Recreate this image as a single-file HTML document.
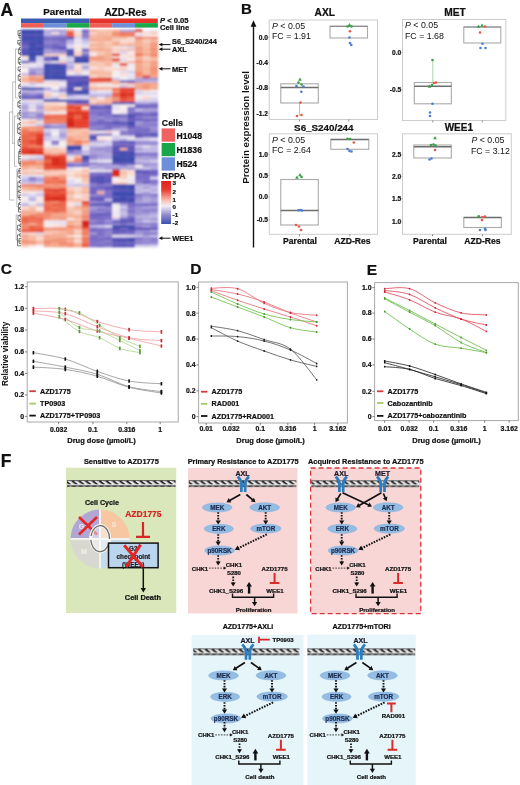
<!DOCTYPE html>
<html><head><meta charset="utf-8"><style>
html,body{margin:0;padding:0;background:#fff;}
svg{display:block;filter:blur(0.35px);}
text{font-family:'Liberation Sans',sans-serif;}
</style></head><body>
<svg width="520" height="785" viewBox="0 0 520 785">
<defs><filter id="hb" x="-2%" y="-2%" width="104%" height="104%"><feGaussianBlur stdDeviation="0.8"/></filter></defs>
<rect width="520" height="785" fill="#fff"/>
<text x="0.5" y="15.6" text-anchor="start" fill="#111" stroke="#111" stroke-width="0.22" style="font-size:17.5px;font-weight:bold;" >A</text>
<text x="62.5" y="15" text-anchor="middle" fill="#111" stroke="#111" stroke-width="0.22" style="font-size:9.8px;font-weight:bold;" >Parental</text>
<text x="125.5" y="15.6" text-anchor="middle" fill="#111" stroke="#111" stroke-width="0.22" style="font-size:10px;font-weight:bold;" >AZD-Res</text>
<rect x="21" y="18.5" width="68.4" height="4.6" fill="#3c5bb2"/>
<rect x="89.4" y="18.5" width="68.4" height="4.6" fill="#e6342a"/>
<rect x="21.00" y="23.1" width="22.9" height="4.5" fill="#ee5f58"/>
<rect x="43.80" y="23.1" width="22.9" height="4.5" fill="#6f8fd6"/>
<rect x="66.60" y="23.1" width="22.9" height="4.5" fill="#1aa84a"/>
<rect x="89.40" y="23.1" width="22.9" height="4.5" fill="#ee5f58"/>
<rect x="112.20" y="23.1" width="22.9" height="4.5" fill="#6f8fd6"/>
<rect x="135.00" y="23.1" width="22.9" height="4.5" fill="#1aa84a"/>
<g filter="url(#hb)"><rect x="21.0" y="29.50" width="7.9" height="2.72" fill="#3e4aae"/>
<rect x="28.6" y="29.50" width="7.9" height="2.72" fill="#3d4aae"/>
<rect x="36.2" y="29.50" width="7.9" height="2.72" fill="#3d4aae"/>
<rect x="21.0" y="31.92" width="7.9" height="2.72" fill="#3d4aae"/>
<rect x="28.6" y="31.92" width="7.9" height="2.72" fill="#3d4aae"/>
<rect x="36.2" y="31.92" width="7.9" height="2.72" fill="#3d4aae"/>
<rect x="21.0" y="34.33" width="7.9" height="2.72" fill="#514fb5"/>
<rect x="28.6" y="34.33" width="7.9" height="2.72" fill="#5350b5"/>
<rect x="36.2" y="34.33" width="7.9" height="2.72" fill="#514fb4"/>
<rect x="21.0" y="36.75" width="7.9" height="2.72" fill="#3d4aae"/>
<rect x="28.6" y="36.75" width="7.9" height="2.72" fill="#3d4aae"/>
<rect x="36.2" y="36.75" width="7.9" height="2.72" fill="#3d4aae"/>
<rect x="21.0" y="39.17" width="7.9" height="2.72" fill="#3d4aae"/>
<rect x="28.6" y="39.17" width="7.9" height="2.72" fill="#3d4aae"/>
<rect x="36.2" y="39.17" width="7.9" height="2.72" fill="#3d4aae"/>
<rect x="21.0" y="41.58" width="7.9" height="2.72" fill="#6156ba"/>
<rect x="28.6" y="41.58" width="7.9" height="2.72" fill="#484db1"/>
<rect x="36.2" y="41.58" width="7.9" height="2.72" fill="#3d4aae"/>
<rect x="21.0" y="44.00" width="7.9" height="2.72" fill="#665abd"/>
<rect x="28.6" y="44.00" width="7.9" height="2.72" fill="#3d4aae"/>
<rect x="36.2" y="44.00" width="7.9" height="2.72" fill="#5450b5"/>
<rect x="21.0" y="46.42" width="7.9" height="2.72" fill="#7266c3"/>
<rect x="28.6" y="46.42" width="7.9" height="2.72" fill="#404baf"/>
<rect x="36.2" y="46.42" width="7.9" height="2.72" fill="#3f4aaf"/>
<rect x="21.0" y="48.83" width="7.9" height="2.72" fill="#5550b6"/>
<rect x="28.6" y="48.83" width="7.9" height="2.72" fill="#3e4aae"/>
<rect x="36.2" y="48.83" width="7.9" height="2.72" fill="#3d4aae"/>
<rect x="21.0" y="51.25" width="7.9" height="2.72" fill="#4b4eb2"/>
<rect x="28.6" y="51.25" width="7.9" height="2.72" fill="#3d4aae"/>
<rect x="36.2" y="51.25" width="7.9" height="2.72" fill="#424bb0"/>
<rect x="21.0" y="53.67" width="7.9" height="2.72" fill="#514fb4"/>
<rect x="28.6" y="53.67" width="7.9" height="2.72" fill="#3d4aae"/>
<rect x="36.2" y="53.67" width="7.9" height="2.72" fill="#3d4aae"/>
<rect x="21.0" y="56.08" width="7.9" height="2.72" fill="#f7e0db"/>
<rect x="28.6" y="56.08" width="7.9" height="2.72" fill="#3d4aae"/>
<rect x="36.2" y="56.08" width="7.9" height="2.72" fill="#d2ccec"/>
<rect x="21.0" y="58.50" width="7.9" height="2.72" fill="#e7e2f0"/>
<rect x="28.6" y="58.50" width="7.9" height="2.72" fill="#404baf"/>
<rect x="36.2" y="58.50" width="7.9" height="2.72" fill="#d2ccec"/>
<rect x="21.0" y="60.92" width="7.9" height="2.72" fill="#3d4aae"/>
<rect x="28.6" y="60.92" width="7.9" height="2.72" fill="#9488d1"/>
<rect x="36.2" y="60.92" width="7.9" height="2.72" fill="#e1dbef"/>
<rect x="21.0" y="63.33" width="7.9" height="2.72" fill="#f6eaea"/>
<rect x="28.6" y="63.33" width="7.9" height="2.72" fill="#f5edee"/>
<rect x="36.2" y="63.33" width="7.9" height="2.72" fill="#e5e0f0"/>
<rect x="21.0" y="65.75" width="7.9" height="2.72" fill="#dcd6ef"/>
<rect x="28.6" y="65.75" width="7.9" height="2.72" fill="#ded8ef"/>
<rect x="36.2" y="65.75" width="7.9" height="2.72" fill="#d2ccec"/>
<rect x="21.0" y="68.17" width="7.9" height="2.72" fill="#f5eff0"/>
<rect x="28.6" y="68.17" width="7.9" height="2.72" fill="#a59ad8"/>
<rect x="36.2" y="68.17" width="7.9" height="2.72" fill="#a296d6"/>
<rect x="21.0" y="70.58" width="7.9" height="2.72" fill="#f5eff1"/>
<rect x="28.6" y="70.58" width="7.9" height="2.72" fill="#9d92d5"/>
<rect x="36.2" y="70.58" width="7.9" height="2.72" fill="#bbb1e1"/>
<rect x="21.0" y="73.00" width="7.9" height="2.72" fill="#c5bde6"/>
<rect x="28.6" y="73.00" width="7.9" height="2.72" fill="#887acc"/>
<rect x="36.2" y="73.00" width="7.9" height="2.72" fill="#9f93d5"/>
<rect x="21.0" y="75.42" width="7.9" height="2.72" fill="#f8c8b6"/>
<rect x="28.6" y="75.42" width="7.9" height="2.72" fill="#f4a88d"/>
<rect x="36.2" y="75.42" width="7.9" height="2.72" fill="#f5b198"/>
<rect x="21.0" y="77.83" width="7.9" height="2.72" fill="#f6b69e"/>
<rect x="28.6" y="77.83" width="7.9" height="2.72" fill="#f18b6e"/>
<rect x="36.2" y="77.83" width="7.9" height="2.72" fill="#f29579"/>
<rect x="21.0" y="80.25" width="7.9" height="2.72" fill="#f5b197"/>
<rect x="28.6" y="80.25" width="7.9" height="2.72" fill="#f4a78c"/>
<rect x="36.2" y="80.25" width="7.9" height="2.72" fill="#f1896c"/>
<rect x="21.0" y="82.67" width="7.9" height="2.72" fill="#f3eef2"/>
<rect x="28.6" y="82.67" width="7.9" height="2.72" fill="#d0caeb"/>
<rect x="36.2" y="82.67" width="7.9" height="2.72" fill="#e3ddf0"/>
<rect x="21.0" y="85.08" width="7.9" height="2.72" fill="#d0c9eb"/>
<rect x="28.6" y="85.08" width="7.9" height="2.72" fill="#e7e1f0"/>
<rect x="36.2" y="85.08" width="7.9" height="2.72" fill="#f5eeef"/>
<rect x="21.0" y="87.50" width="7.9" height="2.72" fill="#3d4aae"/>
<rect x="28.6" y="87.50" width="7.9" height="2.72" fill="#3d4aae"/>
<rect x="36.2" y="87.50" width="7.9" height="2.72" fill="#3d4aae"/>
<rect x="21.0" y="89.92" width="7.9" height="2.72" fill="#bbb2e1"/>
<rect x="28.6" y="89.92" width="7.9" height="2.72" fill="#b3a9de"/>
<rect x="36.2" y="89.92" width="7.9" height="2.72" fill="#c2bae5"/>
<rect x="21.0" y="92.33" width="7.9" height="2.72" fill="#978bd2"/>
<rect x="28.6" y="92.33" width="7.9" height="2.72" fill="#a89dd9"/>
<rect x="36.2" y="92.33" width="7.9" height="2.72" fill="#9c90d4"/>
<rect x="21.0" y="94.75" width="7.9" height="2.72" fill="#7669c5"/>
<rect x="28.6" y="94.75" width="7.9" height="2.72" fill="#7c6ec8"/>
<rect x="36.2" y="94.75" width="7.9" height="2.72" fill="#685cbe"/>
<rect x="21.0" y="97.17" width="7.9" height="2.72" fill="#6258bb"/>
<rect x="28.6" y="97.17" width="7.9" height="2.72" fill="#6257bb"/>
<rect x="36.2" y="97.17" width="7.9" height="2.72" fill="#6156ba"/>
<rect x="21.0" y="99.58" width="7.9" height="2.72" fill="#e8e3f0"/>
<rect x="28.6" y="99.58" width="7.9" height="2.72" fill="#f7e1dc"/>
<rect x="36.2" y="99.58" width="7.9" height="2.72" fill="#e5dff0"/>
<rect x="21.0" y="102.00" width="7.9" height="2.72" fill="#ccc5e9"/>
<rect x="28.6" y="102.00" width="7.9" height="2.72" fill="#d3cded"/>
<rect x="36.2" y="102.00" width="7.9" height="2.72" fill="#cfc9eb"/>
<rect x="21.0" y="104.42" width="7.9" height="2.72" fill="#b4aade"/>
<rect x="28.6" y="104.42" width="7.9" height="2.72" fill="#e0daef"/>
<rect x="36.2" y="104.42" width="7.9" height="2.72" fill="#bab1e1"/>
<rect x="21.0" y="106.83" width="7.9" height="2.72" fill="#a99ed9"/>
<rect x="28.6" y="106.83" width="7.9" height="2.72" fill="#dad4ee"/>
<rect x="36.2" y="106.83" width="7.9" height="2.72" fill="#a69ad8"/>
<rect x="21.0" y="109.25" width="7.9" height="2.72" fill="#c4bce6"/>
<rect x="28.6" y="109.25" width="7.9" height="2.72" fill="#f7e4e1"/>
<rect x="36.2" y="109.25" width="7.9" height="2.72" fill="#c1b8e4"/>
<rect x="21.0" y="111.67" width="7.9" height="2.72" fill="#9c90d4"/>
<rect x="28.6" y="111.67" width="7.9" height="2.72" fill="#a095d6"/>
<rect x="36.2" y="111.67" width="7.9" height="2.72" fill="#aca1da"/>
<rect x="21.0" y="114.08" width="7.9" height="2.72" fill="#a79cd8"/>
<rect x="28.6" y="114.08" width="7.9" height="2.72" fill="#bcb3e2"/>
<rect x="36.2" y="114.08" width="7.9" height="2.72" fill="#8476cb"/>
<rect x="21.0" y="116.50" width="7.9" height="2.72" fill="#9689d2"/>
<rect x="28.6" y="116.50" width="7.9" height="2.72" fill="#978bd2"/>
<rect x="36.2" y="116.50" width="7.9" height="2.72" fill="#9689d2"/>
<rect x="21.0" y="118.92" width="7.9" height="2.72" fill="#f4eff2"/>
<rect x="28.6" y="118.92" width="7.9" height="2.72" fill="#f8dbd3"/>
<rect x="36.2" y="118.92" width="7.9" height="2.72" fill="#c4bce5"/>
<rect x="21.0" y="121.33" width="7.9" height="2.72" fill="#f7c0aa"/>
<rect x="28.6" y="121.33" width="7.9" height="2.72" fill="#f5b299"/>
<rect x="36.2" y="121.33" width="7.9" height="2.72" fill="#f8ddd6"/>
<rect x="21.0" y="123.75" width="7.9" height="2.72" fill="#efeaf1"/>
<rect x="28.6" y="123.75" width="7.9" height="2.72" fill="#eae4f1"/>
<rect x="36.2" y="123.75" width="7.9" height="2.72" fill="#c9c2e8"/>
<rect x="21.0" y="126.17" width="7.9" height="2.72" fill="#f39b7e"/>
<rect x="28.6" y="126.17" width="7.9" height="2.72" fill="#f28f72"/>
<rect x="36.2" y="126.17" width="7.9" height="2.72" fill="#f18467"/>
<rect x="21.0" y="128.58" width="7.9" height="2.72" fill="#f08164"/>
<rect x="28.6" y="128.58" width="7.9" height="2.72" fill="#f3a387"/>
<rect x="36.2" y="128.58" width="7.9" height="2.72" fill="#f29578"/>
<rect x="21.0" y="131.00" width="7.9" height="2.72" fill="#ef6f52"/>
<rect x="28.6" y="131.00" width="7.9" height="2.72" fill="#ee6a4d"/>
<rect x="36.2" y="131.00" width="7.9" height="2.72" fill="#ec6247"/>
<rect x="21.0" y="133.42" width="7.9" height="2.72" fill="#ee6c4f"/>
<rect x="28.6" y="133.42" width="7.9" height="2.72" fill="#ea553c"/>
<rect x="36.2" y="133.42" width="7.9" height="2.72" fill="#e53d29"/>
<rect x="21.0" y="135.83" width="7.9" height="2.72" fill="#ec6045"/>
<rect x="28.6" y="135.83" width="7.9" height="2.72" fill="#ef6e51"/>
<rect x="36.2" y="135.83" width="7.9" height="2.72" fill="#e43c28"/>
<rect x="21.0" y="138.25" width="7.9" height="2.72" fill="#ec6045"/>
<rect x="28.6" y="138.25" width="7.9" height="2.72" fill="#ed6347"/>
<rect x="36.2" y="138.25" width="7.9" height="2.72" fill="#db2d1f"/>
<rect x="21.0" y="140.67" width="7.9" height="2.72" fill="#ec6045"/>
<rect x="28.6" y="140.67" width="7.9" height="2.72" fill="#e6402a"/>
<rect x="36.2" y="140.67" width="7.9" height="2.72" fill="#e43b28"/>
<rect x="21.0" y="143.08" width="7.9" height="2.72" fill="#ed6247"/>
<rect x="28.6" y="143.08" width="7.9" height="2.72" fill="#ec5e43"/>
<rect x="36.2" y="143.08" width="7.9" height="2.72" fill="#dd3121"/>
<rect x="21.0" y="145.50" width="7.9" height="2.72" fill="#ed6549"/>
<rect x="28.6" y="145.50" width="7.9" height="2.72" fill="#f07c5f"/>
<rect x="36.2" y="145.50" width="7.9" height="2.72" fill="#f07c5f"/>
<rect x="21.0" y="147.92" width="7.9" height="2.72" fill="#e63f2a"/>
<rect x="28.6" y="147.92" width="7.9" height="2.72" fill="#e63f2a"/>
<rect x="36.2" y="147.92" width="7.9" height="2.72" fill="#e7442e"/>
<rect x="21.0" y="150.33" width="7.9" height="2.72" fill="#db2d1f"/>
<rect x="28.6" y="150.33" width="7.9" height="2.72" fill="#d8281c"/>
<rect x="36.2" y="150.33" width="7.9" height="2.72" fill="#e13825"/>
<rect x="21.0" y="152.75" width="7.9" height="2.72" fill="#e84b34"/>
<rect x="28.6" y="152.75" width="7.9" height="2.72" fill="#e33a27"/>
<rect x="36.2" y="152.75" width="7.9" height="2.72" fill="#e03524"/>
<rect x="21.0" y="155.17" width="7.9" height="2.72" fill="#f5eff1"/>
<rect x="28.6" y="155.17" width="7.9" height="2.72" fill="#eee9f1"/>
<rect x="36.2" y="155.17" width="7.9" height="2.72" fill="#ded9ef"/>
<rect x="21.0" y="157.58" width="7.9" height="2.72" fill="#dbd6ef"/>
<rect x="28.6" y="157.58" width="7.9" height="2.72" fill="#c6bee6"/>
<rect x="36.2" y="157.58" width="7.9" height="2.72" fill="#beb5e3"/>
<rect x="21.0" y="160.00" width="7.9" height="2.72" fill="#f29578"/>
<rect x="28.6" y="160.00" width="7.9" height="2.72" fill="#f1896c"/>
<rect x="36.2" y="160.00" width="7.9" height="2.72" fill="#f3a488"/>
<rect x="21.0" y="162.42" width="7.9" height="2.72" fill="#f07c5f"/>
<rect x="28.6" y="162.42" width="7.9" height="2.72" fill="#f07d5f"/>
<rect x="36.2" y="162.42" width="7.9" height="2.72" fill="#f18e71"/>
<rect x="21.0" y="164.83" width="7.9" height="2.72" fill="#f3a287"/>
<rect x="28.6" y="164.83" width="7.9" height="2.72" fill="#f4ac91"/>
<rect x="36.2" y="164.83" width="7.9" height="2.72" fill="#f4ab91"/>
<rect x="21.0" y="167.25" width="7.9" height="2.72" fill="#f4a98f"/>
<rect x="28.6" y="167.25" width="7.9" height="2.72" fill="#f7bea7"/>
<rect x="36.2" y="167.25" width="7.9" height="2.72" fill="#f4ab90"/>
<rect x="21.0" y="169.67" width="7.9" height="2.72" fill="#f9d6cc"/>
<rect x="28.6" y="169.67" width="7.9" height="2.72" fill="#f8dcd4"/>
<rect x="36.2" y="169.67" width="7.9" height="2.72" fill="#f6e6e4"/>
<rect x="21.0" y="172.08" width="7.9" height="2.72" fill="#f6b79e"/>
<rect x="28.6" y="172.08" width="7.9" height="2.72" fill="#f7bea7"/>
<rect x="36.2" y="172.08" width="7.9" height="2.72" fill="#f5b298"/>
<rect x="21.0" y="174.50" width="7.9" height="2.72" fill="#e3ddf0"/>
<rect x="28.6" y="174.50" width="7.9" height="2.72" fill="#e9e4f0"/>
<rect x="36.2" y="174.50" width="7.9" height="2.72" fill="#ebe5f1"/>
<rect x="21.0" y="176.92" width="7.9" height="2.72" fill="#d2ccec"/>
<rect x="28.6" y="176.92" width="7.9" height="2.72" fill="#8578cc"/>
<rect x="36.2" y="176.92" width="7.9" height="2.72" fill="#b5acdf"/>
<rect x="21.0" y="179.33" width="7.9" height="2.72" fill="#b5acdf"/>
<rect x="28.6" y="179.33" width="7.9" height="2.72" fill="#988bd2"/>
<rect x="36.2" y="179.33" width="7.9" height="2.72" fill="#a69bd8"/>
<rect x="21.0" y="181.75" width="7.9" height="2.72" fill="#d1caec"/>
<rect x="28.6" y="181.75" width="7.9" height="2.72" fill="#c8c1e8"/>
<rect x="36.2" y="181.75" width="7.9" height="2.72" fill="#d5cfed"/>
<rect x="21.0" y="184.17" width="7.9" height="2.72" fill="#f08063"/>
<rect x="28.6" y="184.17" width="7.9" height="2.72" fill="#f07b5d"/>
<rect x="36.2" y="184.17" width="7.9" height="2.72" fill="#ef7658"/>
<rect x="21.0" y="186.58" width="7.9" height="2.72" fill="#f5b097"/>
<rect x="28.6" y="186.58" width="7.9" height="2.72" fill="#f4a98f"/>
<rect x="36.2" y="186.58" width="7.9" height="2.72" fill="#f2987c"/>
<rect x="21.0" y="189.00" width="7.9" height="2.72" fill="#f7c2ad"/>
<rect x="28.6" y="189.00" width="7.9" height="2.72" fill="#f5b299"/>
<rect x="36.2" y="189.00" width="7.9" height="2.72" fill="#f6b49b"/>
<rect x="21.0" y="191.42" width="7.9" height="2.72" fill="#f6e7e4"/>
<rect x="28.6" y="191.42" width="7.9" height="2.72" fill="#f5eeef"/>
<rect x="36.2" y="191.42" width="7.9" height="2.72" fill="#e5e0f0"/>
<rect x="21.0" y="193.83" width="7.9" height="2.72" fill="#c8c0e7"/>
<rect x="28.6" y="193.83" width="7.9" height="2.72" fill="#ded8ef"/>
<rect x="36.2" y="193.83" width="7.9" height="2.72" fill="#c9c1e8"/>
<rect x="21.0" y="196.25" width="7.9" height="2.72" fill="#f5f0f2"/>
<rect x="28.6" y="196.25" width="7.9" height="2.72" fill="#cbc3e9"/>
<rect x="36.2" y="196.25" width="7.9" height="2.72" fill="#f6e9e7"/>
<rect x="21.0" y="198.67" width="7.9" height="2.72" fill="#f6e8e7"/>
<rect x="28.6" y="198.67" width="7.9" height="2.72" fill="#b8aee0"/>
<rect x="36.2" y="198.67" width="7.9" height="2.72" fill="#f6e9e7"/>
<rect x="21.0" y="201.08" width="7.9" height="2.72" fill="#ebe6f1"/>
<rect x="28.6" y="201.08" width="7.9" height="2.72" fill="#f0ebf1"/>
<rect x="36.2" y="201.08" width="7.9" height="2.72" fill="#f7e5e2"/>
<rect x="21.0" y="203.50" width="7.9" height="2.72" fill="#b4aade"/>
<rect x="28.6" y="203.50" width="7.9" height="2.72" fill="#e5e0f0"/>
<rect x="36.2" y="203.50" width="7.9" height="2.72" fill="#bab1e1"/>
<rect x="21.0" y="205.92" width="7.9" height="2.72" fill="#f9d9d0"/>
<rect x="28.6" y="205.92" width="7.9" height="2.72" fill="#f7c2ad"/>
<rect x="36.2" y="205.92" width="7.9" height="2.72" fill="#f8ddd7"/>
<rect x="21.0" y="208.33" width="7.9" height="2.72" fill="#f8d0c2"/>
<rect x="28.6" y="208.33" width="7.9" height="2.72" fill="#f6bba3"/>
<rect x="36.2" y="208.33" width="7.9" height="2.72" fill="#f5eef0"/>
<rect x="21.0" y="210.75" width="7.9" height="2.72" fill="#f3a287"/>
<rect x="28.6" y="210.75" width="7.9" height="2.72" fill="#f5b39a"/>
<rect x="36.2" y="210.75" width="7.9" height="2.72" fill="#f6b59c"/>
<rect x="21.0" y="213.17" width="7.9" height="2.72" fill="#f5b096"/>
<rect x="28.6" y="213.17" width="7.9" height="2.72" fill="#f2997d"/>
<rect x="36.2" y="213.17" width="7.9" height="2.72" fill="#f18467"/>
<rect x="21.0" y="215.58" width="7.9" height="2.72" fill="#f0795b"/>
<rect x="28.6" y="215.58" width="7.9" height="2.72" fill="#ee6c4f"/>
<rect x="36.2" y="215.58" width="7.9" height="2.72" fill="#f08264"/>
<rect x="21.0" y="218.00" width="7.9" height="2.72" fill="#eb5c42"/>
<rect x="28.6" y="218.00" width="7.9" height="2.72" fill="#ef7052"/>
<rect x="36.2" y="218.00" width="7.9" height="2.72" fill="#ed674b"/>
<rect x="21.0" y="220.42" width="7.9" height="2.72" fill="#ec6246"/>
<rect x="28.6" y="220.42" width="7.9" height="2.72" fill="#ee6b4e"/>
<rect x="36.2" y="220.42" width="7.9" height="2.72" fill="#ee6d4f"/>
<rect x="21.0" y="222.83" width="7.9" height="2.72" fill="#f18669"/>
<rect x="28.6" y="222.83" width="7.9" height="2.72" fill="#f4a88e"/>
<rect x="36.2" y="222.83" width="7.9" height="2.72" fill="#f08164"/>
<rect x="21.0" y="225.25" width="7.9" height="2.72" fill="#f1886b"/>
<rect x="28.6" y="225.25" width="7.9" height="2.72" fill="#ed6347"/>
<rect x="36.2" y="225.25" width="7.9" height="2.72" fill="#ef7355"/>
<rect x="21.0" y="227.67" width="7.9" height="2.72" fill="#f08063"/>
<rect x="28.6" y="227.67" width="7.9" height="2.72" fill="#ec5e43"/>
<rect x="36.2" y="227.67" width="7.9" height="2.72" fill="#ec5f44"/>
<rect x="21.0" y="230.08" width="7.9" height="2.72" fill="#e94d36"/>
<rect x="28.6" y="230.08" width="7.9" height="2.72" fill="#ea523a"/>
<rect x="36.2" y="230.08" width="7.9" height="2.72" fill="#e84c35"/>
<rect x="21.0" y="232.50" width="7.9" height="2.72" fill="#f9d5cb"/>
<rect x="28.6" y="232.50" width="7.9" height="2.72" fill="#f8ddd7"/>
<rect x="36.2" y="232.50" width="7.9" height="2.72" fill="#ded8ef"/>
<rect x="21.0" y="234.92" width="7.9" height="2.72" fill="#f29679"/>
<rect x="28.6" y="234.92" width="7.9" height="2.72" fill="#f6b79e"/>
<rect x="36.2" y="234.92" width="7.9" height="2.72" fill="#f8c6b4"/>
<rect x="21.0" y="237.33" width="7.9" height="2.72" fill="#f6b8a0"/>
<rect x="28.6" y="237.33" width="7.9" height="2.72" fill="#f7bea7"/>
<rect x="36.2" y="237.33" width="7.9" height="2.72" fill="#f8dcd4"/>
<rect x="21.0" y="239.75" width="7.9" height="2.72" fill="#f29073"/>
<rect x="28.6" y="239.75" width="7.9" height="2.72" fill="#f4a78c"/>
<rect x="36.2" y="239.75" width="7.9" height="2.72" fill="#f7c0a9"/>
<rect x="21.0" y="242.17" width="7.9" height="2.72" fill="#f2987b"/>
<rect x="28.6" y="242.17" width="7.9" height="2.72" fill="#f28f72"/>
<rect x="36.2" y="242.17" width="7.9" height="2.72" fill="#f5b198"/>
<rect x="21.0" y="244.58" width="7.9" height="2.72" fill="#f8cbbb"/>
<rect x="28.6" y="244.58" width="7.9" height="2.72" fill="#f7e5e2"/>
<rect x="36.2" y="244.58" width="7.9" height="2.72" fill="#f5eff1"/>
<rect x="43.8" y="29.50" width="7.9" height="2.72" fill="#afa5dc"/>
<rect x="51.4" y="29.50" width="7.9" height="2.72" fill="#9f94d5"/>
<rect x="59.0" y="29.50" width="7.9" height="2.72" fill="#a69bd8"/>
<rect x="43.8" y="31.92" width="7.9" height="2.72" fill="#bab1e1"/>
<rect x="51.4" y="31.92" width="7.9" height="2.72" fill="#f7e0db"/>
<rect x="59.0" y="31.92" width="7.9" height="2.72" fill="#b7aee0"/>
<rect x="43.8" y="34.33" width="7.9" height="2.72" fill="#ada2db"/>
<rect x="51.4" y="34.33" width="7.9" height="2.72" fill="#a398d7"/>
<rect x="59.0" y="34.33" width="7.9" height="2.72" fill="#998dd3"/>
<rect x="43.8" y="36.75" width="7.9" height="2.72" fill="#7164c2"/>
<rect x="51.4" y="36.75" width="7.9" height="2.72" fill="#7063c2"/>
<rect x="59.0" y="36.75" width="7.9" height="2.72" fill="#7366c3"/>
<rect x="43.8" y="39.17" width="7.9" height="2.72" fill="#7e70c9"/>
<rect x="51.4" y="39.17" width="7.9" height="2.72" fill="#7b6dc7"/>
<rect x="59.0" y="39.17" width="7.9" height="2.72" fill="#6f62c1"/>
<rect x="43.8" y="41.58" width="7.9" height="2.72" fill="#9184d0"/>
<rect x="51.4" y="41.58" width="7.9" height="2.72" fill="#8a7ccd"/>
<rect x="59.0" y="41.58" width="7.9" height="2.72" fill="#8275ca"/>
<rect x="43.8" y="44.00" width="7.9" height="2.72" fill="#7a6cc7"/>
<rect x="51.4" y="44.00" width="7.9" height="2.72" fill="#7063c2"/>
<rect x="59.0" y="44.00" width="7.9" height="2.72" fill="#8678cc"/>
<rect x="43.8" y="46.42" width="7.9" height="2.72" fill="#7367c4"/>
<rect x="51.4" y="46.42" width="7.9" height="2.72" fill="#6056ba"/>
<rect x="59.0" y="46.42" width="7.9" height="2.72" fill="#504fb4"/>
<rect x="43.8" y="48.83" width="7.9" height="2.72" fill="#a79cd8"/>
<rect x="51.4" y="48.83" width="7.9" height="2.72" fill="#9083d0"/>
<rect x="59.0" y="48.83" width="7.9" height="2.72" fill="#8477cb"/>
<rect x="43.8" y="51.25" width="7.9" height="2.72" fill="#a094d6"/>
<rect x="51.4" y="51.25" width="7.9" height="2.72" fill="#a094d6"/>
<rect x="59.0" y="51.25" width="7.9" height="2.72" fill="#9c90d4"/>
<rect x="43.8" y="53.67" width="7.9" height="2.72" fill="#f8cdbe"/>
<rect x="51.4" y="53.67" width="7.9" height="2.72" fill="#f9d4c9"/>
<rect x="59.0" y="53.67" width="7.9" height="2.72" fill="#f8cebf"/>
<rect x="43.8" y="56.08" width="7.9" height="2.72" fill="#8477cb"/>
<rect x="51.4" y="56.08" width="7.9" height="2.72" fill="#6459bc"/>
<rect x="59.0" y="56.08" width="7.9" height="2.72" fill="#ede8f1"/>
<rect x="43.8" y="58.50" width="7.9" height="2.72" fill="#6156bb"/>
<rect x="51.4" y="58.50" width="7.9" height="2.72" fill="#3d4aae"/>
<rect x="59.0" y="58.50" width="7.9" height="2.72" fill="#e1dcef"/>
<rect x="43.8" y="60.92" width="7.9" height="2.72" fill="#c5bde6"/>
<rect x="51.4" y="60.92" width="7.9" height="2.72" fill="#e1dbef"/>
<rect x="59.0" y="60.92" width="7.9" height="2.72" fill="#f8c9b8"/>
<rect x="43.8" y="63.33" width="7.9" height="2.72" fill="#504fb4"/>
<rect x="51.4" y="63.33" width="7.9" height="2.72" fill="#5350b5"/>
<rect x="59.0" y="63.33" width="7.9" height="2.72" fill="#6d61c1"/>
<rect x="43.8" y="65.75" width="7.9" height="2.72" fill="#404baf"/>
<rect x="51.4" y="65.75" width="7.9" height="2.72" fill="#414baf"/>
<rect x="59.0" y="65.75" width="7.9" height="2.72" fill="#3d4aae"/>
<rect x="43.8" y="68.17" width="7.9" height="2.72" fill="#3d4aae"/>
<rect x="51.4" y="68.17" width="7.9" height="2.72" fill="#3d4aae"/>
<rect x="59.0" y="68.17" width="7.9" height="2.72" fill="#3d4aae"/>
<rect x="43.8" y="70.58" width="7.9" height="2.72" fill="#4b4eb2"/>
<rect x="51.4" y="70.58" width="7.9" height="2.72" fill="#5350b5"/>
<rect x="59.0" y="70.58" width="7.9" height="2.72" fill="#504fb4"/>
<rect x="43.8" y="73.00" width="7.9" height="2.72" fill="#414baf"/>
<rect x="51.4" y="73.00" width="7.9" height="2.72" fill="#3e4aae"/>
<rect x="59.0" y="73.00" width="7.9" height="2.72" fill="#484db1"/>
<rect x="43.8" y="75.42" width="7.9" height="2.72" fill="#3d4aae"/>
<rect x="51.4" y="75.42" width="7.9" height="2.72" fill="#3d4aae"/>
<rect x="59.0" y="75.42" width="7.9" height="2.72" fill="#3d4aae"/>
<rect x="43.8" y="77.83" width="7.9" height="2.72" fill="#3d4aae"/>
<rect x="51.4" y="77.83" width="7.9" height="2.72" fill="#3d4aae"/>
<rect x="59.0" y="77.83" width="7.9" height="2.72" fill="#3d4aae"/>
<rect x="43.8" y="80.25" width="7.9" height="2.72" fill="#e2ddf0"/>
<rect x="51.4" y="80.25" width="7.9" height="2.72" fill="#e0daef"/>
<rect x="59.0" y="80.25" width="7.9" height="2.72" fill="#cfc8eb"/>
<rect x="43.8" y="82.67" width="7.9" height="2.72" fill="#f7e1dc"/>
<rect x="51.4" y="82.67" width="7.9" height="2.72" fill="#f8dbd3"/>
<rect x="59.0" y="82.67" width="7.9" height="2.72" fill="#f4eef2"/>
<rect x="43.8" y="85.08" width="7.9" height="2.72" fill="#f5eef0"/>
<rect x="51.4" y="85.08" width="7.9" height="2.72" fill="#f6ebea"/>
<rect x="59.0" y="85.08" width="7.9" height="2.72" fill="#dfd9ef"/>
<rect x="43.8" y="87.50" width="7.9" height="2.72" fill="#a79cd8"/>
<rect x="51.4" y="87.50" width="7.9" height="2.72" fill="#f1ecf2"/>
<rect x="59.0" y="87.50" width="7.9" height="2.72" fill="#afa4dc"/>
<rect x="43.8" y="89.92" width="7.9" height="2.72" fill="#dcd6ef"/>
<rect x="51.4" y="89.92" width="7.9" height="2.72" fill="#c1b9e4"/>
<rect x="59.0" y="89.92" width="7.9" height="2.72" fill="#988cd3"/>
<rect x="43.8" y="92.33" width="7.9" height="2.72" fill="#f9d3c7"/>
<rect x="51.4" y="92.33" width="7.9" height="2.72" fill="#f6e8e7"/>
<rect x="59.0" y="92.33" width="7.9" height="2.72" fill="#e0dbef"/>
<rect x="43.8" y="94.75" width="7.9" height="2.72" fill="#f8c8b6"/>
<rect x="51.4" y="94.75" width="7.9" height="2.72" fill="#e6e1f0"/>
<rect x="59.0" y="94.75" width="7.9" height="2.72" fill="#f7c2ac"/>
<rect x="43.8" y="97.17" width="7.9" height="2.72" fill="#cec7ea"/>
<rect x="51.4" y="97.17" width="7.9" height="2.72" fill="#bbb2e1"/>
<rect x="59.0" y="97.17" width="7.9" height="2.72" fill="#f6eae9"/>
<rect x="43.8" y="99.58" width="7.9" height="2.72" fill="#3d4aae"/>
<rect x="51.4" y="99.58" width="7.9" height="2.72" fill="#3d4aae"/>
<rect x="59.0" y="99.58" width="7.9" height="2.72" fill="#454cb1"/>
<rect x="43.8" y="102.00" width="7.9" height="2.72" fill="#f8ddd7"/>
<rect x="51.4" y="102.00" width="7.9" height="2.72" fill="#f8dbd3"/>
<rect x="59.0" y="102.00" width="7.9" height="2.72" fill="#f7e2de"/>
<rect x="43.8" y="104.42" width="7.9" height="2.72" fill="#f8c7b4"/>
<rect x="51.4" y="104.42" width="7.9" height="2.72" fill="#f8cbbb"/>
<rect x="59.0" y="104.42" width="7.9" height="2.72" fill="#f9d1c4"/>
<rect x="43.8" y="106.83" width="7.9" height="2.72" fill="#f7bfa8"/>
<rect x="51.4" y="106.83" width="7.9" height="2.72" fill="#f5ad93"/>
<rect x="59.0" y="106.83" width="7.9" height="2.72" fill="#f3a387"/>
<rect x="43.8" y="109.25" width="7.9" height="2.72" fill="#f6b89f"/>
<rect x="51.4" y="109.25" width="7.9" height="2.72" fill="#f6b8a0"/>
<rect x="59.0" y="109.25" width="7.9" height="2.72" fill="#f8c8b6"/>
<rect x="43.8" y="111.67" width="7.9" height="2.72" fill="#ebe6f1"/>
<rect x="51.4" y="111.67" width="7.9" height="2.72" fill="#f5f0f1"/>
<rect x="59.0" y="111.67" width="7.9" height="2.72" fill="#f5eeef"/>
<rect x="43.8" y="114.08" width="7.9" height="2.72" fill="#f07a5c"/>
<rect x="51.4" y="114.08" width="7.9" height="2.72" fill="#ef7254"/>
<rect x="59.0" y="114.08" width="7.9" height="2.72" fill="#ef7153"/>
<rect x="43.8" y="116.50" width="7.9" height="2.72" fill="#ec6045"/>
<rect x="51.4" y="116.50" width="7.9" height="2.72" fill="#ee6b4e"/>
<rect x="59.0" y="116.50" width="7.9" height="2.72" fill="#ef7153"/>
<rect x="43.8" y="118.92" width="7.9" height="2.72" fill="#f07e61"/>
<rect x="51.4" y="118.92" width="7.9" height="2.72" fill="#f18265"/>
<rect x="59.0" y="118.92" width="7.9" height="2.72" fill="#f0785a"/>
<rect x="43.8" y="121.33" width="7.9" height="2.72" fill="#f0785a"/>
<rect x="51.4" y="121.33" width="7.9" height="2.72" fill="#ef7355"/>
<rect x="59.0" y="121.33" width="7.9" height="2.72" fill="#f07d60"/>
<rect x="43.8" y="123.75" width="7.9" height="2.72" fill="#a69bd8"/>
<rect x="51.4" y="123.75" width="7.9" height="2.72" fill="#bbb2e1"/>
<rect x="59.0" y="123.75" width="7.9" height="2.72" fill="#aca1da"/>
<rect x="43.8" y="126.17" width="7.9" height="2.72" fill="#7769c5"/>
<rect x="51.4" y="126.17" width="7.9" height="2.72" fill="#897ccd"/>
<rect x="59.0" y="126.17" width="7.9" height="2.72" fill="#9589d1"/>
<rect x="43.8" y="128.58" width="7.9" height="2.72" fill="#dad4ef"/>
<rect x="51.4" y="128.58" width="7.9" height="2.72" fill="#e8e3f0"/>
<rect x="59.0" y="128.58" width="7.9" height="2.72" fill="#cbc4e9"/>
<rect x="43.8" y="131.00" width="7.9" height="2.72" fill="#cac3e8"/>
<rect x="51.4" y="131.00" width="7.9" height="2.72" fill="#eee9f1"/>
<rect x="59.0" y="131.00" width="7.9" height="2.72" fill="#bab1e1"/>
<rect x="43.8" y="133.42" width="7.9" height="2.72" fill="#a69bd8"/>
<rect x="51.4" y="133.42" width="7.9" height="2.72" fill="#f2edf2"/>
<rect x="59.0" y="133.42" width="7.9" height="2.72" fill="#a79cd8"/>
<rect x="43.8" y="135.83" width="7.9" height="2.72" fill="#cfc8eb"/>
<rect x="51.4" y="135.83" width="7.9" height="2.72" fill="#d9d3ee"/>
<rect x="59.0" y="135.83" width="7.9" height="2.72" fill="#afa5dc"/>
<rect x="43.8" y="138.25" width="7.9" height="2.72" fill="#c6bee7"/>
<rect x="51.4" y="138.25" width="7.9" height="2.72" fill="#e5e0f0"/>
<rect x="59.0" y="138.25" width="7.9" height="2.72" fill="#cac2e8"/>
<rect x="43.8" y="140.67" width="7.9" height="2.72" fill="#ede8f1"/>
<rect x="51.4" y="140.67" width="7.9" height="2.72" fill="#7e71c9"/>
<rect x="59.0" y="140.67" width="7.9" height="2.72" fill="#f6ebea"/>
<rect x="43.8" y="143.08" width="7.9" height="2.72" fill="#f6eae9"/>
<rect x="51.4" y="143.08" width="7.9" height="2.72" fill="#a095d6"/>
<rect x="59.0" y="143.08" width="7.9" height="2.72" fill="#f5eff1"/>
<rect x="43.8" y="145.50" width="7.9" height="2.72" fill="#ede7f1"/>
<rect x="51.4" y="145.50" width="7.9" height="2.72" fill="#f6e7e5"/>
<rect x="59.0" y="145.50" width="7.9" height="2.72" fill="#f0eaf1"/>
<rect x="43.8" y="147.92" width="7.9" height="2.72" fill="#f7c3af"/>
<rect x="51.4" y="147.92" width="7.9" height="2.72" fill="#f7bda6"/>
<rect x="59.0" y="147.92" width="7.9" height="2.72" fill="#f8cbba"/>
<rect x="43.8" y="150.33" width="7.9" height="2.72" fill="#f7c2ad"/>
<rect x="51.4" y="150.33" width="7.9" height="2.72" fill="#f8cbbb"/>
<rect x="59.0" y="150.33" width="7.9" height="2.72" fill="#f8c7b5"/>
<rect x="43.8" y="152.75" width="7.9" height="2.72" fill="#f2997d"/>
<rect x="51.4" y="152.75" width="7.9" height="2.72" fill="#f4aa90"/>
<rect x="59.0" y="152.75" width="7.9" height="2.72" fill="#f18d70"/>
<rect x="43.8" y="155.17" width="7.9" height="2.72" fill="#e33a27"/>
<rect x="51.4" y="155.17" width="7.9" height="2.72" fill="#e74630"/>
<rect x="59.0" y="155.17" width="7.9" height="2.72" fill="#e63f2a"/>
<rect x="43.8" y="157.58" width="7.9" height="2.72" fill="#e84b34"/>
<rect x="51.4" y="157.58" width="7.9" height="2.72" fill="#da2c1e"/>
<rect x="59.0" y="157.58" width="7.9" height="2.72" fill="#e43c28"/>
<rect x="43.8" y="160.00" width="7.9" height="2.72" fill="#ee6c4e"/>
<rect x="51.4" y="160.00" width="7.9" height="2.72" fill="#d92b1d"/>
<rect x="59.0" y="160.00" width="7.9" height="2.72" fill="#e03524"/>
<rect x="43.8" y="162.42" width="7.9" height="2.72" fill="#e7432e"/>
<rect x="51.4" y="162.42" width="7.9" height="2.72" fill="#d52319"/>
<rect x="59.0" y="162.42" width="7.9" height="2.72" fill="#d92a1d"/>
<rect x="43.8" y="164.83" width="7.9" height="2.72" fill="#e94e36"/>
<rect x="51.4" y="164.83" width="7.9" height="2.72" fill="#e63f2a"/>
<rect x="59.0" y="164.83" width="7.9" height="2.72" fill="#e53d29"/>
<rect x="43.8" y="167.25" width="7.9" height="2.72" fill="#e43c28"/>
<rect x="51.4" y="167.25" width="7.9" height="2.72" fill="#e6402b"/>
<rect x="59.0" y="167.25" width="7.9" height="2.72" fill="#e23926"/>
<rect x="43.8" y="169.67" width="7.9" height="2.72" fill="#f6b79f"/>
<rect x="51.4" y="169.67" width="7.9" height="2.72" fill="#f7bfa9"/>
<rect x="59.0" y="169.67" width="7.9" height="2.72" fill="#f8c8b7"/>
<rect x="43.8" y="172.08" width="7.9" height="2.72" fill="#f8cec0"/>
<rect x="51.4" y="172.08" width="7.9" height="2.72" fill="#f9d0c3"/>
<rect x="59.0" y="172.08" width="7.9" height="2.72" fill="#f8cbba"/>
<rect x="43.8" y="174.50" width="7.9" height="2.72" fill="#f6b59c"/>
<rect x="51.4" y="174.50" width="7.9" height="2.72" fill="#f6b49b"/>
<rect x="59.0" y="174.50" width="7.9" height="2.72" fill="#f4a589"/>
<rect x="43.8" y="176.92" width="7.9" height="2.72" fill="#f07c5f"/>
<rect x="51.4" y="176.92" width="7.9" height="2.72" fill="#ec5f44"/>
<rect x="59.0" y="176.92" width="7.9" height="2.72" fill="#f29073"/>
<rect x="43.8" y="179.33" width="7.9" height="2.72" fill="#f0775a"/>
<rect x="51.4" y="179.33" width="7.9" height="2.72" fill="#f0785a"/>
<rect x="59.0" y="179.33" width="7.9" height="2.72" fill="#ef7557"/>
<rect x="43.8" y="181.75" width="7.9" height="2.72" fill="#ef7052"/>
<rect x="51.4" y="181.75" width="7.9" height="2.72" fill="#ef7456"/>
<rect x="59.0" y="181.75" width="7.9" height="2.72" fill="#ee6c4f"/>
<rect x="43.8" y="184.17" width="7.9" height="2.72" fill="#f39b7e"/>
<rect x="51.4" y="184.17" width="7.9" height="2.72" fill="#f29175"/>
<rect x="59.0" y="184.17" width="7.9" height="2.72" fill="#f39c80"/>
<rect x="43.8" y="186.58" width="7.9" height="2.72" fill="#f07c5e"/>
<rect x="51.4" y="186.58" width="7.9" height="2.72" fill="#f1896c"/>
<rect x="59.0" y="186.58" width="7.9" height="2.72" fill="#f07c5e"/>
<rect x="43.8" y="189.00" width="7.9" height="2.72" fill="#e03524"/>
<rect x="51.4" y="189.00" width="7.9" height="2.72" fill="#df3423"/>
<rect x="59.0" y="189.00" width="7.9" height="2.72" fill="#e13825"/>
<rect x="43.8" y="191.42" width="7.9" height="2.72" fill="#eb593f"/>
<rect x="51.4" y="191.42" width="7.9" height="2.72" fill="#ea533b"/>
<rect x="59.0" y="191.42" width="7.9" height="2.72" fill="#ec5e43"/>
<rect x="43.8" y="193.83" width="7.9" height="2.72" fill="#e43b28"/>
<rect x="51.4" y="193.83" width="7.9" height="2.72" fill="#e84a33"/>
<rect x="59.0" y="193.83" width="7.9" height="2.72" fill="#e43c28"/>
<rect x="43.8" y="196.25" width="7.9" height="2.72" fill="#dc2f20"/>
<rect x="51.4" y="196.25" width="7.9" height="2.72" fill="#d92a1d"/>
<rect x="59.0" y="196.25" width="7.9" height="2.72" fill="#da2c1e"/>
<rect x="43.8" y="198.67" width="7.9" height="2.72" fill="#db2d1f"/>
<rect x="51.4" y="198.67" width="7.9" height="2.72" fill="#d8291c"/>
<rect x="59.0" y="198.67" width="7.9" height="2.72" fill="#df3323"/>
<rect x="43.8" y="201.08" width="7.9" height="2.72" fill="#ef7052"/>
<rect x="51.4" y="201.08" width="7.9" height="2.72" fill="#f18366"/>
<rect x="59.0" y="201.08" width="7.9" height="2.72" fill="#ec6146"/>
<rect x="43.8" y="203.50" width="7.9" height="2.72" fill="#ef7355"/>
<rect x="51.4" y="203.50" width="7.9" height="2.72" fill="#eb583e"/>
<rect x="59.0" y="203.50" width="7.9" height="2.72" fill="#ec6146"/>
<rect x="43.8" y="205.92" width="7.9" height="2.72" fill="#ed6448"/>
<rect x="51.4" y="205.92" width="7.9" height="2.72" fill="#f0785a"/>
<rect x="59.0" y="205.92" width="7.9" height="2.72" fill="#ee6a4d"/>
<rect x="43.8" y="208.33" width="7.9" height="2.72" fill="#eb5b41"/>
<rect x="51.4" y="208.33" width="7.9" height="2.72" fill="#ec6045"/>
<rect x="59.0" y="208.33" width="7.9" height="2.72" fill="#ed6448"/>
<rect x="43.8" y="210.75" width="7.9" height="2.72" fill="#f08265"/>
<rect x="51.4" y="210.75" width="7.9" height="2.72" fill="#ef7456"/>
<rect x="59.0" y="210.75" width="7.9" height="2.72" fill="#f08164"/>
<rect x="43.8" y="213.17" width="7.9" height="2.72" fill="#f18467"/>
<rect x="51.4" y="213.17" width="7.9" height="2.72" fill="#f3a185"/>
<rect x="59.0" y="213.17" width="7.9" height="2.72" fill="#f3a387"/>
<rect x="43.8" y="215.58" width="7.9" height="2.72" fill="#f29174"/>
<rect x="51.4" y="215.58" width="7.9" height="2.72" fill="#f3a186"/>
<rect x="59.0" y="215.58" width="7.9" height="2.72" fill="#f3a387"/>
<rect x="43.8" y="218.00" width="7.9" height="2.72" fill="#f2987c"/>
<rect x="51.4" y="218.00" width="7.9" height="2.72" fill="#f4a88e"/>
<rect x="59.0" y="218.00" width="7.9" height="2.72" fill="#f39d81"/>
<rect x="43.8" y="220.42" width="7.9" height="2.72" fill="#efeaf1"/>
<rect x="51.4" y="220.42" width="7.9" height="2.72" fill="#e7e2f0"/>
<rect x="59.0" y="220.42" width="7.9" height="2.72" fill="#e7e2f0"/>
<rect x="43.8" y="222.83" width="7.9" height="2.72" fill="#f6ebea"/>
<rect x="51.4" y="222.83" width="7.9" height="2.72" fill="#f6e7e5"/>
<rect x="59.0" y="222.83" width="7.9" height="2.72" fill="#e8e3f0"/>
<rect x="43.8" y="225.25" width="7.9" height="2.72" fill="#f6e9e7"/>
<rect x="51.4" y="225.25" width="7.9" height="2.72" fill="#f8dfd9"/>
<rect x="59.0" y="225.25" width="7.9" height="2.72" fill="#f9d7ce"/>
<rect x="43.8" y="227.67" width="7.9" height="2.72" fill="#f1896c"/>
<rect x="51.4" y="227.67" width="7.9" height="2.72" fill="#f18669"/>
<rect x="59.0" y="227.67" width="7.9" height="2.72" fill="#f18366"/>
<rect x="43.8" y="230.08" width="7.9" height="2.72" fill="#f6b9a1"/>
<rect x="51.4" y="230.08" width="7.9" height="2.72" fill="#f7c0aa"/>
<rect x="59.0" y="230.08" width="7.9" height="2.72" fill="#f6b69d"/>
<rect x="43.8" y="232.50" width="7.9" height="2.72" fill="#f8c7b5"/>
<rect x="51.4" y="232.50" width="7.9" height="2.72" fill="#f5b39a"/>
<rect x="59.0" y="232.50" width="7.9" height="2.72" fill="#f5b197"/>
<rect x="43.8" y="234.92" width="7.9" height="2.72" fill="#f3a084"/>
<rect x="51.4" y="234.92" width="7.9" height="2.72" fill="#f5ac92"/>
<rect x="59.0" y="234.92" width="7.9" height="2.72" fill="#f5b096"/>
<rect x="43.8" y="237.33" width="7.9" height="2.72" fill="#f4a88d"/>
<rect x="51.4" y="237.33" width="7.9" height="2.72" fill="#f39f83"/>
<rect x="59.0" y="237.33" width="7.9" height="2.72" fill="#f2987b"/>
<rect x="43.8" y="239.75" width="7.9" height="2.72" fill="#f29376"/>
<rect x="51.4" y="239.75" width="7.9" height="2.72" fill="#f18e71"/>
<rect x="59.0" y="239.75" width="7.9" height="2.72" fill="#f2987c"/>
<rect x="43.8" y="242.17" width="7.9" height="2.72" fill="#f1896c"/>
<rect x="51.4" y="242.17" width="7.9" height="2.72" fill="#f3a286"/>
<rect x="59.0" y="242.17" width="7.9" height="2.72" fill="#f08264"/>
<rect x="43.8" y="244.58" width="7.9" height="2.72" fill="#f4ab91"/>
<rect x="51.4" y="244.58" width="7.9" height="2.72" fill="#f4a98f"/>
<rect x="59.0" y="244.58" width="7.9" height="2.72" fill="#f3a085"/>
<rect x="66.6" y="29.50" width="7.9" height="2.72" fill="#f39c80"/>
<rect x="74.2" y="29.50" width="7.9" height="2.72" fill="#e1dcef"/>
<rect x="81.8" y="29.50" width="7.9" height="2.72" fill="#6f62c1"/>
<rect x="66.6" y="31.92" width="7.9" height="2.72" fill="#e84832"/>
<rect x="74.2" y="31.92" width="7.9" height="2.72" fill="#f7e2dd"/>
<rect x="81.8" y="31.92" width="7.9" height="2.72" fill="#8b7ece"/>
<rect x="66.6" y="34.33" width="7.9" height="2.72" fill="#eb5b41"/>
<rect x="74.2" y="34.33" width="7.9" height="2.72" fill="#f8ccbd"/>
<rect x="81.8" y="34.33" width="7.9" height="2.72" fill="#8072c9"/>
<rect x="66.6" y="36.75" width="7.9" height="2.72" fill="#514fb5"/>
<rect x="74.2" y="36.75" width="7.9" height="2.72" fill="#d9d3ee"/>
<rect x="81.8" y="36.75" width="7.9" height="2.72" fill="#9d91d5"/>
<rect x="66.6" y="39.17" width="7.9" height="2.72" fill="#a89dd9"/>
<rect x="74.2" y="39.17" width="7.9" height="2.72" fill="#ebe6f1"/>
<rect x="81.8" y="39.17" width="7.9" height="2.72" fill="#bcb3e2"/>
<rect x="66.6" y="41.58" width="7.9" height="2.72" fill="#bdb4e2"/>
<rect x="74.2" y="41.58" width="7.9" height="2.72" fill="#e1dbef"/>
<rect x="81.8" y="41.58" width="7.9" height="2.72" fill="#d3cded"/>
<rect x="66.6" y="44.00" width="7.9" height="2.72" fill="#d8d2ee"/>
<rect x="74.2" y="44.00" width="7.9" height="2.72" fill="#f3eef2"/>
<rect x="81.8" y="44.00" width="7.9" height="2.72" fill="#e3def0"/>
<rect x="66.6" y="46.42" width="7.9" height="2.72" fill="#dfdaef"/>
<rect x="74.2" y="46.42" width="7.9" height="2.72" fill="#f8dfd9"/>
<rect x="81.8" y="46.42" width="7.9" height="2.72" fill="#dfd9ef"/>
<rect x="66.6" y="48.83" width="7.9" height="2.72" fill="#3d4aae"/>
<rect x="74.2" y="48.83" width="7.9" height="2.72" fill="#f6e7e4"/>
<rect x="81.8" y="48.83" width="7.9" height="2.72" fill="#5e53b9"/>
<rect x="66.6" y="51.25" width="7.9" height="2.72" fill="#5350b5"/>
<rect x="74.2" y="51.25" width="7.9" height="2.72" fill="#f9d4c8"/>
<rect x="81.8" y="51.25" width="7.9" height="2.72" fill="#a499d7"/>
<rect x="66.6" y="53.67" width="7.9" height="2.72" fill="#4c4eb3"/>
<rect x="74.2" y="53.67" width="7.9" height="2.72" fill="#f8cec0"/>
<rect x="81.8" y="53.67" width="7.9" height="2.72" fill="#8173ca"/>
<rect x="66.6" y="56.08" width="7.9" height="2.72" fill="#beb5e3"/>
<rect x="74.2" y="56.08" width="7.9" height="2.72" fill="#3d4aae"/>
<rect x="81.8" y="56.08" width="7.9" height="2.72" fill="#3d4aae"/>
<rect x="66.6" y="58.50" width="7.9" height="2.72" fill="#dfd9ef"/>
<rect x="74.2" y="58.50" width="7.9" height="2.72" fill="#4a4db2"/>
<rect x="81.8" y="58.50" width="7.9" height="2.72" fill="#3f4baf"/>
<rect x="66.6" y="60.92" width="7.9" height="2.72" fill="#b5acdf"/>
<rect x="74.2" y="60.92" width="7.9" height="2.72" fill="#3d4aae"/>
<rect x="81.8" y="60.92" width="7.9" height="2.72" fill="#434cb0"/>
<rect x="66.6" y="63.33" width="7.9" height="2.72" fill="#c5bde6"/>
<rect x="74.2" y="63.33" width="7.9" height="2.72" fill="#f9d8cf"/>
<rect x="81.8" y="63.33" width="7.9" height="2.72" fill="#e1dbef"/>
<rect x="66.6" y="65.75" width="7.9" height="2.72" fill="#aca1da"/>
<rect x="74.2" y="65.75" width="7.9" height="2.72" fill="#f7e3df"/>
<rect x="81.8" y="65.75" width="7.9" height="2.72" fill="#a398d7"/>
<rect x="66.6" y="68.17" width="7.9" height="2.72" fill="#bdb4e2"/>
<rect x="74.2" y="68.17" width="7.9" height="2.72" fill="#f9d6cc"/>
<rect x="81.8" y="68.17" width="7.9" height="2.72" fill="#c6bee7"/>
<rect x="66.6" y="70.58" width="7.9" height="2.72" fill="#f7e1dc"/>
<rect x="74.2" y="70.58" width="7.9" height="2.72" fill="#f9d3c7"/>
<rect x="81.8" y="70.58" width="7.9" height="2.72" fill="#efe9f1"/>
<rect x="66.6" y="73.00" width="7.9" height="2.72" fill="#efeaf1"/>
<rect x="74.2" y="73.00" width="7.9" height="2.72" fill="#dad4ee"/>
<rect x="81.8" y="73.00" width="7.9" height="2.72" fill="#efeaf1"/>
<rect x="66.6" y="75.42" width="7.9" height="2.72" fill="#6358bc"/>
<rect x="74.2" y="75.42" width="7.9" height="2.72" fill="#6c60c0"/>
<rect x="81.8" y="75.42" width="7.9" height="2.72" fill="#5650b6"/>
<rect x="66.6" y="77.83" width="7.9" height="2.72" fill="#5951b7"/>
<rect x="74.2" y="77.83" width="7.9" height="2.72" fill="#6257bb"/>
<rect x="81.8" y="77.83" width="7.9" height="2.72" fill="#6459bc"/>
<rect x="66.6" y="80.25" width="7.9" height="2.72" fill="#5e54b9"/>
<rect x="74.2" y="80.25" width="7.9" height="2.72" fill="#5650b6"/>
<rect x="81.8" y="80.25" width="7.9" height="2.72" fill="#514fb4"/>
<rect x="66.6" y="82.67" width="7.9" height="2.72" fill="#5651b6"/>
<rect x="74.2" y="82.67" width="7.9" height="2.72" fill="#464cb1"/>
<rect x="81.8" y="82.67" width="7.9" height="2.72" fill="#4a4db2"/>
<rect x="66.6" y="85.08" width="7.9" height="2.72" fill="#5550b6"/>
<rect x="74.2" y="85.08" width="7.9" height="2.72" fill="#454cb1"/>
<rect x="81.8" y="85.08" width="7.9" height="2.72" fill="#6c60c0"/>
<rect x="66.6" y="87.50" width="7.9" height="2.72" fill="#4e4eb4"/>
<rect x="74.2" y="87.50" width="7.9" height="2.72" fill="#f7e0db"/>
<rect x="81.8" y="87.50" width="7.9" height="2.72" fill="#675cbe"/>
<rect x="66.6" y="89.92" width="7.9" height="2.72" fill="#5450b6"/>
<rect x="74.2" y="89.92" width="7.9" height="2.72" fill="#4b4eb2"/>
<rect x="81.8" y="89.92" width="7.9" height="2.72" fill="#434bb0"/>
<rect x="66.6" y="92.33" width="7.9" height="2.72" fill="#494db2"/>
<rect x="74.2" y="92.33" width="7.9" height="2.72" fill="#3d4aae"/>
<rect x="81.8" y="92.33" width="7.9" height="2.72" fill="#3d4aae"/>
<rect x="66.6" y="94.75" width="7.9" height="2.72" fill="#b9afe0"/>
<rect x="74.2" y="94.75" width="7.9" height="2.72" fill="#d2cbec"/>
<rect x="81.8" y="94.75" width="7.9" height="2.72" fill="#cfc8eb"/>
<rect x="66.6" y="97.17" width="7.9" height="2.72" fill="#d7d1ee"/>
<rect x="74.2" y="97.17" width="7.9" height="2.72" fill="#d4ceed"/>
<rect x="81.8" y="97.17" width="7.9" height="2.72" fill="#dbd5ef"/>
<rect x="66.6" y="99.58" width="7.9" height="2.72" fill="#5450b6"/>
<rect x="74.2" y="99.58" width="7.9" height="2.72" fill="#5b52b8"/>
<rect x="81.8" y="99.58" width="7.9" height="2.72" fill="#6358bc"/>
<rect x="66.6" y="102.00" width="7.9" height="2.72" fill="#8476cb"/>
<rect x="74.2" y="102.00" width="7.9" height="2.72" fill="#695dbe"/>
<rect x="81.8" y="102.00" width="7.9" height="2.72" fill="#6c60c0"/>
<rect x="66.6" y="104.42" width="7.9" height="2.72" fill="#ea573e"/>
<rect x="74.2" y="104.42" width="7.9" height="2.72" fill="#ef7355"/>
<rect x="81.8" y="104.42" width="7.9" height="2.72" fill="#ee6c4f"/>
<rect x="66.6" y="106.83" width="7.9" height="2.72" fill="#e7442e"/>
<rect x="74.2" y="106.83" width="7.9" height="2.72" fill="#e13625"/>
<rect x="81.8" y="106.83" width="7.9" height="2.72" fill="#f6e6e4"/>
<rect x="66.6" y="109.25" width="7.9" height="2.72" fill="#eb5d42"/>
<rect x="74.2" y="109.25" width="7.9" height="2.72" fill="#ea533a"/>
<rect x="81.8" y="109.25" width="7.9" height="2.72" fill="#ef7456"/>
<rect x="66.6" y="111.67" width="7.9" height="2.72" fill="#e03524"/>
<rect x="74.2" y="111.67" width="7.9" height="2.72" fill="#df3323"/>
<rect x="81.8" y="111.67" width="7.9" height="2.72" fill="#df3423"/>
<rect x="66.6" y="114.08" width="7.9" height="2.72" fill="#de3322"/>
<rect x="74.2" y="114.08" width="7.9" height="2.72" fill="#e94f37"/>
<rect x="81.8" y="114.08" width="7.9" height="2.72" fill="#df3423"/>
<rect x="66.6" y="116.50" width="7.9" height="2.72" fill="#e43c28"/>
<rect x="74.2" y="116.50" width="7.9" height="2.72" fill="#ed6448"/>
<rect x="81.8" y="116.50" width="7.9" height="2.72" fill="#da2c1e"/>
<rect x="66.6" y="118.92" width="7.9" height="2.72" fill="#d42218"/>
<rect x="74.2" y="118.92" width="7.9" height="2.72" fill="#e7432e"/>
<rect x="81.8" y="118.92" width="7.9" height="2.72" fill="#e6402a"/>
<rect x="66.6" y="121.33" width="7.9" height="2.72" fill="#d42218"/>
<rect x="74.2" y="121.33" width="7.9" height="2.72" fill="#e33a27"/>
<rect x="81.8" y="121.33" width="7.9" height="2.72" fill="#e33a27"/>
<rect x="66.6" y="123.75" width="7.9" height="2.72" fill="#d42218"/>
<rect x="74.2" y="123.75" width="7.9" height="2.72" fill="#e7442e"/>
<rect x="81.8" y="123.75" width="7.9" height="2.72" fill="#e7462f"/>
<rect x="66.6" y="126.17" width="7.9" height="2.72" fill="#e03524"/>
<rect x="74.2" y="126.17" width="7.9" height="2.72" fill="#e13725"/>
<rect x="81.8" y="126.17" width="7.9" height="2.72" fill="#e23926"/>
<rect x="66.6" y="128.58" width="7.9" height="2.72" fill="#f7bda6"/>
<rect x="74.2" y="128.58" width="7.9" height="2.72" fill="#f7c0a9"/>
<rect x="81.8" y="128.58" width="7.9" height="2.72" fill="#f8d0c2"/>
<rect x="66.6" y="131.00" width="7.9" height="2.72" fill="#f6b69d"/>
<rect x="74.2" y="131.00" width="7.9" height="2.72" fill="#f7c2ad"/>
<rect x="81.8" y="131.00" width="7.9" height="2.72" fill="#f5b096"/>
<rect x="66.6" y="133.42" width="7.9" height="2.72" fill="#f8c7b5"/>
<rect x="74.2" y="133.42" width="7.9" height="2.72" fill="#f7bca4"/>
<rect x="81.8" y="133.42" width="7.9" height="2.72" fill="#f6b69e"/>
<rect x="66.6" y="135.83" width="7.9" height="2.72" fill="#f4a78c"/>
<rect x="74.2" y="135.83" width="7.9" height="2.72" fill="#f6b59c"/>
<rect x="81.8" y="135.83" width="7.9" height="2.72" fill="#f5b39a"/>
<rect x="66.6" y="138.25" width="7.9" height="2.72" fill="#f39c80"/>
<rect x="74.2" y="138.25" width="7.9" height="2.72" fill="#f5af95"/>
<rect x="81.8" y="138.25" width="7.9" height="2.72" fill="#f7bfa8"/>
<rect x="66.6" y="140.67" width="7.9" height="2.72" fill="#f29477"/>
<rect x="74.2" y="140.67" width="7.9" height="2.72" fill="#f07e60"/>
<rect x="81.8" y="140.67" width="7.9" height="2.72" fill="#f29477"/>
<rect x="66.6" y="143.08" width="7.9" height="2.72" fill="#f4a88e"/>
<rect x="74.2" y="143.08" width="7.9" height="2.72" fill="#f18b6e"/>
<rect x="81.8" y="143.08" width="7.9" height="2.72" fill="#f7c0a9"/>
<rect x="66.6" y="145.50" width="7.9" height="2.72" fill="#3d4aae"/>
<rect x="74.2" y="145.50" width="7.9" height="2.72" fill="#3d4aae"/>
<rect x="81.8" y="145.50" width="7.9" height="2.72" fill="#dfdaef"/>
<rect x="66.6" y="147.92" width="7.9" height="2.72" fill="#3d4aae"/>
<rect x="74.2" y="147.92" width="7.9" height="2.72" fill="#404baf"/>
<rect x="81.8" y="147.92" width="7.9" height="2.72" fill="#e9e4f1"/>
<rect x="66.6" y="150.33" width="7.9" height="2.72" fill="#7a6cc7"/>
<rect x="74.2" y="150.33" width="7.9" height="2.72" fill="#9c90d4"/>
<rect x="81.8" y="150.33" width="7.9" height="2.72" fill="#bfb6e3"/>
<rect x="66.6" y="152.75" width="7.9" height="2.72" fill="#a398d7"/>
<rect x="74.2" y="152.75" width="7.9" height="2.72" fill="#9f93d5"/>
<rect x="81.8" y="152.75" width="7.9" height="2.72" fill="#cbc4e9"/>
<rect x="66.6" y="155.17" width="7.9" height="2.72" fill="#ddd7ef"/>
<rect x="74.2" y="155.17" width="7.9" height="2.72" fill="#f7bda6"/>
<rect x="81.8" y="155.17" width="7.9" height="2.72" fill="#3d4aae"/>
<rect x="66.6" y="157.58" width="7.9" height="2.72" fill="#f7e1dd"/>
<rect x="74.2" y="157.58" width="7.9" height="2.72" fill="#f28f72"/>
<rect x="81.8" y="157.58" width="7.9" height="2.72" fill="#514fb4"/>
<rect x="66.6" y="160.00" width="7.9" height="2.72" fill="#f6b49c"/>
<rect x="74.2" y="160.00" width="7.9" height="2.72" fill="#f07759"/>
<rect x="81.8" y="160.00" width="7.9" height="2.72" fill="#695ebf"/>
<rect x="66.6" y="162.42" width="7.9" height="2.72" fill="#887bcd"/>
<rect x="74.2" y="162.42" width="7.9" height="2.72" fill="#9b8fd4"/>
<rect x="81.8" y="162.42" width="7.9" height="2.72" fill="#8477cb"/>
<rect x="66.6" y="164.83" width="7.9" height="2.72" fill="#7b6dc8"/>
<rect x="74.2" y="164.83" width="7.9" height="2.72" fill="#8376cb"/>
<rect x="81.8" y="164.83" width="7.9" height="2.72" fill="#796cc7"/>
<rect x="66.6" y="167.25" width="7.9" height="2.72" fill="#e0daef"/>
<rect x="74.2" y="167.25" width="7.9" height="2.72" fill="#f4eff2"/>
<rect x="81.8" y="167.25" width="7.9" height="2.72" fill="#f7e1dc"/>
<rect x="66.6" y="169.67" width="7.9" height="2.72" fill="#f7e1dc"/>
<rect x="74.2" y="169.67" width="7.9" height="2.72" fill="#f8ddd7"/>
<rect x="81.8" y="169.67" width="7.9" height="2.72" fill="#f7bda5"/>
<rect x="66.6" y="172.08" width="7.9" height="2.72" fill="#f8e0da"/>
<rect x="74.2" y="172.08" width="7.9" height="2.72" fill="#f9d0c3"/>
<rect x="81.8" y="172.08" width="7.9" height="2.72" fill="#f8cbbb"/>
<rect x="66.6" y="174.50" width="7.9" height="2.72" fill="#f9d5ca"/>
<rect x="74.2" y="174.50" width="7.9" height="2.72" fill="#f7c1ab"/>
<rect x="81.8" y="174.50" width="7.9" height="2.72" fill="#f5ad93"/>
<rect x="66.6" y="176.92" width="7.9" height="2.72" fill="#f5f0f2"/>
<rect x="74.2" y="176.92" width="7.9" height="2.72" fill="#f8ddd6"/>
<rect x="81.8" y="176.92" width="7.9" height="2.72" fill="#f7c2ad"/>
<rect x="66.6" y="179.33" width="7.9" height="2.72" fill="#dfd9ef"/>
<rect x="74.2" y="179.33" width="7.9" height="2.72" fill="#f5eff0"/>
<rect x="81.8" y="179.33" width="7.9" height="2.72" fill="#f7c3ae"/>
<rect x="66.6" y="181.75" width="7.9" height="2.72" fill="#e0dbef"/>
<rect x="74.2" y="181.75" width="7.9" height="2.72" fill="#e8e3f0"/>
<rect x="81.8" y="181.75" width="7.9" height="2.72" fill="#f9d2c5"/>
<rect x="66.6" y="184.17" width="7.9" height="2.72" fill="#cec7ea"/>
<rect x="74.2" y="184.17" width="7.9" height="2.72" fill="#c0b8e4"/>
<rect x="81.8" y="184.17" width="7.9" height="2.72" fill="#ccc5e9"/>
<rect x="66.6" y="186.58" width="7.9" height="2.72" fill="#f8cec0"/>
<rect x="74.2" y="186.58" width="7.9" height="2.72" fill="#f8dad2"/>
<rect x="81.8" y="186.58" width="7.9" height="2.72" fill="#f6bba3"/>
<rect x="66.6" y="189.00" width="7.9" height="2.72" fill="#f8c6b3"/>
<rect x="74.2" y="189.00" width="7.9" height="2.72" fill="#f9d7cd"/>
<rect x="81.8" y="189.00" width="7.9" height="2.72" fill="#f7bfa8"/>
<rect x="66.6" y="191.42" width="7.9" height="2.72" fill="#f4aa8f"/>
<rect x="74.2" y="191.42" width="7.9" height="2.72" fill="#f8cab9"/>
<rect x="81.8" y="191.42" width="7.9" height="2.72" fill="#f5b096"/>
<rect x="66.6" y="193.83" width="7.9" height="2.72" fill="#f8c7b4"/>
<rect x="74.2" y="193.83" width="7.9" height="2.72" fill="#f8ddd7"/>
<rect x="81.8" y="193.83" width="7.9" height="2.72" fill="#f9d5ca"/>
<rect x="66.6" y="196.25" width="7.9" height="2.72" fill="#f8c5b1"/>
<rect x="74.2" y="196.25" width="7.9" height="2.72" fill="#f6e7e6"/>
<rect x="81.8" y="196.25" width="7.9" height="2.72" fill="#f8c5b1"/>
<rect x="66.6" y="198.67" width="7.9" height="2.72" fill="#f6b8a0"/>
<rect x="74.2" y="198.67" width="7.9" height="2.72" fill="#f6b8a0"/>
<rect x="81.8" y="198.67" width="7.9" height="2.72" fill="#f9d1c4"/>
<rect x="66.6" y="201.08" width="7.9" height="2.72" fill="#f9d5ca"/>
<rect x="74.2" y="201.08" width="7.9" height="2.72" fill="#f8d0c2"/>
<rect x="81.8" y="201.08" width="7.9" height="2.72" fill="#dd3021"/>
<rect x="66.6" y="203.50" width="7.9" height="2.72" fill="#f6eaea"/>
<rect x="74.2" y="203.50" width="7.9" height="2.72" fill="#e2ddf0"/>
<rect x="81.8" y="203.50" width="7.9" height="2.72" fill="#ef6f51"/>
<rect x="66.6" y="205.92" width="7.9" height="2.72" fill="#f8ccbd"/>
<rect x="74.2" y="205.92" width="7.9" height="2.72" fill="#f5ad93"/>
<rect x="81.8" y="205.92" width="7.9" height="2.72" fill="#f29276"/>
<rect x="66.6" y="208.33" width="7.9" height="2.72" fill="#f7c5b1"/>
<rect x="74.2" y="208.33" width="7.9" height="2.72" fill="#f6b8a0"/>
<rect x="81.8" y="208.33" width="7.9" height="2.72" fill="#f4a589"/>
<rect x="66.6" y="210.75" width="7.9" height="2.72" fill="#f7c0aa"/>
<rect x="74.2" y="210.75" width="7.9" height="2.72" fill="#f9d2c6"/>
<rect x="81.8" y="210.75" width="7.9" height="2.72" fill="#f39c80"/>
<rect x="66.6" y="213.17" width="7.9" height="2.72" fill="#f6b49b"/>
<rect x="74.2" y="213.17" width="7.9" height="2.72" fill="#f7c4b1"/>
<rect x="81.8" y="213.17" width="7.9" height="2.72" fill="#f39d81"/>
<rect x="66.6" y="215.58" width="7.9" height="2.72" fill="#f5b39a"/>
<rect x="74.2" y="215.58" width="7.9" height="2.72" fill="#f4a88d"/>
<rect x="81.8" y="215.58" width="7.9" height="2.72" fill="#f08063"/>
<rect x="66.6" y="218.00" width="7.9" height="2.72" fill="#f7e3df"/>
<rect x="74.2" y="218.00" width="7.9" height="2.72" fill="#f8c6b2"/>
<rect x="81.8" y="218.00" width="7.9" height="2.72" fill="#f3a084"/>
<rect x="66.6" y="220.42" width="7.9" height="2.72" fill="#f4a78c"/>
<rect x="74.2" y="220.42" width="7.9" height="2.72" fill="#f6b69d"/>
<rect x="81.8" y="220.42" width="7.9" height="2.72" fill="#d42218"/>
<rect x="66.6" y="222.83" width="7.9" height="2.72" fill="#f6b9a1"/>
<rect x="74.2" y="222.83" width="7.9" height="2.72" fill="#f7c2ad"/>
<rect x="81.8" y="222.83" width="7.9" height="2.72" fill="#d42218"/>
<rect x="66.6" y="225.25" width="7.9" height="2.72" fill="#f08062"/>
<rect x="74.2" y="225.25" width="7.9" height="2.72" fill="#f39b7f"/>
<rect x="81.8" y="225.25" width="7.9" height="2.72" fill="#d42218"/>
<rect x="66.6" y="227.67" width="7.9" height="2.72" fill="#f3a488"/>
<rect x="74.2" y="227.67" width="7.9" height="2.72" fill="#f5ae94"/>
<rect x="81.8" y="227.67" width="7.9" height="2.72" fill="#ee6d4f"/>
<rect x="66.6" y="230.08" width="7.9" height="2.72" fill="#f4a58a"/>
<rect x="74.2" y="230.08" width="7.9" height="2.72" fill="#f9d7ce"/>
<rect x="81.8" y="230.08" width="7.9" height="2.72" fill="#f08163"/>
<rect x="66.6" y="232.50" width="7.9" height="2.72" fill="#f3a388"/>
<rect x="74.2" y="232.50" width="7.9" height="2.72" fill="#f7bca4"/>
<rect x="81.8" y="232.50" width="7.9" height="2.72" fill="#f0785a"/>
<rect x="66.6" y="234.92" width="7.9" height="2.72" fill="#f9d6cc"/>
<rect x="74.2" y="234.92" width="7.9" height="2.72" fill="#f5eeef"/>
<rect x="81.8" y="234.92" width="7.9" height="2.72" fill="#f2987c"/>
<rect x="66.6" y="237.33" width="7.9" height="2.72" fill="#f3a084"/>
<rect x="74.2" y="237.33" width="7.9" height="2.72" fill="#f6baa2"/>
<rect x="81.8" y="237.33" width="7.9" height="2.72" fill="#ef6f51"/>
<rect x="66.6" y="239.75" width="7.9" height="2.72" fill="#f6b59c"/>
<rect x="74.2" y="239.75" width="7.9" height="2.72" fill="#f7e3e0"/>
<rect x="81.8" y="239.75" width="7.9" height="2.72" fill="#f08062"/>
<rect x="66.6" y="242.17" width="7.9" height="2.72" fill="#f29275"/>
<rect x="74.2" y="242.17" width="7.9" height="2.72" fill="#f6b8a0"/>
<rect x="81.8" y="242.17" width="7.9" height="2.72" fill="#ee694c"/>
<rect x="66.6" y="244.58" width="7.9" height="2.72" fill="#f28f73"/>
<rect x="74.2" y="244.58" width="7.9" height="2.72" fill="#f4a78d"/>
<rect x="81.8" y="244.58" width="7.9" height="2.72" fill="#eb593f"/>
<rect x="89.4" y="29.50" width="7.9" height="2.72" fill="#f5ae94"/>
<rect x="97.0" y="29.50" width="7.9" height="2.72" fill="#f7c1ab"/>
<rect x="104.6" y="29.50" width="7.9" height="2.72" fill="#f7bfa8"/>
<rect x="89.4" y="31.92" width="7.9" height="2.72" fill="#f9d5ca"/>
<rect x="97.0" y="31.92" width="7.9" height="2.72" fill="#f7bda6"/>
<rect x="104.6" y="31.92" width="7.9" height="2.72" fill="#f6bba3"/>
<rect x="89.4" y="34.33" width="7.9" height="2.72" fill="#f6b9a1"/>
<rect x="97.0" y="34.33" width="7.9" height="2.72" fill="#f5b39a"/>
<rect x="104.6" y="34.33" width="7.9" height="2.72" fill="#f6b69e"/>
<rect x="89.4" y="36.75" width="7.9" height="2.72" fill="#f6b79f"/>
<rect x="97.0" y="36.75" width="7.9" height="2.72" fill="#f5b198"/>
<rect x="104.6" y="36.75" width="7.9" height="2.72" fill="#f4a68b"/>
<rect x="89.4" y="39.17" width="7.9" height="2.72" fill="#f4a58a"/>
<rect x="97.0" y="39.17" width="7.9" height="2.72" fill="#f5af96"/>
<rect x="104.6" y="39.17" width="7.9" height="2.72" fill="#f4aa90"/>
<rect x="89.4" y="41.58" width="7.9" height="2.72" fill="#f9d3c7"/>
<rect x="97.0" y="41.58" width="7.9" height="2.72" fill="#f6bba3"/>
<rect x="104.6" y="41.58" width="7.9" height="2.72" fill="#f9d0c3"/>
<rect x="89.4" y="44.00" width="7.9" height="2.72" fill="#f4a98e"/>
<rect x="97.0" y="44.00" width="7.9" height="2.72" fill="#f5b39a"/>
<rect x="104.6" y="44.00" width="7.9" height="2.72" fill="#f7bba4"/>
<rect x="89.4" y="46.42" width="7.9" height="2.72" fill="#f8c5b2"/>
<rect x="97.0" y="46.42" width="7.9" height="2.72" fill="#f6b9a1"/>
<rect x="104.6" y="46.42" width="7.9" height="2.72" fill="#f7c3ae"/>
<rect x="89.4" y="48.83" width="7.9" height="2.72" fill="#f4a88e"/>
<rect x="97.0" y="48.83" width="7.9" height="2.72" fill="#f4a489"/>
<rect x="104.6" y="48.83" width="7.9" height="2.72" fill="#f4ac91"/>
<rect x="89.4" y="51.25" width="7.9" height="2.72" fill="#f9d9d0"/>
<rect x="97.0" y="51.25" width="7.9" height="2.72" fill="#f8c6b3"/>
<rect x="104.6" y="51.25" width="7.9" height="2.72" fill="#f6b8a0"/>
<rect x="89.4" y="53.67" width="7.9" height="2.72" fill="#f3eef2"/>
<rect x="97.0" y="53.67" width="7.9" height="2.72" fill="#f7bea7"/>
<rect x="104.6" y="53.67" width="7.9" height="2.72" fill="#f5b39a"/>
<rect x="89.4" y="56.08" width="7.9" height="2.72" fill="#f2967a"/>
<rect x="97.0" y="56.08" width="7.9" height="2.72" fill="#f2997d"/>
<rect x="104.6" y="56.08" width="7.9" height="2.72" fill="#f5ad93"/>
<rect x="89.4" y="58.50" width="7.9" height="2.72" fill="#f39d81"/>
<rect x="97.0" y="58.50" width="7.9" height="2.72" fill="#f39e82"/>
<rect x="104.6" y="58.50" width="7.9" height="2.72" fill="#f4aa8f"/>
<rect x="89.4" y="60.92" width="7.9" height="2.72" fill="#f8cbbb"/>
<rect x="97.0" y="60.92" width="7.9" height="2.72" fill="#f7bfa8"/>
<rect x="104.6" y="60.92" width="7.9" height="2.72" fill="#f7bba4"/>
<rect x="89.4" y="63.33" width="7.9" height="2.72" fill="#f7bca4"/>
<rect x="97.0" y="63.33" width="7.9" height="2.72" fill="#f8c7b5"/>
<rect x="104.6" y="63.33" width="7.9" height="2.72" fill="#f5b096"/>
<rect x="89.4" y="65.75" width="7.9" height="2.72" fill="#f8ddd7"/>
<rect x="97.0" y="65.75" width="7.9" height="2.72" fill="#f8ccbc"/>
<rect x="104.6" y="65.75" width="7.9" height="2.72" fill="#f9d2c5"/>
<rect x="89.4" y="68.17" width="7.9" height="2.72" fill="#f9d4c8"/>
<rect x="97.0" y="68.17" width="7.9" height="2.72" fill="#f8cdbe"/>
<rect x="104.6" y="68.17" width="7.9" height="2.72" fill="#f8ddd6"/>
<rect x="89.4" y="70.58" width="7.9" height="2.72" fill="#f5b39a"/>
<rect x="97.0" y="70.58" width="7.9" height="2.72" fill="#f6baa3"/>
<rect x="104.6" y="70.58" width="7.9" height="2.72" fill="#f7c3ae"/>
<rect x="89.4" y="73.00" width="7.9" height="2.72" fill="#f7bea7"/>
<rect x="97.0" y="73.00" width="7.9" height="2.72" fill="#f7bda6"/>
<rect x="104.6" y="73.00" width="7.9" height="2.72" fill="#f6b59d"/>
<rect x="89.4" y="75.42" width="7.9" height="2.72" fill="#f8d9d1"/>
<rect x="97.0" y="75.42" width="7.9" height="2.72" fill="#f7c1ab"/>
<rect x="104.6" y="75.42" width="7.9" height="2.72" fill="#f8cab9"/>
<rect x="89.4" y="77.83" width="7.9" height="2.72" fill="#e43c28"/>
<rect x="97.0" y="77.83" width="7.9" height="2.72" fill="#e13725"/>
<rect x="104.6" y="77.83" width="7.9" height="2.72" fill="#d92a1d"/>
<rect x="89.4" y="80.25" width="7.9" height="2.72" fill="#ec5e43"/>
<rect x="97.0" y="80.25" width="7.9" height="2.72" fill="#ec6146"/>
<rect x="104.6" y="80.25" width="7.9" height="2.72" fill="#ee6c4e"/>
<rect x="89.4" y="82.67" width="7.9" height="2.72" fill="#f8dcd4"/>
<rect x="97.0" y="82.67" width="7.9" height="2.72" fill="#f6e7e5"/>
<rect x="104.6" y="82.67" width="7.9" height="2.72" fill="#efeaf1"/>
<rect x="89.4" y="85.08" width="7.9" height="2.72" fill="#f9d2c5"/>
<rect x="97.0" y="85.08" width="7.9" height="2.72" fill="#f7e1dc"/>
<rect x="104.6" y="85.08" width="7.9" height="2.72" fill="#f8dcd5"/>
<rect x="89.4" y="87.50" width="7.9" height="2.72" fill="#f4ab91"/>
<rect x="97.0" y="87.50" width="7.9" height="2.72" fill="#f4a68a"/>
<rect x="104.6" y="87.50" width="7.9" height="2.72" fill="#f5af95"/>
<rect x="89.4" y="89.92" width="7.9" height="2.72" fill="#dcd6ef"/>
<rect x="97.0" y="89.92" width="7.9" height="2.72" fill="#f2edf2"/>
<rect x="104.6" y="89.92" width="7.9" height="2.72" fill="#ede7f1"/>
<rect x="89.4" y="92.33" width="7.9" height="2.72" fill="#d5cfee"/>
<rect x="97.0" y="92.33" width="7.9" height="2.72" fill="#d3ccec"/>
<rect x="104.6" y="92.33" width="7.9" height="2.72" fill="#cfc8eb"/>
<rect x="89.4" y="94.75" width="7.9" height="2.72" fill="#b6acdf"/>
<rect x="97.0" y="94.75" width="7.9" height="2.72" fill="#c2b9e5"/>
<rect x="104.6" y="94.75" width="7.9" height="2.72" fill="#b3a9de"/>
<rect x="89.4" y="97.17" width="7.9" height="2.72" fill="#f7bca4"/>
<rect x="97.0" y="97.17" width="7.9" height="2.72" fill="#f6e6e4"/>
<rect x="104.6" y="97.17" width="7.9" height="2.72" fill="#f5b39a"/>
<rect x="89.4" y="99.58" width="7.9" height="2.72" fill="#f8dbd3"/>
<rect x="97.0" y="99.58" width="7.9" height="2.72" fill="#f8cbbb"/>
<rect x="104.6" y="99.58" width="7.9" height="2.72" fill="#f7bfa8"/>
<rect x="89.4" y="102.00" width="7.9" height="2.72" fill="#f7c0a9"/>
<rect x="97.0" y="102.00" width="7.9" height="2.72" fill="#f5ae94"/>
<rect x="104.6" y="102.00" width="7.9" height="2.72" fill="#f5af95"/>
<rect x="89.4" y="104.42" width="7.9" height="2.72" fill="#8274ca"/>
<rect x="97.0" y="104.42" width="7.9" height="2.72" fill="#8d80ce"/>
<rect x="104.6" y="104.42" width="7.9" height="2.72" fill="#7063c2"/>
<rect x="89.4" y="106.83" width="7.9" height="2.72" fill="#5851b7"/>
<rect x="97.0" y="106.83" width="7.9" height="2.72" fill="#6056ba"/>
<rect x="104.6" y="106.83" width="7.9" height="2.72" fill="#6055ba"/>
<rect x="89.4" y="109.25" width="7.9" height="2.72" fill="#8679cc"/>
<rect x="97.0" y="109.25" width="7.9" height="2.72" fill="#8476cb"/>
<rect x="104.6" y="109.25" width="7.9" height="2.72" fill="#7b6dc8"/>
<rect x="89.4" y="111.67" width="7.9" height="2.72" fill="#7f71c9"/>
<rect x="97.0" y="111.67" width="7.9" height="2.72" fill="#7c6ec8"/>
<rect x="104.6" y="111.67" width="7.9" height="2.72" fill="#7568c5"/>
<rect x="89.4" y="114.08" width="7.9" height="2.72" fill="#887bcd"/>
<rect x="97.0" y="114.08" width="7.9" height="2.72" fill="#7064c2"/>
<rect x="104.6" y="114.08" width="7.9" height="2.72" fill="#7d6fc8"/>
<rect x="89.4" y="116.50" width="7.9" height="2.72" fill="#9083cf"/>
<rect x="97.0" y="116.50" width="7.9" height="2.72" fill="#9d91d4"/>
<rect x="104.6" y="116.50" width="7.9" height="2.72" fill="#8678cc"/>
<rect x="89.4" y="118.92" width="7.9" height="2.72" fill="#9286d0"/>
<rect x="97.0" y="118.92" width="7.9" height="2.72" fill="#7d6fc8"/>
<rect x="104.6" y="118.92" width="7.9" height="2.72" fill="#988cd3"/>
<rect x="89.4" y="121.33" width="7.9" height="2.72" fill="#7a6cc7"/>
<rect x="97.0" y="121.33" width="7.9" height="2.72" fill="#655abd"/>
<rect x="104.6" y="121.33" width="7.9" height="2.72" fill="#6b5fbf"/>
<rect x="89.4" y="123.75" width="7.9" height="2.72" fill="#7e70c9"/>
<rect x="97.0" y="123.75" width="7.9" height="2.72" fill="#8577cb"/>
<rect x="104.6" y="123.75" width="7.9" height="2.72" fill="#7b6dc8"/>
<rect x="89.4" y="126.17" width="7.9" height="2.72" fill="#897ccd"/>
<rect x="97.0" y="126.17" width="7.9" height="2.72" fill="#8c7fce"/>
<rect x="104.6" y="126.17" width="7.9" height="2.72" fill="#6b5fbf"/>
<rect x="89.4" y="128.58" width="7.9" height="2.72" fill="#9387d1"/>
<rect x="97.0" y="128.58" width="7.9" height="2.72" fill="#7e70c9"/>
<rect x="104.6" y="128.58" width="7.9" height="2.72" fill="#9488d1"/>
<rect x="89.4" y="131.00" width="7.9" height="2.72" fill="#f8dbd3"/>
<rect x="97.0" y="131.00" width="7.9" height="2.72" fill="#f1ecf1"/>
<rect x="104.6" y="131.00" width="7.9" height="2.72" fill="#f9d5cb"/>
<rect x="89.4" y="133.42" width="7.9" height="2.72" fill="#9589d2"/>
<rect x="97.0" y="133.42" width="7.9" height="2.72" fill="#786ac6"/>
<rect x="104.6" y="133.42" width="7.9" height="2.72" fill="#8173ca"/>
<rect x="89.4" y="135.83" width="7.9" height="2.72" fill="#3d4aae"/>
<rect x="97.0" y="135.83" width="7.9" height="2.72" fill="#f6eaea"/>
<rect x="104.6" y="135.83" width="7.9" height="2.72" fill="#f6eded"/>
<rect x="89.4" y="138.25" width="7.9" height="2.72" fill="#6056ba"/>
<rect x="97.0" y="138.25" width="7.9" height="2.72" fill="#f9d9d1"/>
<rect x="104.6" y="138.25" width="7.9" height="2.72" fill="#f7e6e3"/>
<rect x="89.4" y="140.67" width="7.9" height="2.72" fill="#bcb3e2"/>
<rect x="97.0" y="140.67" width="7.9" height="2.72" fill="#bab1e1"/>
<rect x="104.6" y="140.67" width="7.9" height="2.72" fill="#cfc8eb"/>
<rect x="89.4" y="143.08" width="7.9" height="2.72" fill="#dad4ee"/>
<rect x="97.0" y="143.08" width="7.9" height="2.72" fill="#e0daef"/>
<rect x="104.6" y="143.08" width="7.9" height="2.72" fill="#dbd6ef"/>
<rect x="89.4" y="145.50" width="7.9" height="2.72" fill="#b9b0e1"/>
<rect x="97.0" y="145.50" width="7.9" height="2.72" fill="#bdb4e2"/>
<rect x="104.6" y="145.50" width="7.9" height="2.72" fill="#a59ad8"/>
<rect x="89.4" y="147.92" width="7.9" height="2.72" fill="#9c90d4"/>
<rect x="97.0" y="147.92" width="7.9" height="2.72" fill="#8d80ce"/>
<rect x="104.6" y="147.92" width="7.9" height="2.72" fill="#988cd3"/>
<rect x="89.4" y="150.33" width="7.9" height="2.72" fill="#a99ed9"/>
<rect x="97.0" y="150.33" width="7.9" height="2.72" fill="#aea3db"/>
<rect x="104.6" y="150.33" width="7.9" height="2.72" fill="#9b8fd4"/>
<rect x="89.4" y="152.75" width="7.9" height="2.72" fill="#a79cd8"/>
<rect x="97.0" y="152.75" width="7.9" height="2.72" fill="#aca2db"/>
<rect x="104.6" y="152.75" width="7.9" height="2.72" fill="#b4aade"/>
<rect x="89.4" y="155.17" width="7.9" height="2.72" fill="#877acc"/>
<rect x="97.0" y="155.17" width="7.9" height="2.72" fill="#9e92d5"/>
<rect x="104.6" y="155.17" width="7.9" height="2.72" fill="#a398d7"/>
<rect x="89.4" y="157.58" width="7.9" height="2.72" fill="#9d92d5"/>
<rect x="97.0" y="157.58" width="7.9" height="2.72" fill="#b9b0e1"/>
<rect x="104.6" y="157.58" width="7.9" height="2.72" fill="#bab0e1"/>
<rect x="89.4" y="160.00" width="7.9" height="2.72" fill="#dcd6ef"/>
<rect x="97.0" y="160.00" width="7.9" height="2.72" fill="#e7e1f0"/>
<rect x="104.6" y="160.00" width="7.9" height="2.72" fill="#ede8f1"/>
<rect x="89.4" y="162.42" width="7.9" height="2.72" fill="#887bcd"/>
<rect x="97.0" y="162.42" width="7.9" height="2.72" fill="#a296d6"/>
<rect x="104.6" y="162.42" width="7.9" height="2.72" fill="#a498d7"/>
<rect x="89.4" y="164.83" width="7.9" height="2.72" fill="#b7addf"/>
<rect x="97.0" y="164.83" width="7.9" height="2.72" fill="#a297d6"/>
<rect x="104.6" y="164.83" width="7.9" height="2.72" fill="#a89dd9"/>
<rect x="89.4" y="167.25" width="7.9" height="2.72" fill="#aa9fd9"/>
<rect x="97.0" y="167.25" width="7.9" height="2.72" fill="#b9b0e1"/>
<rect x="104.6" y="167.25" width="7.9" height="2.72" fill="#a094d6"/>
<rect x="89.4" y="169.67" width="7.9" height="2.72" fill="#f0ebf1"/>
<rect x="97.0" y="169.67" width="7.9" height="2.72" fill="#e6e1f0"/>
<rect x="104.6" y="169.67" width="7.9" height="2.72" fill="#e3def0"/>
<rect x="89.4" y="172.08" width="7.9" height="2.72" fill="#796cc7"/>
<rect x="97.0" y="172.08" width="7.9" height="2.72" fill="#7a6cc7"/>
<rect x="104.6" y="172.08" width="7.9" height="2.72" fill="#7063c2"/>
<rect x="89.4" y="174.50" width="7.9" height="2.72" fill="#7366c3"/>
<rect x="97.0" y="174.50" width="7.9" height="2.72" fill="#6a5ebf"/>
<rect x="104.6" y="174.50" width="7.9" height="2.72" fill="#695dbe"/>
<rect x="89.4" y="176.92" width="7.9" height="2.72" fill="#5a52b7"/>
<rect x="97.0" y="176.92" width="7.9" height="2.72" fill="#4a4db2"/>
<rect x="104.6" y="176.92" width="7.9" height="2.72" fill="#6459bc"/>
<rect x="89.4" y="179.33" width="7.9" height="2.72" fill="#4a4db2"/>
<rect x="97.0" y="179.33" width="7.9" height="2.72" fill="#4d4eb3"/>
<rect x="104.6" y="179.33" width="7.9" height="2.72" fill="#4d4eb3"/>
<rect x="89.4" y="181.75" width="7.9" height="2.72" fill="#7669c5"/>
<rect x="97.0" y="181.75" width="7.9" height="2.72" fill="#5d53b8"/>
<rect x="104.6" y="181.75" width="7.9" height="2.72" fill="#7568c4"/>
<rect x="89.4" y="184.17" width="7.9" height="2.72" fill="#8779cc"/>
<rect x="97.0" y="184.17" width="7.9" height="2.72" fill="#7c6ec8"/>
<rect x="104.6" y="184.17" width="7.9" height="2.72" fill="#8577cb"/>
<rect x="89.4" y="186.58" width="7.9" height="2.72" fill="#7467c4"/>
<rect x="97.0" y="186.58" width="7.9" height="2.72" fill="#6d61c1"/>
<rect x="104.6" y="186.58" width="7.9" height="2.72" fill="#5b52b8"/>
<rect x="89.4" y="189.00" width="7.9" height="2.72" fill="#7063c2"/>
<rect x="97.0" y="189.00" width="7.9" height="2.72" fill="#8b7ece"/>
<rect x="104.6" y="189.00" width="7.9" height="2.72" fill="#7366c4"/>
<rect x="89.4" y="191.42" width="7.9" height="2.72" fill="#675bbd"/>
<rect x="97.0" y="191.42" width="7.9" height="2.72" fill="#f5b198"/>
<rect x="104.6" y="191.42" width="7.9" height="2.72" fill="#7e70c9"/>
<rect x="89.4" y="193.83" width="7.9" height="2.72" fill="#9488d1"/>
<rect x="97.0" y="193.83" width="7.9" height="2.72" fill="#9184d0"/>
<rect x="104.6" y="193.83" width="7.9" height="2.72" fill="#7b6dc7"/>
<rect x="89.4" y="196.25" width="7.9" height="2.72" fill="#6d61c1"/>
<rect x="97.0" y="196.25" width="7.9" height="2.72" fill="#695dbe"/>
<rect x="104.6" y="196.25" width="7.9" height="2.72" fill="#786bc6"/>
<rect x="89.4" y="198.67" width="7.9" height="2.72" fill="#675cbe"/>
<rect x="97.0" y="198.67" width="7.9" height="2.72" fill="#6459bc"/>
<rect x="104.6" y="198.67" width="7.9" height="2.72" fill="#c7bfe7"/>
<rect x="89.4" y="201.08" width="7.9" height="2.72" fill="#988bd2"/>
<rect x="97.0" y="201.08" width="7.9" height="2.72" fill="#8a7dcd"/>
<rect x="104.6" y="201.08" width="7.9" height="2.72" fill="#7c6ec8"/>
<rect x="89.4" y="203.50" width="7.9" height="2.72" fill="#4f4fb4"/>
<rect x="97.0" y="203.50" width="7.9" height="2.72" fill="#5951b7"/>
<rect x="104.6" y="203.50" width="7.9" height="2.72" fill="#504fb4"/>
<rect x="89.4" y="205.92" width="7.9" height="2.72" fill="#a094d6"/>
<rect x="97.0" y="205.92" width="7.9" height="2.72" fill="#9c90d4"/>
<rect x="104.6" y="205.92" width="7.9" height="2.72" fill="#897ccd"/>
<rect x="89.4" y="208.33" width="7.9" height="2.72" fill="#9a8ed3"/>
<rect x="97.0" y="208.33" width="7.9" height="2.72" fill="#7f71c9"/>
<rect x="104.6" y="208.33" width="7.9" height="2.72" fill="#8c7fce"/>
<rect x="89.4" y="210.75" width="7.9" height="2.72" fill="#8c7fce"/>
<rect x="97.0" y="210.75" width="7.9" height="2.72" fill="#9487d1"/>
<rect x="104.6" y="210.75" width="7.9" height="2.72" fill="#8072ca"/>
<rect x="89.4" y="213.17" width="7.9" height="2.72" fill="#665abd"/>
<rect x="97.0" y="213.17" width="7.9" height="2.72" fill="#5c52b8"/>
<rect x="104.6" y="213.17" width="7.9" height="2.72" fill="#675cbe"/>
<rect x="89.4" y="215.58" width="7.9" height="2.72" fill="#7063c2"/>
<rect x="97.0" y="215.58" width="7.9" height="2.72" fill="#7b6dc7"/>
<rect x="104.6" y="215.58" width="7.9" height="2.72" fill="#7a6cc7"/>
<rect x="89.4" y="218.00" width="7.9" height="2.72" fill="#7b6dc8"/>
<rect x="97.0" y="218.00" width="7.9" height="2.72" fill="#7769c5"/>
<rect x="104.6" y="218.00" width="7.9" height="2.72" fill="#8476cb"/>
<rect x="89.4" y="220.42" width="7.9" height="2.72" fill="#9285d0"/>
<rect x="97.0" y="220.42" width="7.9" height="2.72" fill="#8073ca"/>
<rect x="104.6" y="220.42" width="7.9" height="2.72" fill="#998dd3"/>
<rect x="89.4" y="222.83" width="7.9" height="2.72" fill="#7a6dc7"/>
<rect x="97.0" y="222.83" width="7.9" height="2.72" fill="#7769c5"/>
<rect x="104.6" y="222.83" width="7.9" height="2.72" fill="#8679cc"/>
<rect x="89.4" y="225.25" width="7.9" height="2.72" fill="#beb6e3"/>
<rect x="97.0" y="225.25" width="7.9" height="2.72" fill="#cac3e9"/>
<rect x="104.6" y="225.25" width="7.9" height="2.72" fill="#dfd9ef"/>
<rect x="89.4" y="227.67" width="7.9" height="2.72" fill="#776ac6"/>
<rect x="97.0" y="227.67" width="7.9" height="2.72" fill="#8072c9"/>
<rect x="104.6" y="227.67" width="7.9" height="2.72" fill="#8073ca"/>
<rect x="89.4" y="230.08" width="7.9" height="2.72" fill="#776ac6"/>
<rect x="97.0" y="230.08" width="7.9" height="2.72" fill="#786ac6"/>
<rect x="104.6" y="230.08" width="7.9" height="2.72" fill="#897ccd"/>
<rect x="89.4" y="232.50" width="7.9" height="2.72" fill="#a296d6"/>
<rect x="97.0" y="232.50" width="7.9" height="2.72" fill="#7a6cc7"/>
<rect x="104.6" y="232.50" width="7.9" height="2.72" fill="#9185d0"/>
<rect x="89.4" y="234.92" width="7.9" height="2.72" fill="#786ac6"/>
<rect x="97.0" y="234.92" width="7.9" height="2.72" fill="#8274ca"/>
<rect x="104.6" y="234.92" width="7.9" height="2.72" fill="#8d80cf"/>
<rect x="89.4" y="237.33" width="7.9" height="2.72" fill="#7265c3"/>
<rect x="97.0" y="237.33" width="7.9" height="2.72" fill="#786bc6"/>
<rect x="104.6" y="237.33" width="7.9" height="2.72" fill="#6b5fbf"/>
<rect x="89.4" y="239.75" width="7.9" height="2.72" fill="#7e70c9"/>
<rect x="97.0" y="239.75" width="7.9" height="2.72" fill="#7f71c9"/>
<rect x="104.6" y="239.75" width="7.9" height="2.72" fill="#8c7fce"/>
<rect x="89.4" y="242.17" width="7.9" height="2.72" fill="#7568c4"/>
<rect x="97.0" y="242.17" width="7.9" height="2.72" fill="#8476cb"/>
<rect x="104.6" y="242.17" width="7.9" height="2.72" fill="#7265c3"/>
<rect x="89.4" y="244.58" width="7.9" height="2.72" fill="#8274ca"/>
<rect x="97.0" y="244.58" width="7.9" height="2.72" fill="#7668c5"/>
<rect x="104.6" y="244.58" width="7.9" height="2.72" fill="#8679cc"/>
<rect x="112.2" y="29.50" width="7.9" height="2.72" fill="#f5b096"/>
<rect x="119.8" y="29.50" width="7.9" height="2.72" fill="#afa4dc"/>
<rect x="127.4" y="29.50" width="7.9" height="2.72" fill="#aaa0da"/>
<rect x="112.2" y="31.92" width="7.9" height="2.72" fill="#f18a6d"/>
<rect x="119.8" y="31.92" width="7.9" height="2.72" fill="#ef6e51"/>
<rect x="127.4" y="31.92" width="7.9" height="2.72" fill="#f07a5c"/>
<rect x="112.2" y="34.33" width="7.9" height="2.72" fill="#f29174"/>
<rect x="119.8" y="34.33" width="7.9" height="2.72" fill="#f07a5c"/>
<rect x="127.4" y="34.33" width="7.9" height="2.72" fill="#f07759"/>
<rect x="112.2" y="36.75" width="7.9" height="2.72" fill="#f7c2ad"/>
<rect x="119.8" y="36.75" width="7.9" height="2.72" fill="#f7bfa8"/>
<rect x="127.4" y="36.75" width="7.9" height="2.72" fill="#f9d6cc"/>
<rect x="112.2" y="39.17" width="7.9" height="2.72" fill="#f8cdbd"/>
<rect x="119.8" y="39.17" width="7.9" height="2.72" fill="#f9d9d0"/>
<rect x="127.4" y="39.17" width="7.9" height="2.72" fill="#f8dad2"/>
<rect x="112.2" y="41.58" width="7.9" height="2.72" fill="#f4aa90"/>
<rect x="119.8" y="41.58" width="7.9" height="2.72" fill="#f9d6cd"/>
<rect x="127.4" y="41.58" width="7.9" height="2.72" fill="#f8cec0"/>
<rect x="112.2" y="44.00" width="7.9" height="2.72" fill="#f5b097"/>
<rect x="119.8" y="44.00" width="7.9" height="2.72" fill="#f5b39a"/>
<rect x="127.4" y="44.00" width="7.9" height="2.72" fill="#f4ab90"/>
<rect x="112.2" y="46.42" width="7.9" height="2.72" fill="#f7e2de"/>
<rect x="119.8" y="46.42" width="7.9" height="2.72" fill="#e7e2f0"/>
<rect x="127.4" y="46.42" width="7.9" height="2.72" fill="#dcd6ef"/>
<rect x="112.2" y="48.83" width="7.9" height="2.72" fill="#f8cab9"/>
<rect x="119.8" y="48.83" width="7.9" height="2.72" fill="#f8c9b8"/>
<rect x="127.4" y="48.83" width="7.9" height="2.72" fill="#f7c0a9"/>
<rect x="112.2" y="51.25" width="7.9" height="2.72" fill="#f8ded8"/>
<rect x="119.8" y="51.25" width="7.9" height="2.72" fill="#d5cfee"/>
<rect x="127.4" y="51.25" width="7.9" height="2.72" fill="#f6ecec"/>
<rect x="112.2" y="53.67" width="7.9" height="2.72" fill="#da2c1e"/>
<rect x="119.8" y="53.67" width="7.9" height="2.72" fill="#f7e3e0"/>
<rect x="127.4" y="53.67" width="7.9" height="2.72" fill="#f8ded7"/>
<rect x="112.2" y="56.08" width="7.9" height="2.72" fill="#f8dcd5"/>
<rect x="119.8" y="56.08" width="7.9" height="2.72" fill="#f7e3df"/>
<rect x="127.4" y="56.08" width="7.9" height="2.72" fill="#f8dbd4"/>
<rect x="112.2" y="58.50" width="7.9" height="2.72" fill="#db2e1f"/>
<rect x="119.8" y="58.50" width="7.9" height="2.72" fill="#dfd9ef"/>
<rect x="127.4" y="58.50" width="7.9" height="2.72" fill="#f3eef2"/>
<rect x="112.2" y="60.92" width="7.9" height="2.72" fill="#f6b59c"/>
<rect x="119.8" y="60.92" width="7.9" height="2.72" fill="#f8dad2"/>
<rect x="127.4" y="60.92" width="7.9" height="2.72" fill="#f5b39a"/>
<rect x="112.2" y="63.33" width="7.9" height="2.72" fill="#e7e2f0"/>
<rect x="119.8" y="63.33" width="7.9" height="2.72" fill="#dd3121"/>
<rect x="127.4" y="63.33" width="7.9" height="2.72" fill="#e9e4f0"/>
<rect x="112.2" y="65.75" width="7.9" height="2.72" fill="#f6eae9"/>
<rect x="119.8" y="65.75" width="7.9" height="2.72" fill="#f8d9d1"/>
<rect x="127.4" y="65.75" width="7.9" height="2.72" fill="#efeaf1"/>
<rect x="112.2" y="68.17" width="7.9" height="2.72" fill="#f9d4c8"/>
<rect x="119.8" y="68.17" width="7.9" height="2.72" fill="#f8c9b7"/>
<rect x="127.4" y="68.17" width="7.9" height="2.72" fill="#f5eef0"/>
<rect x="112.2" y="70.58" width="7.9" height="2.72" fill="#f5eeef"/>
<rect x="119.8" y="70.58" width="7.9" height="2.72" fill="#e5e0f0"/>
<rect x="127.4" y="70.58" width="7.9" height="2.72" fill="#d5cfed"/>
<rect x="112.2" y="73.00" width="7.9" height="2.72" fill="#f5eeef"/>
<rect x="119.8" y="73.00" width="7.9" height="2.72" fill="#f9d5cb"/>
<rect x="127.4" y="73.00" width="7.9" height="2.72" fill="#e7e2f0"/>
<rect x="112.2" y="75.42" width="7.9" height="2.72" fill="#f4eff2"/>
<rect x="119.8" y="75.42" width="7.9" height="2.72" fill="#f2edf2"/>
<rect x="127.4" y="75.42" width="7.9" height="2.72" fill="#e9e3f0"/>
<rect x="112.2" y="77.83" width="7.9" height="2.72" fill="#cac2e8"/>
<rect x="119.8" y="77.83" width="7.9" height="2.72" fill="#f1ecf1"/>
<rect x="127.4" y="77.83" width="7.9" height="2.72" fill="#ddd7ef"/>
<rect x="112.2" y="80.25" width="7.9" height="2.72" fill="#f5ad93"/>
<rect x="119.8" y="80.25" width="7.9" height="2.72" fill="#6c60c0"/>
<rect x="127.4" y="80.25" width="7.9" height="2.72" fill="#6056ba"/>
<rect x="112.2" y="82.67" width="7.9" height="2.72" fill="#f7c0aa"/>
<rect x="119.8" y="82.67" width="7.9" height="2.72" fill="#f9d6cc"/>
<rect x="127.4" y="82.67" width="7.9" height="2.72" fill="#f6b79f"/>
<rect x="112.2" y="85.08" width="7.9" height="2.72" fill="#f4eff2"/>
<rect x="119.8" y="85.08" width="7.9" height="2.72" fill="#c7c0e7"/>
<rect x="127.4" y="85.08" width="7.9" height="2.72" fill="#e1dcef"/>
<rect x="112.2" y="87.50" width="7.9" height="2.72" fill="#ef6f52"/>
<rect x="119.8" y="87.50" width="7.9" height="2.72" fill="#e84b34"/>
<rect x="127.4" y="87.50" width="7.9" height="2.72" fill="#e43b28"/>
<rect x="112.2" y="89.92" width="7.9" height="2.72" fill="#f29276"/>
<rect x="119.8" y="89.92" width="7.9" height="2.72" fill="#e7432d"/>
<rect x="127.4" y="89.92" width="7.9" height="2.72" fill="#e95037"/>
<rect x="112.2" y="92.33" width="7.9" height="2.72" fill="#ee684b"/>
<rect x="119.8" y="92.33" width="7.9" height="2.72" fill="#dd3021"/>
<rect x="127.4" y="92.33" width="7.9" height="2.72" fill="#df3323"/>
<rect x="112.2" y="94.75" width="7.9" height="2.72" fill="#ed6448"/>
<rect x="119.8" y="94.75" width="7.9" height="2.72" fill="#dd3021"/>
<rect x="127.4" y="94.75" width="7.9" height="2.72" fill="#e43c28"/>
<rect x="112.2" y="97.17" width="7.9" height="2.72" fill="#f29174"/>
<rect x="119.8" y="97.17" width="7.9" height="2.72" fill="#e7442e"/>
<rect x="127.4" y="97.17" width="7.9" height="2.72" fill="#eb583f"/>
<rect x="112.2" y="99.58" width="7.9" height="2.72" fill="#f18c6f"/>
<rect x="119.8" y="99.58" width="7.9" height="2.72" fill="#ea573d"/>
<rect x="127.4" y="99.58" width="7.9" height="2.72" fill="#ec5f44"/>
<rect x="112.2" y="102.00" width="7.9" height="2.72" fill="#514fb4"/>
<rect x="119.8" y="102.00" width="7.9" height="2.72" fill="#514fb5"/>
<rect x="127.4" y="102.00" width="7.9" height="2.72" fill="#4d4eb3"/>
<rect x="112.2" y="104.42" width="7.9" height="2.72" fill="#f0eaf1"/>
<rect x="119.8" y="104.42" width="7.9" height="2.72" fill="#f5eeef"/>
<rect x="127.4" y="104.42" width="7.9" height="2.72" fill="#f6eced"/>
<rect x="112.2" y="106.83" width="7.9" height="2.72" fill="#dfd9ef"/>
<rect x="119.8" y="106.83" width="7.9" height="2.72" fill="#f5f0f1"/>
<rect x="127.4" y="106.83" width="7.9" height="2.72" fill="#7a6cc7"/>
<rect x="112.2" y="109.25" width="7.9" height="2.72" fill="#f1ecf1"/>
<rect x="119.8" y="109.25" width="7.9" height="2.72" fill="#f6e9e8"/>
<rect x="127.4" y="109.25" width="7.9" height="2.72" fill="#887bcc"/>
<rect x="112.2" y="111.67" width="7.9" height="2.72" fill="#f6ebeb"/>
<rect x="119.8" y="111.67" width="7.9" height="2.72" fill="#e7e2f0"/>
<rect x="127.4" y="111.67" width="7.9" height="2.72" fill="#8173ca"/>
<rect x="112.2" y="114.08" width="7.9" height="2.72" fill="#4f4fb4"/>
<rect x="119.8" y="114.08" width="7.9" height="2.72" fill="#6f63c2"/>
<rect x="127.4" y="114.08" width="7.9" height="2.72" fill="#474db1"/>
<rect x="112.2" y="116.50" width="7.9" height="2.72" fill="#877acc"/>
<rect x="119.8" y="116.50" width="7.9" height="2.72" fill="#8b7ece"/>
<rect x="127.4" y="116.50" width="7.9" height="2.72" fill="#5851b7"/>
<rect x="112.2" y="118.92" width="7.9" height="2.72" fill="#887bcd"/>
<rect x="119.8" y="118.92" width="7.9" height="2.72" fill="#9a8fd4"/>
<rect x="127.4" y="118.92" width="7.9" height="2.72" fill="#6e61c1"/>
<rect x="112.2" y="121.33" width="7.9" height="2.72" fill="#4c4eb3"/>
<rect x="119.8" y="121.33" width="7.9" height="2.72" fill="#655abd"/>
<rect x="127.4" y="121.33" width="7.9" height="2.72" fill="#3d4aae"/>
<rect x="112.2" y="123.75" width="7.9" height="2.72" fill="#786ac6"/>
<rect x="119.8" y="123.75" width="7.9" height="2.72" fill="#7164c2"/>
<rect x="127.4" y="123.75" width="7.9" height="2.72" fill="#504fb4"/>
<rect x="112.2" y="126.17" width="7.9" height="2.72" fill="#8072c9"/>
<rect x="119.8" y="126.17" width="7.9" height="2.72" fill="#9083d0"/>
<rect x="127.4" y="126.17" width="7.9" height="2.72" fill="#5e54b9"/>
<rect x="112.2" y="128.58" width="7.9" height="2.72" fill="#bab1e1"/>
<rect x="119.8" y="128.58" width="7.9" height="2.72" fill="#b9b0e0"/>
<rect x="127.4" y="128.58" width="7.9" height="2.72" fill="#8a7dcd"/>
<rect x="112.2" y="131.00" width="7.9" height="2.72" fill="#f6ecec"/>
<rect x="119.8" y="131.00" width="7.9" height="2.72" fill="#7d6fc8"/>
<rect x="127.4" y="131.00" width="7.9" height="2.72" fill="#7769c5"/>
<rect x="112.2" y="133.42" width="7.9" height="2.72" fill="#ebe5f1"/>
<rect x="119.8" y="133.42" width="7.9" height="2.72" fill="#8e81cf"/>
<rect x="127.4" y="133.42" width="7.9" height="2.72" fill="#8173ca"/>
<rect x="112.2" y="135.83" width="7.9" height="2.72" fill="#d0caeb"/>
<rect x="119.8" y="135.83" width="7.9" height="2.72" fill="#eae5f1"/>
<rect x="127.4" y="135.83" width="7.9" height="2.72" fill="#e5e0f0"/>
<rect x="112.2" y="138.25" width="7.9" height="2.72" fill="#ccc5e9"/>
<rect x="119.8" y="138.25" width="7.9" height="2.72" fill="#bbb3e2"/>
<rect x="127.4" y="138.25" width="7.9" height="2.72" fill="#e4dff0"/>
<rect x="112.2" y="140.67" width="7.9" height="2.72" fill="#7669c5"/>
<rect x="119.8" y="140.67" width="7.9" height="2.72" fill="#5b52b8"/>
<rect x="127.4" y="140.67" width="7.9" height="2.72" fill="#5951b7"/>
<rect x="112.2" y="143.08" width="7.9" height="2.72" fill="#7769c5"/>
<rect x="119.8" y="143.08" width="7.9" height="2.72" fill="#776ac6"/>
<rect x="127.4" y="143.08" width="7.9" height="2.72" fill="#7165c3"/>
<rect x="112.2" y="145.50" width="7.9" height="2.72" fill="#6157bb"/>
<rect x="119.8" y="145.50" width="7.9" height="2.72" fill="#5c52b8"/>
<rect x="127.4" y="145.50" width="7.9" height="2.72" fill="#6359bc"/>
<rect x="112.2" y="147.92" width="7.9" height="2.72" fill="#5651b6"/>
<rect x="119.8" y="147.92" width="7.9" height="2.72" fill="#f5af95"/>
<rect x="127.4" y="147.92" width="7.9" height="2.72" fill="#6056ba"/>
<rect x="112.2" y="150.33" width="7.9" height="2.72" fill="#4a4db2"/>
<rect x="119.8" y="150.33" width="7.9" height="2.72" fill="#4f4fb4"/>
<rect x="127.4" y="150.33" width="7.9" height="2.72" fill="#5350b5"/>
<rect x="112.2" y="152.75" width="7.9" height="2.72" fill="#5751b6"/>
<rect x="119.8" y="152.75" width="7.9" height="2.72" fill="#454cb0"/>
<rect x="127.4" y="152.75" width="7.9" height="2.72" fill="#444cb0"/>
<rect x="112.2" y="155.17" width="7.9" height="2.72" fill="#3d4aae"/>
<rect x="119.8" y="155.17" width="7.9" height="2.72" fill="#3d4aae"/>
<rect x="127.4" y="155.17" width="7.9" height="2.72" fill="#3d4aae"/>
<rect x="112.2" y="157.58" width="7.9" height="2.72" fill="#3d4aae"/>
<rect x="119.8" y="157.58" width="7.9" height="2.72" fill="#4a4db2"/>
<rect x="127.4" y="157.58" width="7.9" height="2.72" fill="#3d4aae"/>
<rect x="112.2" y="160.00" width="7.9" height="2.72" fill="#3d4aae"/>
<rect x="119.8" y="160.00" width="7.9" height="2.72" fill="#3d4aae"/>
<rect x="127.4" y="160.00" width="7.9" height="2.72" fill="#404baf"/>
<rect x="112.2" y="162.42" width="7.9" height="2.72" fill="#5a52b7"/>
<rect x="119.8" y="162.42" width="7.9" height="2.72" fill="#5650b6"/>
<rect x="127.4" y="162.42" width="7.9" height="2.72" fill="#5851b7"/>
<rect x="112.2" y="164.83" width="7.9" height="2.72" fill="#b5abdf"/>
<rect x="119.8" y="164.83" width="7.9" height="2.72" fill="#9b8fd4"/>
<rect x="127.4" y="164.83" width="7.9" height="2.72" fill="#b7aee0"/>
<rect x="112.2" y="167.25" width="7.9" height="2.72" fill="#9c90d4"/>
<rect x="119.8" y="167.25" width="7.9" height="2.72" fill="#b0a6dc"/>
<rect x="127.4" y="167.25" width="7.9" height="2.72" fill="#a297d6"/>
<rect x="112.2" y="169.67" width="7.9" height="2.72" fill="#d42218"/>
<rect x="119.8" y="169.67" width="7.9" height="2.72" fill="#f9d5ca"/>
<rect x="127.4" y="169.67" width="7.9" height="2.72" fill="#f8dad2"/>
<rect x="112.2" y="172.08" width="7.9" height="2.72" fill="#d6251a"/>
<rect x="119.8" y="172.08" width="7.9" height="2.72" fill="#f6b59d"/>
<rect x="127.4" y="172.08" width="7.9" height="2.72" fill="#f8dad2"/>
<rect x="112.2" y="174.50" width="7.9" height="2.72" fill="#d6261a"/>
<rect x="119.8" y="174.50" width="7.9" height="2.72" fill="#f9d0c3"/>
<rect x="127.4" y="174.50" width="7.9" height="2.72" fill="#f7e6e3"/>
<rect x="112.2" y="176.92" width="7.9" height="2.72" fill="#f6ecec"/>
<rect x="119.8" y="176.92" width="7.9" height="2.72" fill="#f8cdbe"/>
<rect x="127.4" y="176.92" width="7.9" height="2.72" fill="#f2edf2"/>
<rect x="112.2" y="179.33" width="7.9" height="2.72" fill="#f4eff2"/>
<rect x="119.8" y="179.33" width="7.9" height="2.72" fill="#f5eeef"/>
<rect x="127.4" y="179.33" width="7.9" height="2.72" fill="#e7e2f0"/>
<rect x="112.2" y="181.75" width="7.9" height="2.72" fill="#f9d4c9"/>
<rect x="119.8" y="181.75" width="7.9" height="2.72" fill="#f8c7b4"/>
<rect x="127.4" y="181.75" width="7.9" height="2.72" fill="#f6eae9"/>
<rect x="112.2" y="184.17" width="7.9" height="2.72" fill="#3d4aae"/>
<rect x="119.8" y="184.17" width="7.9" height="2.72" fill="#3d4aae"/>
<rect x="127.4" y="184.17" width="7.9" height="2.72" fill="#3d4aae"/>
<rect x="112.2" y="186.58" width="7.9" height="2.72" fill="#4d4eb3"/>
<rect x="119.8" y="186.58" width="7.9" height="2.72" fill="#3f4baf"/>
<rect x="127.4" y="186.58" width="7.9" height="2.72" fill="#3d4aae"/>
<rect x="112.2" y="189.00" width="7.9" height="2.72" fill="#6157bb"/>
<rect x="119.8" y="189.00" width="7.9" height="2.72" fill="#5851b7"/>
<rect x="127.4" y="189.00" width="7.9" height="2.72" fill="#504fb4"/>
<rect x="112.2" y="191.42" width="7.9" height="2.72" fill="#3d4aae"/>
<rect x="119.8" y="191.42" width="7.9" height="2.72" fill="#3d4aae"/>
<rect x="127.4" y="191.42" width="7.9" height="2.72" fill="#3d4aae"/>
<rect x="112.2" y="193.83" width="7.9" height="2.72" fill="#3d4aae"/>
<rect x="119.8" y="193.83" width="7.9" height="2.72" fill="#3d4aae"/>
<rect x="127.4" y="193.83" width="7.9" height="2.72" fill="#3d4aae"/>
<rect x="112.2" y="196.25" width="7.9" height="2.72" fill="#5751b6"/>
<rect x="119.8" y="196.25" width="7.9" height="2.72" fill="#404baf"/>
<rect x="127.4" y="196.25" width="7.9" height="2.72" fill="#524fb5"/>
<rect x="112.2" y="198.67" width="7.9" height="2.72" fill="#3d4aae"/>
<rect x="119.8" y="198.67" width="7.9" height="2.72" fill="#3d4aae"/>
<rect x="127.4" y="198.67" width="7.9" height="2.72" fill="#3d4aae"/>
<rect x="112.2" y="201.08" width="7.9" height="2.72" fill="#4d4eb3"/>
<rect x="119.8" y="201.08" width="7.9" height="2.72" fill="#5951b7"/>
<rect x="127.4" y="201.08" width="7.9" height="2.72" fill="#5651b6"/>
<rect x="112.2" y="203.50" width="7.9" height="2.72" fill="#f0ebf1"/>
<rect x="119.8" y="203.50" width="7.9" height="2.72" fill="#a397d7"/>
<rect x="127.4" y="203.50" width="7.9" height="2.72" fill="#796bc6"/>
<rect x="112.2" y="205.92" width="7.9" height="2.72" fill="#f0ebf1"/>
<rect x="119.8" y="205.92" width="7.9" height="2.72" fill="#d0caeb"/>
<rect x="127.4" y="205.92" width="7.9" height="2.72" fill="#8072c9"/>
<rect x="112.2" y="208.33" width="7.9" height="2.72" fill="#f6ebeb"/>
<rect x="119.8" y="208.33" width="7.9" height="2.72" fill="#b1a7dd"/>
<rect x="127.4" y="208.33" width="7.9" height="2.72" fill="#877acc"/>
<rect x="112.2" y="210.75" width="7.9" height="2.72" fill="#ebe6f1"/>
<rect x="119.8" y="210.75" width="7.9" height="2.72" fill="#c6bee6"/>
<rect x="127.4" y="210.75" width="7.9" height="2.72" fill="#796cc7"/>
<rect x="112.2" y="213.17" width="7.9" height="2.72" fill="#eee8f1"/>
<rect x="119.8" y="213.17" width="7.9" height="2.72" fill="#c4bce5"/>
<rect x="127.4" y="213.17" width="7.9" height="2.72" fill="#9588d1"/>
<rect x="112.2" y="215.58" width="7.9" height="2.72" fill="#f7e5e3"/>
<rect x="119.8" y="215.58" width="7.9" height="2.72" fill="#b2a8dd"/>
<rect x="127.4" y="215.58" width="7.9" height="2.72" fill="#8274ca"/>
<rect x="112.2" y="218.00" width="7.9" height="2.72" fill="#beb6e3"/>
<rect x="119.8" y="218.00" width="7.9" height="2.72" fill="#6a5ebf"/>
<rect x="127.4" y="218.00" width="7.9" height="2.72" fill="#6157bb"/>
<rect x="112.2" y="220.42" width="7.9" height="2.72" fill="#5f55ba"/>
<rect x="119.8" y="220.42" width="7.9" height="2.72" fill="#5951b7"/>
<rect x="127.4" y="220.42" width="7.9" height="2.72" fill="#5b52b8"/>
<rect x="112.2" y="222.83" width="7.9" height="2.72" fill="#9185d0"/>
<rect x="119.8" y="222.83" width="7.9" height="2.72" fill="#7c6ec8"/>
<rect x="127.4" y="222.83" width="7.9" height="2.72" fill="#8c7fce"/>
<rect x="112.2" y="225.25" width="7.9" height="2.72" fill="#3d4aae"/>
<rect x="119.8" y="225.25" width="7.9" height="2.72" fill="#3d4aae"/>
<rect x="127.4" y="225.25" width="7.9" height="2.72" fill="#3d4aae"/>
<rect x="112.2" y="227.67" width="7.9" height="2.72" fill="#5450b6"/>
<rect x="119.8" y="227.67" width="7.9" height="2.72" fill="#7265c3"/>
<rect x="127.4" y="227.67" width="7.9" height="2.72" fill="#4c4eb3"/>
<rect x="112.2" y="230.08" width="7.9" height="2.72" fill="#6055ba"/>
<rect x="119.8" y="230.08" width="7.9" height="2.72" fill="#5d52b8"/>
<rect x="127.4" y="230.08" width="7.9" height="2.72" fill="#675bbd"/>
<rect x="112.2" y="232.50" width="7.9" height="2.72" fill="#6e62c1"/>
<rect x="119.8" y="232.50" width="7.9" height="2.72" fill="#7d6fc8"/>
<rect x="127.4" y="232.50" width="7.9" height="2.72" fill="#786bc6"/>
<rect x="112.2" y="234.92" width="7.9" height="2.72" fill="#e8e3f0"/>
<rect x="119.8" y="234.92" width="7.9" height="2.72" fill="#e5e0f0"/>
<rect x="127.4" y="234.92" width="7.9" height="2.72" fill="#ded8ef"/>
<rect x="112.2" y="237.33" width="7.9" height="2.72" fill="#675cbe"/>
<rect x="119.8" y="237.33" width="7.9" height="2.72" fill="#665bbd"/>
<rect x="127.4" y="237.33" width="7.9" height="2.72" fill="#4d4eb3"/>
<rect x="112.2" y="239.75" width="7.9" height="2.72" fill="#4e4eb3"/>
<rect x="119.8" y="239.75" width="7.9" height="2.72" fill="#474db1"/>
<rect x="127.4" y="239.75" width="7.9" height="2.72" fill="#4c4eb3"/>
<rect x="112.2" y="242.17" width="7.9" height="2.72" fill="#6e62c1"/>
<rect x="119.8" y="242.17" width="7.9" height="2.72" fill="#685dbe"/>
<rect x="127.4" y="242.17" width="7.9" height="2.72" fill="#6e61c1"/>
<rect x="112.2" y="244.58" width="7.9" height="2.72" fill="#5250b5"/>
<rect x="119.8" y="244.58" width="7.9" height="2.72" fill="#524fb5"/>
<rect x="127.4" y="244.58" width="7.9" height="2.72" fill="#5751b7"/>
<rect x="135.0" y="29.50" width="7.9" height="2.72" fill="#d52419"/>
<rect x="142.6" y="29.50" width="7.9" height="2.72" fill="#f2ecf2"/>
<rect x="150.2" y="29.50" width="7.9" height="2.72" fill="#ebe5f1"/>
<rect x="135.0" y="31.92" width="7.9" height="2.72" fill="#f8dad1"/>
<rect x="142.6" y="31.92" width="7.9" height="2.72" fill="#f8dbd3"/>
<rect x="150.2" y="31.92" width="7.9" height="2.72" fill="#f8c7b5"/>
<rect x="135.0" y="34.33" width="7.9" height="2.72" fill="#e1dbef"/>
<rect x="142.6" y="34.33" width="7.9" height="2.72" fill="#f6e7e5"/>
<rect x="150.2" y="34.33" width="7.9" height="2.72" fill="#f7e6e3"/>
<rect x="135.0" y="36.75" width="7.9" height="2.72" fill="#ef7153"/>
<rect x="142.6" y="36.75" width="7.9" height="2.72" fill="#f2977a"/>
<rect x="150.2" y="36.75" width="7.9" height="2.72" fill="#f18b6e"/>
<rect x="135.0" y="39.17" width="7.9" height="2.72" fill="#f5ac92"/>
<rect x="142.6" y="39.17" width="7.9" height="2.72" fill="#f8c9b7"/>
<rect x="150.2" y="39.17" width="7.9" height="2.72" fill="#f6b9a1"/>
<rect x="135.0" y="41.58" width="7.9" height="2.72" fill="#f4ab90"/>
<rect x="142.6" y="41.58" width="7.9" height="2.72" fill="#f8c5b1"/>
<rect x="150.2" y="41.58" width="7.9" height="2.72" fill="#f3a388"/>
<rect x="135.0" y="44.00" width="7.9" height="2.72" fill="#f5b298"/>
<rect x="142.6" y="44.00" width="7.9" height="2.72" fill="#f6b79f"/>
<rect x="150.2" y="44.00" width="7.9" height="2.72" fill="#f29478"/>
<rect x="135.0" y="46.42" width="7.9" height="2.72" fill="#f2977b"/>
<rect x="142.6" y="46.42" width="7.9" height="2.72" fill="#f7bca5"/>
<rect x="150.2" y="46.42" width="7.9" height="2.72" fill="#f39b7f"/>
<rect x="135.0" y="48.83" width="7.9" height="2.72" fill="#f3a084"/>
<rect x="142.6" y="48.83" width="7.9" height="2.72" fill="#f5b198"/>
<rect x="150.2" y="48.83" width="7.9" height="2.72" fill="#f18d70"/>
<rect x="135.0" y="51.25" width="7.9" height="2.72" fill="#f39b7f"/>
<rect x="142.6" y="51.25" width="7.9" height="2.72" fill="#f6b9a1"/>
<rect x="150.2" y="51.25" width="7.9" height="2.72" fill="#f39d80"/>
<rect x="135.0" y="53.67" width="7.9" height="2.72" fill="#ef7557"/>
<rect x="142.6" y="53.67" width="7.9" height="2.72" fill="#f3a185"/>
<rect x="150.2" y="53.67" width="7.9" height="2.72" fill="#f18366"/>
<rect x="135.0" y="56.08" width="7.9" height="2.72" fill="#f5ad93"/>
<rect x="142.6" y="56.08" width="7.9" height="2.72" fill="#f8cdbe"/>
<rect x="150.2" y="56.08" width="7.9" height="2.72" fill="#f4a78c"/>
<rect x="135.0" y="58.50" width="7.9" height="2.72" fill="#f4ab91"/>
<rect x="142.6" y="58.50" width="7.9" height="2.72" fill="#f8cab9"/>
<rect x="150.2" y="58.50" width="7.9" height="2.72" fill="#f7c3ae"/>
<rect x="135.0" y="60.92" width="7.9" height="2.72" fill="#f28f72"/>
<rect x="142.6" y="60.92" width="7.9" height="2.72" fill="#f5b197"/>
<rect x="150.2" y="60.92" width="7.9" height="2.72" fill="#f2967a"/>
<rect x="135.0" y="63.33" width="7.9" height="2.72" fill="#f4ab90"/>
<rect x="142.6" y="63.33" width="7.9" height="2.72" fill="#f7bfa8"/>
<rect x="150.2" y="63.33" width="7.9" height="2.72" fill="#f3a287"/>
<rect x="135.0" y="65.75" width="7.9" height="2.72" fill="#f3a388"/>
<rect x="142.6" y="65.75" width="7.9" height="2.72" fill="#f6b9a1"/>
<rect x="150.2" y="65.75" width="7.9" height="2.72" fill="#f29a7e"/>
<rect x="135.0" y="68.17" width="7.9" height="2.72" fill="#f3a185"/>
<rect x="142.6" y="68.17" width="7.9" height="2.72" fill="#f5b097"/>
<rect x="150.2" y="68.17" width="7.9" height="2.72" fill="#f18b6e"/>
<rect x="135.0" y="70.58" width="7.9" height="2.72" fill="#f2997d"/>
<rect x="142.6" y="70.58" width="7.9" height="2.72" fill="#f6baa2"/>
<rect x="150.2" y="70.58" width="7.9" height="2.72" fill="#f2987c"/>
<rect x="135.0" y="73.00" width="7.9" height="2.72" fill="#f18366"/>
<rect x="142.6" y="73.00" width="7.9" height="2.72" fill="#f6b49b"/>
<rect x="150.2" y="73.00" width="7.9" height="2.72" fill="#f29a7e"/>
<rect x="135.0" y="75.42" width="7.9" height="2.72" fill="#f2977b"/>
<rect x="142.6" y="75.42" width="7.9" height="2.72" fill="#e7422c"/>
<rect x="150.2" y="75.42" width="7.9" height="2.72" fill="#f3a185"/>
<rect x="135.0" y="77.83" width="7.9" height="2.72" fill="#b0a6dc"/>
<rect x="142.6" y="77.83" width="7.9" height="2.72" fill="#998dd3"/>
<rect x="150.2" y="77.83" width="7.9" height="2.72" fill="#9b8fd4"/>
<rect x="135.0" y="80.25" width="7.9" height="2.72" fill="#a499d7"/>
<rect x="142.6" y="80.25" width="7.9" height="2.72" fill="#b7aee0"/>
<rect x="150.2" y="80.25" width="7.9" height="2.72" fill="#bbb2e1"/>
<rect x="135.0" y="82.67" width="7.9" height="2.72" fill="#f5ac92"/>
<rect x="142.6" y="82.67" width="7.9" height="2.72" fill="#f3a387"/>
<rect x="150.2" y="82.67" width="7.9" height="2.72" fill="#f4a58a"/>
<rect x="135.0" y="85.08" width="7.9" height="2.72" fill="#f3a387"/>
<rect x="142.6" y="85.08" width="7.9" height="2.72" fill="#f28f72"/>
<rect x="150.2" y="85.08" width="7.9" height="2.72" fill="#f4ab91"/>
<rect x="135.0" y="87.50" width="7.9" height="2.72" fill="#f3a387"/>
<rect x="142.6" y="87.50" width="7.9" height="2.72" fill="#f2997d"/>
<rect x="150.2" y="87.50" width="7.9" height="2.72" fill="#f4a98f"/>
<rect x="135.0" y="89.92" width="7.9" height="2.72" fill="#dbd5ef"/>
<rect x="142.6" y="89.92" width="7.9" height="2.72" fill="#f8ddd6"/>
<rect x="150.2" y="89.92" width="7.9" height="2.72" fill="#f6ecec"/>
<rect x="135.0" y="92.33" width="7.9" height="2.72" fill="#d3ccec"/>
<rect x="142.6" y="92.33" width="7.9" height="2.72" fill="#dfdaef"/>
<rect x="150.2" y="92.33" width="7.9" height="2.72" fill="#dad4ef"/>
<rect x="135.0" y="94.75" width="7.9" height="2.72" fill="#f2edf2"/>
<rect x="142.6" y="94.75" width="7.9" height="2.72" fill="#f7e6e3"/>
<rect x="150.2" y="94.75" width="7.9" height="2.72" fill="#f5eef0"/>
<rect x="135.0" y="97.17" width="7.9" height="2.72" fill="#f6e8e6"/>
<rect x="142.6" y="97.17" width="7.9" height="2.72" fill="#f9d1c5"/>
<rect x="150.2" y="97.17" width="7.9" height="2.72" fill="#d7d1ee"/>
<rect x="135.0" y="99.58" width="7.9" height="2.72" fill="#dad4ef"/>
<rect x="142.6" y="99.58" width="7.9" height="2.72" fill="#d5cfed"/>
<rect x="150.2" y="99.58" width="7.9" height="2.72" fill="#d6d0ee"/>
<rect x="135.0" y="102.00" width="7.9" height="2.72" fill="#aba0da"/>
<rect x="142.6" y="102.00" width="7.9" height="2.72" fill="#b0a6dc"/>
<rect x="150.2" y="102.00" width="7.9" height="2.72" fill="#9d92d5"/>
<rect x="135.0" y="104.42" width="7.9" height="2.72" fill="#655abd"/>
<rect x="142.6" y="104.42" width="7.9" height="2.72" fill="#6459bc"/>
<rect x="150.2" y="104.42" width="7.9" height="2.72" fill="#665bbd"/>
<rect x="135.0" y="106.83" width="7.9" height="2.72" fill="#887bcd"/>
<rect x="142.6" y="106.83" width="7.9" height="2.72" fill="#8c7fce"/>
<rect x="150.2" y="106.83" width="7.9" height="2.72" fill="#8f82cf"/>
<rect x="135.0" y="109.25" width="7.9" height="2.72" fill="#c4bce6"/>
<rect x="142.6" y="109.25" width="7.9" height="2.72" fill="#afa5dc"/>
<rect x="150.2" y="109.25" width="7.9" height="2.72" fill="#aa9fda"/>
<rect x="135.0" y="111.67" width="7.9" height="2.72" fill="#7265c3"/>
<rect x="142.6" y="111.67" width="7.9" height="2.72" fill="#887bcc"/>
<rect x="150.2" y="111.67" width="7.9" height="2.72" fill="#7a6cc7"/>
<rect x="135.0" y="114.08" width="7.9" height="2.72" fill="#6358bc"/>
<rect x="142.6" y="114.08" width="7.9" height="2.72" fill="#685cbe"/>
<rect x="150.2" y="114.08" width="7.9" height="2.72" fill="#6459bc"/>
<rect x="135.0" y="116.50" width="7.9" height="2.72" fill="#8476cb"/>
<rect x="142.6" y="116.50" width="7.9" height="2.72" fill="#978bd2"/>
<rect x="150.2" y="116.50" width="7.9" height="2.72" fill="#9387d1"/>
<rect x="135.0" y="118.92" width="7.9" height="2.72" fill="#685cbe"/>
<rect x="142.6" y="118.92" width="7.9" height="2.72" fill="#665bbd"/>
<rect x="150.2" y="118.92" width="7.9" height="2.72" fill="#6d60c0"/>
<rect x="135.0" y="121.33" width="7.9" height="2.72" fill="#a498d7"/>
<rect x="142.6" y="121.33" width="7.9" height="2.72" fill="#8c7fce"/>
<rect x="150.2" y="121.33" width="7.9" height="2.72" fill="#9387d1"/>
<rect x="135.0" y="123.75" width="7.9" height="2.72" fill="#988cd3"/>
<rect x="142.6" y="123.75" width="7.9" height="2.72" fill="#8b7ece"/>
<rect x="150.2" y="123.75" width="7.9" height="2.72" fill="#8477cb"/>
<rect x="135.0" y="126.17" width="7.9" height="2.72" fill="#796bc6"/>
<rect x="142.6" y="126.17" width="7.9" height="2.72" fill="#887bcd"/>
<rect x="150.2" y="126.17" width="7.9" height="2.72" fill="#998dd3"/>
<rect x="135.0" y="128.58" width="7.9" height="2.72" fill="#7d6fc8"/>
<rect x="142.6" y="128.58" width="7.9" height="2.72" fill="#7467c4"/>
<rect x="150.2" y="128.58" width="7.9" height="2.72" fill="#9a8ed3"/>
<rect x="135.0" y="131.00" width="7.9" height="2.72" fill="#7568c5"/>
<rect x="142.6" y="131.00" width="7.9" height="2.72" fill="#8072c9"/>
<rect x="150.2" y="131.00" width="7.9" height="2.72" fill="#8a7dcd"/>
<rect x="135.0" y="133.42" width="7.9" height="2.72" fill="#5a52b7"/>
<rect x="142.6" y="133.42" width="7.9" height="2.72" fill="#5651b6"/>
<rect x="150.2" y="133.42" width="7.9" height="2.72" fill="#3d4aae"/>
<rect x="135.0" y="135.83" width="7.9" height="2.72" fill="#7769c5"/>
<rect x="142.6" y="135.83" width="7.9" height="2.72" fill="#998dd3"/>
<rect x="150.2" y="135.83" width="7.9" height="2.72" fill="#9083d0"/>
<rect x="135.0" y="138.25" width="7.9" height="2.72" fill="#d8d2ee"/>
<rect x="142.6" y="138.25" width="7.9" height="2.72" fill="#e0daef"/>
<rect x="150.2" y="138.25" width="7.9" height="2.72" fill="#eee9f1"/>
<rect x="135.0" y="140.67" width="7.9" height="2.72" fill="#9488d1"/>
<rect x="142.6" y="140.67" width="7.9" height="2.72" fill="#988cd3"/>
<rect x="150.2" y="140.67" width="7.9" height="2.72" fill="#9b90d4"/>
<rect x="135.0" y="143.08" width="7.9" height="2.72" fill="#998dd3"/>
<rect x="142.6" y="143.08" width="7.9" height="2.72" fill="#9a8ed3"/>
<rect x="150.2" y="143.08" width="7.9" height="2.72" fill="#9488d1"/>
<rect x="135.0" y="145.50" width="7.9" height="2.72" fill="#cec7ea"/>
<rect x="142.6" y="145.50" width="7.9" height="2.72" fill="#e5e0f0"/>
<rect x="150.2" y="145.50" width="7.9" height="2.72" fill="#cbc4e9"/>
<rect x="135.0" y="147.92" width="7.9" height="2.72" fill="#a195d6"/>
<rect x="142.6" y="147.92" width="7.9" height="2.72" fill="#bfb6e3"/>
<rect x="150.2" y="147.92" width="7.9" height="2.72" fill="#b9b0e1"/>
<rect x="135.0" y="150.33" width="7.9" height="2.72" fill="#c1b8e4"/>
<rect x="142.6" y="150.33" width="7.9" height="2.72" fill="#c5bde6"/>
<rect x="150.2" y="150.33" width="7.9" height="2.72" fill="#bfb7e3"/>
<rect x="135.0" y="152.75" width="7.9" height="2.72" fill="#776ac6"/>
<rect x="142.6" y="152.75" width="7.9" height="2.72" fill="#786ac6"/>
<rect x="150.2" y="152.75" width="7.9" height="2.72" fill="#786ac6"/>
<rect x="135.0" y="155.17" width="7.9" height="2.72" fill="#9286d0"/>
<rect x="142.6" y="155.17" width="7.9" height="2.72" fill="#9d92d5"/>
<rect x="150.2" y="155.17" width="7.9" height="2.72" fill="#9184d0"/>
<rect x="135.0" y="157.58" width="7.9" height="2.72" fill="#b1a7dd"/>
<rect x="142.6" y="157.58" width="7.9" height="2.72" fill="#aba1da"/>
<rect x="150.2" y="157.58" width="7.9" height="2.72" fill="#aaa0da"/>
<rect x="135.0" y="160.00" width="7.9" height="2.72" fill="#c1b8e4"/>
<rect x="142.6" y="160.00" width="7.9" height="2.72" fill="#c4bce5"/>
<rect x="150.2" y="160.00" width="7.9" height="2.72" fill="#d6d0ee"/>
<rect x="135.0" y="162.42" width="7.9" height="2.72" fill="#9d91d4"/>
<rect x="142.6" y="162.42" width="7.9" height="2.72" fill="#a397d7"/>
<rect x="150.2" y="162.42" width="7.9" height="2.72" fill="#a297d7"/>
<rect x="135.0" y="164.83" width="7.9" height="2.72" fill="#f6eae9"/>
<rect x="142.6" y="164.83" width="7.9" height="2.72" fill="#a196d6"/>
<rect x="150.2" y="164.83" width="7.9" height="2.72" fill="#ada2db"/>
<rect x="135.0" y="167.25" width="7.9" height="2.72" fill="#cdc6ea"/>
<rect x="142.6" y="167.25" width="7.9" height="2.72" fill="#cec8ea"/>
<rect x="150.2" y="167.25" width="7.9" height="2.72" fill="#b2a8dd"/>
<rect x="135.0" y="169.67" width="7.9" height="2.72" fill="#5e54b9"/>
<rect x="142.6" y="169.67" width="7.9" height="2.72" fill="#6a5ebf"/>
<rect x="150.2" y="169.67" width="7.9" height="2.72" fill="#7568c4"/>
<rect x="135.0" y="172.08" width="7.9" height="2.72" fill="#6a5ebf"/>
<rect x="142.6" y="172.08" width="7.9" height="2.72" fill="#5d53b9"/>
<rect x="150.2" y="172.08" width="7.9" height="2.72" fill="#5f54b9"/>
<rect x="135.0" y="174.50" width="7.9" height="2.72" fill="#7f71c9"/>
<rect x="142.6" y="174.50" width="7.9" height="2.72" fill="#796cc7"/>
<rect x="150.2" y="174.50" width="7.9" height="2.72" fill="#8577cb"/>
<rect x="135.0" y="176.92" width="7.9" height="2.72" fill="#7467c4"/>
<rect x="142.6" y="176.92" width="7.9" height="2.72" fill="#7467c4"/>
<rect x="150.2" y="176.92" width="7.9" height="2.72" fill="#e0daef"/>
<rect x="135.0" y="179.33" width="7.9" height="2.72" fill="#7f71c9"/>
<rect x="142.6" y="179.33" width="7.9" height="2.72" fill="#796bc6"/>
<rect x="150.2" y="179.33" width="7.9" height="2.72" fill="#8173ca"/>
<rect x="135.0" y="181.75" width="7.9" height="2.72" fill="#9285d0"/>
<rect x="142.6" y="181.75" width="7.9" height="2.72" fill="#6c60c0"/>
<rect x="150.2" y="181.75" width="7.9" height="2.72" fill="#8375cb"/>
<rect x="135.0" y="184.17" width="7.9" height="2.72" fill="#b3a9dd"/>
<rect x="142.6" y="184.17" width="7.9" height="2.72" fill="#b9b0e0"/>
<rect x="150.2" y="184.17" width="7.9" height="2.72" fill="#a498d7"/>
<rect x="135.0" y="186.58" width="7.9" height="2.72" fill="#c5bde6"/>
<rect x="142.6" y="186.58" width="7.9" height="2.72" fill="#a99ed9"/>
<rect x="150.2" y="186.58" width="7.9" height="2.72" fill="#c9c1e8"/>
<rect x="135.0" y="189.00" width="7.9" height="2.72" fill="#bdb5e3"/>
<rect x="142.6" y="189.00" width="7.9" height="2.72" fill="#cec7ea"/>
<rect x="150.2" y="189.00" width="7.9" height="2.72" fill="#b1a6dd"/>
<rect x="135.0" y="191.42" width="7.9" height="2.72" fill="#c1b8e4"/>
<rect x="142.6" y="191.42" width="7.9" height="2.72" fill="#a89dd9"/>
<rect x="150.2" y="191.42" width="7.9" height="2.72" fill="#c7c0e7"/>
<rect x="135.0" y="193.83" width="7.9" height="2.72" fill="#7d6fc8"/>
<rect x="142.6" y="193.83" width="7.9" height="2.72" fill="#9286d0"/>
<rect x="150.2" y="193.83" width="7.9" height="2.72" fill="#7f72c9"/>
<rect x="135.0" y="196.25" width="7.9" height="2.72" fill="#9387d1"/>
<rect x="142.6" y="196.25" width="7.9" height="2.72" fill="#a89cd8"/>
<rect x="150.2" y="196.25" width="7.9" height="2.72" fill="#998dd3"/>
<rect x="135.0" y="198.67" width="7.9" height="2.72" fill="#9e92d5"/>
<rect x="142.6" y="198.67" width="7.9" height="2.72" fill="#b8afe0"/>
<rect x="150.2" y="198.67" width="7.9" height="2.72" fill="#aea3db"/>
<rect x="135.0" y="201.08" width="7.9" height="2.72" fill="#aa9fd9"/>
<rect x="142.6" y="201.08" width="7.9" height="2.72" fill="#ada2db"/>
<rect x="150.2" y="201.08" width="7.9" height="2.72" fill="#9b8fd4"/>
<rect x="135.0" y="203.50" width="7.9" height="2.72" fill="#776ac6"/>
<rect x="142.6" y="203.50" width="7.9" height="2.72" fill="#6d61c0"/>
<rect x="150.2" y="203.50" width="7.9" height="2.72" fill="#7265c3"/>
<rect x="135.0" y="205.92" width="7.9" height="2.72" fill="#9a8ed3"/>
<rect x="142.6" y="205.92" width="7.9" height="2.72" fill="#a89dd9"/>
<rect x="150.2" y="205.92" width="7.9" height="2.72" fill="#aaa0da"/>
<rect x="135.0" y="208.33" width="7.9" height="2.72" fill="#988cd3"/>
<rect x="142.6" y="208.33" width="7.9" height="2.72" fill="#9286d0"/>
<rect x="150.2" y="208.33" width="7.9" height="2.72" fill="#8a7dcd"/>
<rect x="135.0" y="210.75" width="7.9" height="2.72" fill="#9f93d5"/>
<rect x="142.6" y="210.75" width="7.9" height="2.72" fill="#8e81cf"/>
<rect x="150.2" y="210.75" width="7.9" height="2.72" fill="#9c91d4"/>
<rect x="135.0" y="213.17" width="7.9" height="2.72" fill="#9b8fd4"/>
<rect x="142.6" y="213.17" width="7.9" height="2.72" fill="#a59ad7"/>
<rect x="150.2" y="213.17" width="7.9" height="2.72" fill="#b4aade"/>
<rect x="135.0" y="215.58" width="7.9" height="2.72" fill="#bdb4e2"/>
<rect x="142.6" y="215.58" width="7.9" height="2.72" fill="#bdb5e3"/>
<rect x="150.2" y="215.58" width="7.9" height="2.72" fill="#c1b8e4"/>
<rect x="135.0" y="218.00" width="7.9" height="2.72" fill="#9f93d5"/>
<rect x="142.6" y="218.00" width="7.9" height="2.72" fill="#aba1da"/>
<rect x="150.2" y="218.00" width="7.9" height="2.72" fill="#9d91d4"/>
<rect x="135.0" y="220.42" width="7.9" height="2.72" fill="#aca1da"/>
<rect x="142.6" y="220.42" width="7.9" height="2.72" fill="#cdc6ea"/>
<rect x="150.2" y="220.42" width="7.9" height="2.72" fill="#c1b8e4"/>
<rect x="135.0" y="222.83" width="7.9" height="2.72" fill="#8e81cf"/>
<rect x="142.6" y="222.83" width="7.9" height="2.72" fill="#8678cc"/>
<rect x="150.2" y="222.83" width="7.9" height="2.72" fill="#8275ca"/>
<rect x="135.0" y="225.25" width="7.9" height="2.72" fill="#8e81cf"/>
<rect x="142.6" y="225.25" width="7.9" height="2.72" fill="#a69ad8"/>
<rect x="150.2" y="225.25" width="7.9" height="2.72" fill="#8a7dcd"/>
<rect x="135.0" y="227.67" width="7.9" height="2.72" fill="#5e54b9"/>
<rect x="142.6" y="227.67" width="7.9" height="2.72" fill="#5a52b7"/>
<rect x="150.2" y="227.67" width="7.9" height="2.72" fill="#665abd"/>
<rect x="135.0" y="230.08" width="7.9" height="2.72" fill="#968ad2"/>
<rect x="142.6" y="230.08" width="7.9" height="2.72" fill="#978bd2"/>
<rect x="150.2" y="230.08" width="7.9" height="2.72" fill="#afa4dc"/>
<rect x="135.0" y="232.50" width="7.9" height="2.72" fill="#a498d7"/>
<rect x="142.6" y="232.50" width="7.9" height="2.72" fill="#8679cc"/>
<rect x="150.2" y="232.50" width="7.9" height="2.72" fill="#7f72c9"/>
<rect x="135.0" y="234.92" width="7.9" height="2.72" fill="#c5bde6"/>
<rect x="142.6" y="234.92" width="7.9" height="2.72" fill="#ada2db"/>
<rect x="150.2" y="234.92" width="7.9" height="2.72" fill="#c8c0e7"/>
<rect x="135.0" y="237.33" width="7.9" height="2.72" fill="#7a6cc7"/>
<rect x="142.6" y="237.33" width="7.9" height="2.72" fill="#9285d0"/>
<rect x="150.2" y="237.33" width="7.9" height="2.72" fill="#8274ca"/>
<rect x="135.0" y="239.75" width="7.9" height="2.72" fill="#9589d2"/>
<rect x="142.6" y="239.75" width="7.9" height="2.72" fill="#9a8ed3"/>
<rect x="150.2" y="239.75" width="7.9" height="2.72" fill="#8f82cf"/>
<rect x="135.0" y="242.17" width="7.9" height="2.72" fill="#8173ca"/>
<rect x="142.6" y="242.17" width="7.9" height="2.72" fill="#8a7dcd"/>
<rect x="150.2" y="242.17" width="7.9" height="2.72" fill="#8e82cf"/>
<rect x="135.0" y="244.58" width="7.9" height="2.72" fill="#d3cded"/>
<rect x="142.6" y="244.58" width="7.9" height="2.72" fill="#d0c9eb"/>
<rect x="150.2" y="244.58" width="7.9" height="2.72" fill="#d6d0ee"/></g>
<path d="M19.8,30.7H21M19.2,33.1H21M19.2,35.5H21M19.2,38.0H21M19.2,33.1V38.0M20.1,40.4H21M19.2,42.8H21M19.2,45.2H21M19.2,42.8V45.2M19.4,47.6H21M19.4,50.0H21M19.4,47.6V50.0M20.0,52.5H21M20.0,54.9H21M20.0,52.5V54.9M19.1,57.3H21M19.1,59.7H21M19.1,57.3V59.7M19.5,62.1H21M19.5,64.5H21M19.5,62.1V64.5M19.8,67.0H21M19.7,69.4H21M19.7,71.8H21M19.7,69.4V71.8M19.1,74.2H21M19.1,76.6H21M19.1,74.2V76.6M19.9,79.0H21M19.9,81.5H21M19.9,79.0V81.5M19.9,83.9H21M19.9,86.3H21M19.9,83.9V86.3M19.6,88.7H21M20.1,91.1H21M20.1,93.5H21M20.1,91.1V93.5M19.9,96.0H21M19.9,98.4H21M19.9,96.0V98.4M19.0,100.8H21M19.0,103.2H21M19.0,100.8V103.2M19.1,105.6H21M19.1,108.0H21M19.1,105.6V108.0M19.8,110.5H21M19.8,112.9H21M19.8,115.3H21M19.8,110.5V115.3M19.5,117.7H21M19.5,120.1H21M19.5,117.7V120.1M19.9,122.5H21M19.9,125.0H21M19.9,122.5V125.0M19.0,127.4H21M19.0,129.8H21M19.0,127.4V129.8M19.8,132.2H21M19.8,134.6H21M19.8,132.2V134.6M19.6,137.0H21M19.6,139.5H21M19.6,141.9H21M19.6,137.0V141.9M19.8,144.3H21M19.8,146.7H21M19.8,144.3V146.7M19.8,149.1H21M19.8,151.5H21M19.8,154.0H21M19.8,149.1V154.0M19.5,156.4H21M19.4,158.8H21M20.0,161.2H21M20.0,163.6H21M20.0,166.0H21M20.0,161.2V166.0M19.2,168.5H21M19.2,170.9H21M19.2,173.3H21M19.2,168.5V173.3M19.3,175.7H21M19.3,178.1H21M19.3,175.7V178.1M19.6,180.5H21M19.6,183.0H21M19.6,180.5V183.0M20.0,185.4H21M20.0,187.8H21M20.0,185.4V187.8M19.1,190.2H21M19.1,192.6H21M19.1,190.2V192.6M19.2,195.0H21M19.2,197.5H21M19.2,199.9H21M19.2,195.0V199.9M19.5,202.3H21M19.5,204.7H21M19.5,202.3V204.7M19.7,207.1H21M19.7,209.5H21M19.7,207.1V209.5M19.2,212.0H21M20.0,214.4H21M20.0,216.8H21M20.0,214.4V216.8M19.4,219.2H21M19.4,221.6H21M19.4,219.2V221.6M20.0,224.0H21M20.0,226.5H21M20.0,224.0V226.5M19.1,228.9H21M19.1,231.3H21M19.1,228.9V231.3M19.7,233.7H21M19.7,236.1H21M19.7,233.7V236.1M19.1,238.5H21M19.1,241.0H21M19.1,243.4H21M19.1,238.5V243.4M19.2,245.8H21M18.0,30.7H19.8M18.0,35.5H19.2M18.0,30.7V35.5M17.8,40.4H20.1M17.8,44.0H19.2M17.8,40.4V44.0M18.4,48.8H19.4M18.4,53.7H20.0M18.4,48.8V53.7M18.3,58.5H19.1M18.3,63.3H19.5M18.3,58.5V63.3M18.1,67.0H19.8M18.1,70.6H19.7M18.1,67.0V70.6M18.2,75.4H19.1M18.2,80.3H19.9M18.2,75.4V80.3M18.7,85.1H19.9M18.7,88.7H19.6M18.7,85.1V88.7M19.0,92.3H20.1M19.0,97.2H19.9M19.0,92.3V97.2M17.8,102.0H19.0M17.8,106.8H19.1M17.8,102.0V106.8M17.9,112.9H19.8M17.9,118.9H19.5M17.9,112.9V118.9M17.7,123.8H19.9M17.7,128.6H19.0M17.7,133.4H19.8M17.7,123.8V133.4M18.1,139.5H19.6M18.1,145.5H19.8M18.1,139.5V145.5M18.7,151.5H19.8M18.7,156.4H19.5M18.7,158.8H19.4M18.7,163.6H20.0M18.7,151.5V163.6M17.8,170.9H19.2M17.8,176.9H19.3M17.8,170.9V176.9M17.8,181.8H19.6M17.8,186.6H20.0M17.8,191.4H19.1M17.8,197.5H19.2M17.8,181.8V197.5M18.5,203.5H19.5M18.5,208.3H19.7M18.5,212.0H19.2M18.5,203.5V212.0M18.0,215.6H20.0M18.0,220.4H19.4M18.0,215.6V220.4M17.6,225.3H20.0M17.6,230.1H19.1M17.6,225.3V230.1M17.5,234.9H19.7M17.5,241.0H19.1M17.5,245.8H19.2M17.5,234.9V245.8" stroke="#2a2a2a" stroke-width="0.6" fill="none"/>
<path d="M15.5,49V98M15.5,49H17.6M15.5,98H17.6M12.7,82H15.5M12.7,82V143.3M12,143.3H14.5M14.5,116V166.4M14.5,116H17M14.5,166.4H16.9M16.9,169V207M16.9,169H18.2M16.9,207H18.2M9.5,112V200M9.5,112H12.7M9.5,200H14.5M16.2,215V240M16.2,215H18M16.2,240H18" stroke="#8a8a8a" stroke-width="0.55" fill="none"/>
<text x="160" y="23" text-anchor="start" fill="#111" stroke="#111" stroke-width="0.22" style="font-size:7.6px;font-weight:bold;" ><tspan font-style="italic">P</tspan> &lt; 0.05</text>
<text x="160" y="29.6" text-anchor="start" fill="#111" stroke="#111" stroke-width="0.22" style="font-size:7.6px;font-weight:bold;" >Cell line</text>
<path d="M170.5,44.6H161.8" stroke="#111" stroke-width="1"/>
<path d="M158.8,44.6l3.6,-1.9v3.8z" fill="#111"/>
<text x="172" y="43.8" text-anchor="start" fill="#111" stroke="#111" stroke-width="0.22" style="font-size:7.4px;font-weight:bold;" >S6_S240/244</text>
<path d="M170.5,49.2H161.8" stroke="#111" stroke-width="1"/>
<path d="M158.8,49.2l3.6,-1.9v3.8z" fill="#111"/>
<text x="172" y="51.8" text-anchor="start" fill="#111" stroke="#111" stroke-width="0.22" style="font-size:7.4px;font-weight:bold;" >AXL</text>
<path d="M170.5,68.8H161.8" stroke="#111" stroke-width="1"/>
<path d="M158.8,68.8l3.6,-1.9v3.8z" fill="#111"/>
<text x="172" y="71.5" text-anchor="start" fill="#111" stroke="#111" stroke-width="0.22" style="font-size:7.4px;font-weight:bold;" >MET</text>
<path d="M170.5,238.2H161.8" stroke="#111" stroke-width="1"/>
<path d="M158.8,238.2l3.6,-1.9v3.8z" fill="#111"/>
<text x="172.3" y="240.9" text-anchor="start" fill="#111" stroke="#111" stroke-width="0.22" style="font-size:7.4px;font-weight:bold;" >WEE1</text>
<text x="161.8" y="126.4" text-anchor="start" fill="#111" stroke="#111" stroke-width="0.22" style="font-size:8.8px;font-weight:bold;" >Cells</text>
<rect x="161.6" y="128.4" width="13.4" height="13.3" fill="#ef6262"/>
<rect x="161.6" y="143" width="13.4" height="13.2" fill="#17a64a"/>
<rect x="161.6" y="157.3" width="13.4" height="13.3" fill="#6b8fd8"/>
<text x="176.6" y="138.6" text-anchor="start" fill="#111" stroke="#111" stroke-width="0.22" style="font-size:8.6px;font-weight:bold;" >H1048</text>
<text x="176.6" y="152.8" text-anchor="start" fill="#111" stroke="#111" stroke-width="0.22" style="font-size:8.6px;font-weight:bold;" >H1836</text>
<text x="176.6" y="167" text-anchor="start" fill="#111" stroke="#111" stroke-width="0.22" style="font-size:8.6px;font-weight:bold;" >H524</text>
<text x="161.8" y="178.6" text-anchor="start" fill="#111" stroke="#111" stroke-width="0.22" style="font-size:8.8px;font-weight:bold;" >RPPA</text>
<linearGradient id="rg" x1="0" y1="0" x2="0" y2="1"><stop offset="0" stop-color="#e0201c"/><stop offset="0.2" stop-color="#e83a2e"/><stop offset="0.45" stop-color="#f8c0b0"/><stop offset="0.58" stop-color="#f2eef4"/><stop offset="0.8" stop-color="#8c86cc"/><stop offset="1" stop-color="#3c4fae"/></linearGradient>
<rect x="161.2" y="181" width="9.8" height="43" fill="url(#rg)"/>
<text x="172.6" y="185.2" text-anchor="start" fill="#111" stroke="#111" stroke-width="0.22" style="font-size:6.2px;font-weight:bold;" >3</text>
<text x="172.6" y="193.7" text-anchor="start" fill="#111" stroke="#111" stroke-width="0.22" style="font-size:6.2px;font-weight:bold;" >2</text>
<text x="172.6" y="201.5" text-anchor="start" fill="#111" stroke="#111" stroke-width="0.22" style="font-size:6.2px;font-weight:bold;" >1</text>
<text x="172.6" y="209.2" text-anchor="start" fill="#111" stroke="#111" stroke-width="0.22" style="font-size:6.2px;font-weight:bold;" >0</text>
<text x="172.6" y="217.2" text-anchor="start" fill="#111" stroke="#111" stroke-width="0.22" style="font-size:6.2px;font-weight:bold;" >-1</text>
<text x="172.6" y="224.7" text-anchor="start" fill="#111" stroke="#111" stroke-width="0.22" style="font-size:6.2px;font-weight:bold;" >-2</text>
<text x="241" y="13.6" text-anchor="start" fill="#111" stroke="#111" stroke-width="0.22" style="font-size:15px;font-weight:bold;" >B</text>
<path d="M253.5,247.5V25" stroke="#111" stroke-width="1.4"/>
<path d="M253.5,20.2l-2.9,6.6h5.8z" fill="#111"/>
<text transform="translate(249.2,127.5) rotate(-90)" text-anchor="middle" style="font-size:9.8px;font-weight:bold" fill="#111">Protein expression level</text>
<rect x="269.2" y="20" width="108.30000000000001" height="99.5" fill="#fff" stroke="#cccccc" stroke-width="1"/>
<path d="M299.5,119.5v2M348.8,119.5v2" stroke="#666" stroke-width="0.7"/>
<text x="324.8" y="15.7" text-anchor="middle" fill="#111" stroke="#111" stroke-width="0.22" style="font-size:10.2px;font-weight:bold;" >AXL</text>
<path d="M267.7,37.5H269.2" stroke="#999" stroke-width="0.6"/>
<text x="267.9" y="39.9" text-anchor="end" fill="#111" stroke="#111" stroke-width="0.22" style="font-size:6.6px;font-weight:bold;" >0.0</text>
<path d="M267.7,62.7H269.2" stroke="#999" stroke-width="0.6"/>
<text x="267.9" y="65.10000000000001" text-anchor="end" fill="#111" stroke="#111" stroke-width="0.22" style="font-size:6.6px;font-weight:bold;" >-0.4</text>
<path d="M267.7,88H269.2" stroke="#999" stroke-width="0.6"/>
<text x="267.9" y="90.4" text-anchor="end" fill="#111" stroke="#111" stroke-width="0.22" style="font-size:6.6px;font-weight:bold;" >-0.8</text>
<path d="M267.7,113.6H269.2" stroke="#999" stroke-width="0.6"/>
<text x="267.9" y="116.0" text-anchor="end" fill="#111" stroke="#111" stroke-width="0.22" style="font-size:6.6px;font-weight:bold;" >-1.2</text>
<text x="272" y="28.8" text-anchor="start" fill="#111" style="font-size:8.8px;" ><tspan font-style="italic">P</tspan> &lt; 0.05</text>
<text x="272" y="38.8" text-anchor="start" fill="#111" style="font-size:8.8px;" >FC = 1.91</text>
<path d="M299.55,103V116" stroke="#e08a80" stroke-width="0.7"/>
<rect x="280.8" y="83.8" width="37.5" height="19.200000000000003" fill="none" stroke="#aaaaaa" stroke-width="1.1"/>
<path d="M280.8,87.5H318.3" stroke="#6e6e6e" stroke-width="1.5"/>
<rect x="330" y="26.3" width="37.5" height="11.7" fill="none" stroke="#aaaaaa" stroke-width="1.1"/>
<path d="M330,26.3H367.5" stroke="#8a8a8a" stroke-width="1.2"/>
<path d="M300,77.5l1.9,3.3h-3.8z" fill="#3aa04a"/>
<circle cx="298.5" cy="82.5" r="1.3" fill="#3aa04a"/>
<circle cx="301.5" cy="84.5" r="1.3" fill="#3aa04a"/>
<circle cx="296.5" cy="86" r="1.3" fill="#4a7fd0"/>
<circle cx="303.5" cy="86.5" r="1.3" fill="#4a7fd0"/>
<circle cx="301.3" cy="91.8" r="1.3" fill="#4a7fd0"/>
<circle cx="300.5" cy="102.5" r="1.3" fill="#e45a48"/>
<circle cx="297" cy="116" r="1.3" fill="#e45a48"/>
<circle cx="301.5" cy="115" r="1.3" fill="#e45a48"/>
<path d="M349.5,23l1.9,3.3h-3.8z" fill="#3aa04a"/>
<circle cx="347.5" cy="26.5" r="1.3" fill="#3aa04a"/>
<circle cx="351.5" cy="26.5" r="1.3" fill="#3aa04a"/>
<circle cx="350" cy="31.3" r="1.3" fill="#e45a48"/>
<circle cx="349.5" cy="37.5" r="1.3" fill="#4a7fd0"/>
<circle cx="350" cy="43" r="1.3" fill="#4a7fd0"/>
<circle cx="351.3" cy="45" r="1.3" fill="#4a7fd0"/>
<rect x="402.5" y="19.5" width="103.30000000000001" height="101.0" fill="#fff" stroke="#cccccc" stroke-width="1"/>
<path d="M432.8,120.5v2M482.3,120.5v2" stroke="#666" stroke-width="0.7"/>
<text x="455" y="15.7" text-anchor="middle" fill="#111" stroke="#111" stroke-width="0.22" style="font-size:10.2px;font-weight:bold;" >MET</text>
<path d="M401.0,52.5H402.5" stroke="#999" stroke-width="0.6"/>
<text x="401.2" y="54.9" text-anchor="end" fill="#111" stroke="#111" stroke-width="0.22" style="font-size:6.6px;font-weight:bold;" >0.0</text>
<path d="M401.0,89.5H402.5" stroke="#999" stroke-width="0.6"/>
<text x="401.2" y="91.9" text-anchor="end" fill="#111" stroke="#111" stroke-width="0.22" style="font-size:6.6px;font-weight:bold;" >-0.5</text>
<text x="405" y="28" text-anchor="start" fill="#111" style="font-size:8.8px;" ><tspan font-style="italic">P</tspan> &lt; 0.05</text>
<text x="405" y="38.8" text-anchor="start" fill="#111" style="font-size:8.8px;" >FC = 1.68</text>
<path d="M432.8,82.5V60" stroke="#8cc08c" stroke-width="0.7"/>
<rect x="414.3" y="82.5" width="37.0" height="21.299999999999997" fill="none" stroke="#aaaaaa" stroke-width="1.1"/>
<path d="M414.3,86.3H451.3" stroke="#6e6e6e" stroke-width="1.5"/>
<rect x="463.8" y="27" width="37.0" height="16" fill="none" stroke="#aaaaaa" stroke-width="1.1"/>
<path d="M463.8,27H500.8" stroke="#8a8a8a" stroke-width="1.1"/>
<circle cx="432.5" cy="60" r="1.3" fill="#3aa04a"/>
<path d="M429.5,84.5l1.9,3.3h-3.8z" fill="#3aa04a"/>
<circle cx="432" cy="85" r="1.3" fill="#3aa04a"/>
<circle cx="434" cy="83" r="1.3" fill="#e45a48"/>
<circle cx="436" cy="82.5" r="1.3" fill="#e45a48"/>
<circle cx="432.5" cy="103.8" r="1.3" fill="#4a7fd0"/>
<circle cx="430" cy="112.5" r="1.3" fill="#4a7fd0"/>
<circle cx="430" cy="116" r="1.3" fill="#4a7fd0"/>
<path d="M478.5,24.5l1.9,3.3h-3.8z" fill="#3aa04a"/>
<path d="M482,23.5l1.9,3.3h-3.8z" fill="#3aa04a"/>
<circle cx="485" cy="26.5" r="1.3" fill="#e45a48"/>
<circle cx="480" cy="32.5" r="1.3" fill="#e45a48"/>
<circle cx="482.5" cy="43.8" r="1.3" fill="#4a7fd0"/>
<circle cx="480.5" cy="48" r="1.3" fill="#4a7fd0"/>
<circle cx="485.5" cy="48" r="1.3" fill="#4a7fd0"/>
<rect x="269.3" y="133.8" width="108.19999999999999" height="100.5" fill="#fff" stroke="#cccccc" stroke-width="1"/>
<path d="M299.5,234.3v2M349.8,234.3v2" stroke="#666" stroke-width="0.7"/>
<text x="323.8" y="131.4" text-anchor="middle" fill="#111" stroke="#111" stroke-width="0.22" style="font-size:9.8px;font-weight:bold;" >S6_S240/244</text>
<path d="M267.8,154.3H269.3" stroke="#999" stroke-width="0.6"/>
<text x="268.0" y="156.70000000000002" text-anchor="end" fill="#111" stroke="#111" stroke-width="0.22" style="font-size:6.6px;font-weight:bold;" >1.0</text>
<path d="M267.8,175.6H269.3" stroke="#999" stroke-width="0.6"/>
<text x="268.0" y="178.0" text-anchor="end" fill="#111" stroke="#111" stroke-width="0.22" style="font-size:6.6px;font-weight:bold;" >0.5</text>
<path d="M267.8,197H269.3" stroke="#999" stroke-width="0.6"/>
<text x="268.0" y="199.4" text-anchor="end" fill="#111" stroke="#111" stroke-width="0.22" style="font-size:6.6px;font-weight:bold;" >0.0</text>
<path d="M267.8,220H269.3" stroke="#999" stroke-width="0.6"/>
<text x="268.0" y="222.4" text-anchor="end" fill="#111" stroke="#111" stroke-width="0.22" style="font-size:6.6px;font-weight:bold;" >-0.5</text>
<text x="272" y="142.6" text-anchor="start" fill="#111" style="font-size:8.8px;" ><tspan font-style="italic">P</tspan> &lt; 0.05</text>
<text x="272" y="153.4" text-anchor="start" fill="#111" style="font-size:8.8px;" >FC = 2.64</text>
<rect x="280.8" y="179.5" width="37.5" height="45.5" fill="none" stroke="#aaaaaa" stroke-width="1.1"/>
<path d="M280.8,210.5H318.3" stroke="#6e6e6e" stroke-width="1.5"/>
<rect x="330.8" y="139.5" width="38.0" height="9.800000000000011" fill="none" stroke="#aaaaaa" stroke-width="1.1"/>
<path d="M330.8,139.5H368.8" stroke="#6e6e6e" stroke-width="1.5"/>
<path d="M297,175.5l1.9,3.3h-3.8z" fill="#3aa04a"/>
<path d="M300,173l1.9,3.3h-3.8z" fill="#3aa04a"/>
<circle cx="301.5" cy="177" r="1.3" fill="#3aa04a"/>
<circle cx="298.5" cy="210.3" r="1.3" fill="#4a7fd0"/>
<circle cx="300.5" cy="210" r="1.3" fill="#4a7fd0"/>
<circle cx="302" cy="210.5" r="1.3" fill="#4a7fd0"/>
<circle cx="296" cy="225" r="1.3" fill="#e45a48"/>
<circle cx="299" cy="226.5" r="1.3" fill="#e45a48"/>
<circle cx="301" cy="230" r="1.3" fill="#e45a48"/>
<circle cx="347.5" cy="138.8" r="1.3" fill="#3aa04a"/>
<circle cx="350" cy="139" r="1.3" fill="#3aa04a"/>
<circle cx="353.8" cy="142.5" r="1.3" fill="#e45a48"/>
<circle cx="347.5" cy="149" r="1.3" fill="#4a7fd0"/>
<circle cx="349.5" cy="151" r="1.3" fill="#4a7fd0"/>
<circle cx="351.5" cy="151.5" r="1.3" fill="#4a7fd0"/>
<rect x="402.5" y="133.8" width="108.80000000000001" height="100.5" fill="#fff" stroke="#cccccc" stroke-width="1"/>
<path d="M432.5,234.3v2M482.5,234.3v2" stroke="#666" stroke-width="0.7"/>
<text x="458.8" y="131.4" text-anchor="middle" fill="#111" stroke="#111" stroke-width="0.22" style="font-size:10px;font-weight:bold;" >WEE1</text>
<path d="M401.0,155H402.5" stroke="#999" stroke-width="0.6"/>
<text x="401.2" y="157.4" text-anchor="end" fill="#111" stroke="#111" stroke-width="0.22" style="font-size:6.6px;font-weight:bold;" >2.5</text>
<path d="M401.0,176.3H402.5" stroke="#999" stroke-width="0.6"/>
<text x="401.2" y="178.70000000000002" text-anchor="end" fill="#111" stroke="#111" stroke-width="0.22" style="font-size:6.6px;font-weight:bold;" >2.0</text>
<path d="M401.0,198.8H402.5" stroke="#999" stroke-width="0.6"/>
<text x="401.2" y="201.20000000000002" text-anchor="end" fill="#111" stroke="#111" stroke-width="0.22" style="font-size:6.6px;font-weight:bold;" >1.5</text>
<path d="M401.0,221.3H402.5" stroke="#999" stroke-width="0.6"/>
<text x="401.2" y="223.70000000000002" text-anchor="end" fill="#111" stroke="#111" stroke-width="0.22" style="font-size:6.6px;font-weight:bold;" >1.0</text>
<text x="504.5" y="142.6" text-anchor="end" fill="#111" style="font-size:8.8px;" ><tspan font-style="italic">P</tspan> &lt; 0.05</text>
<text x="509.8" y="153.8" text-anchor="end" fill="#111" style="font-size:8.8px;" >FC = 3.12</text>
<rect x="413.8" y="145" width="37.5" height="13" fill="none" stroke="#aaaaaa" stroke-width="1.1"/>
<path d="M413.8,146.8H451.3" stroke="#6e6e6e" stroke-width="1.5"/>
<rect x="463.8" y="217.5" width="37.5" height="10.0" fill="none" stroke="#aaaaaa" stroke-width="1.1"/>
<path d="M463.8,217.5H501.3" stroke="#6e6e6e" stroke-width="1.5"/>
<path d="M435,136l1.9,3.3h-3.8z" fill="#3aa04a"/>
<circle cx="431" cy="145" r="1.3" fill="#3aa04a"/>
<circle cx="433.5" cy="144.5" r="1.3" fill="#3aa04a"/>
<circle cx="435.5" cy="145.5" r="1.3" fill="#3aa04a"/>
<circle cx="435" cy="150" r="1.3" fill="#e45a48"/>
<circle cx="429.5" cy="159.5" r="1.3" fill="#4a7fd0"/>
<circle cx="431.5" cy="158.5" r="1.3" fill="#4a7fd0"/>
<circle cx="478.8" cy="216.3" r="1.3" fill="#3aa04a"/>
<circle cx="482.5" cy="217" r="1.3" fill="#e45a48"/>
<circle cx="485" cy="216.5" r="1.3" fill="#e45a48"/>
<circle cx="482" cy="220" r="1.3" fill="#e45a48"/>
<circle cx="480" cy="230" r="1.3" fill="#4a7fd0"/>
<circle cx="485" cy="228.8" r="1.3" fill="#4a7fd0"/>
<circle cx="485.5" cy="230" r="1.3" fill="#4a7fd0"/>
<text x="300" y="243.8" text-anchor="middle" fill="#111" stroke="#111" stroke-width="0.22" style="font-size:8.6px;font-weight:bold;" >Parental</text>
<text x="352.5" y="243.8" text-anchor="middle" fill="#111" stroke="#111" stroke-width="0.22" style="font-size:8.6px;font-weight:bold;" >AZD-Res</text>
<text x="430" y="243.8" text-anchor="middle" fill="#111" stroke="#111" stroke-width="0.22" style="font-size:8.6px;font-weight:bold;" >Parental</text>
<text x="482.5" y="243.8" text-anchor="middle" fill="#111" stroke="#111" stroke-width="0.22" style="font-size:8.6px;font-weight:bold;" >AZD-Res</text>
<text x="0.8" y="273.8" text-anchor="start" fill="#111" stroke="#111" stroke-width="0.22" style="font-size:15.5px;font-weight:bold;" >C</text>
<rect x="27.2" y="281.9" width="151.0" height="140.10000000000002" fill="#fff" stroke="#a8a8a8" stroke-width="1"/>
<path d="M25.0,286.7H27.2" stroke="#555" stroke-width="0.7"/>
<text x="24.2" y="289.0" text-anchor="end" fill="#111" stroke="#111" stroke-width="0.22" style="font-size:6.9px;font-weight:bold;" >1.2</text>
<path d="M25.0,308.3H27.2" stroke="#555" stroke-width="0.7"/>
<text x="24.2" y="310.6" text-anchor="end" fill="#111" stroke="#111" stroke-width="0.22" style="font-size:6.9px;font-weight:bold;" >1.0</text>
<path d="M25.0,330H27.2" stroke="#555" stroke-width="0.7"/>
<text x="24.2" y="332.3" text-anchor="end" fill="#111" stroke="#111" stroke-width="0.22" style="font-size:6.9px;font-weight:bold;" >0.8</text>
<path d="M25.0,351.9H27.2" stroke="#555" stroke-width="0.7"/>
<text x="24.2" y="354.2" text-anchor="end" fill="#111" stroke="#111" stroke-width="0.22" style="font-size:6.9px;font-weight:bold;" >0.6</text>
<path d="M25.0,373.4H27.2" stroke="#555" stroke-width="0.7"/>
<text x="24.2" y="375.7" text-anchor="end" fill="#111" stroke="#111" stroke-width="0.22" style="font-size:6.9px;font-weight:bold;" >0.4</text>
<path d="M25.0,394.9H27.2" stroke="#555" stroke-width="0.7"/>
<text x="24.2" y="397.2" text-anchor="end" fill="#111" stroke="#111" stroke-width="0.22" style="font-size:6.9px;font-weight:bold;" >0.2</text>
<path d="M25.0,416.4H27.2" stroke="#555" stroke-width="0.7"/>
<text x="24.2" y="418.7" text-anchor="end" fill="#111" stroke="#111" stroke-width="0.22" style="font-size:6.9px;font-weight:bold;" >0</text>
<path d="M58.6,422V424.2" stroke="#555" stroke-width="0.7"/>
<text x="58.6" y="431.5" text-anchor="middle" fill="#111" stroke="#111" stroke-width="0.22" style="font-size:6.9px;font-weight:bold;" >0.032</text>
<path d="M92.9,422V424.2" stroke="#555" stroke-width="0.7"/>
<text x="92.9" y="431.5" text-anchor="middle" fill="#111" stroke="#111" stroke-width="0.22" style="font-size:6.9px;font-weight:bold;" >0.1</text>
<path d="M126.8,422V424.2" stroke="#555" stroke-width="0.7"/>
<text x="126.8" y="431.5" text-anchor="middle" fill="#111" stroke="#111" stroke-width="0.22" style="font-size:6.9px;font-weight:bold;" >0.316</text>
<path d="M160.2,422V424.2" stroke="#555" stroke-width="0.7"/>
<text x="160.2" y="431.5" text-anchor="middle" fill="#111" stroke="#111" stroke-width="0.22" style="font-size:6.9px;font-weight:bold;" >1</text>
<text transform="translate(8.2,353.8) rotate(-90)" text-anchor="middle" style="font-size:8.2px;font-weight:bold" fill="#111">Relative viability</text>
<text x="101.5" y="443.3" text-anchor="middle" fill="#111" stroke="#111" stroke-width="0.22" style="font-size:7.5px;font-weight:bold;" >Drug dose (µmol/L)</text>
<path d="M33.40,308.60C38.72,308.73 54.65,307.25 65.30,309.40C75.95,311.55 86.67,318.13 97.30,321.50C107.93,324.87 118.42,327.87 129.10,329.60C139.78,331.33 156.02,331.52 161.40,331.90" fill="none" stroke="#f09aa0" stroke-width="0.8"/>
<path d="M33.40,310.90C38.72,311.37 54.65,311.07 65.30,313.70C75.95,316.33 86.67,322.70 97.30,326.70C107.93,330.70 118.42,335.38 129.10,337.70C139.78,340.02 156.02,340.12 161.40,340.60" fill="none" stroke="#f09aa0" stroke-width="0.8"/>
<path d="M33.40,313.20C38.72,314.25 54.65,316.53 65.30,319.50C75.95,322.47 86.67,327.87 97.30,331.00C107.93,334.13 118.42,335.80 129.10,338.30C139.78,340.80 156.02,344.72 161.40,346.00" fill="none" stroke="#f09aa0" stroke-width="0.8"/>
<rect x="32.55" y="306.80" width="1.7" height="3.6" rx="0.5" fill="#c8303a"/>
<rect x="32.55" y="309.10" width="1.7" height="3.6" rx="0.5" fill="#c8303a"/>
<rect x="32.55" y="311.40" width="1.7" height="3.6" rx="0.5" fill="#c8303a"/>
<rect x="64.45" y="307.60" width="1.7" height="3.6" rx="0.5" fill="#c8303a"/>
<rect x="64.45" y="311.90" width="1.7" height="3.6" rx="0.5" fill="#c8303a"/>
<rect x="64.45" y="317.70" width="1.7" height="3.6" rx="0.5" fill="#c8303a"/>
<rect x="96.45" y="319.70" width="1.7" height="3.6" rx="0.5" fill="#c8303a"/>
<rect x="96.45" y="324.90" width="1.7" height="3.6" rx="0.5" fill="#c8303a"/>
<rect x="96.45" y="329.20" width="1.7" height="3.6" rx="0.5" fill="#c8303a"/>
<rect x="128.25" y="327.80" width="1.7" height="3.6" rx="0.5" fill="#c8303a"/>
<rect x="128.25" y="335.90" width="1.7" height="3.6" rx="0.5" fill="#c8303a"/>
<rect x="128.25" y="336.50" width="1.7" height="3.6" rx="0.5" fill="#c8303a"/>
<rect x="160.55" y="330.10" width="1.7" height="3.6" rx="0.5" fill="#c8303a"/>
<rect x="160.55" y="338.80" width="1.7" height="3.6" rx="0.5" fill="#c8303a"/>
<rect x="160.55" y="344.20" width="1.7" height="3.6" rx="0.5" fill="#c8303a"/>
<path d="M59.30,308.60C62.65,309.32 72.68,310.12 79.40,312.90C86.12,315.68 92.87,321.17 99.60,325.30C106.33,329.43 113.08,334.20 119.80,337.70C126.52,341.20 136.55,344.87 139.90,346.30" fill="none" stroke="#a8d488" stroke-width="0.8"/>
<path d="M59.30,312.50C62.65,315.00 72.68,324.42 79.40,327.50C86.12,330.58 92.87,328.83 99.60,331.00C106.33,333.17 113.08,337.25 119.80,340.50C126.52,343.75 136.55,348.83 139.90,350.50" fill="none" stroke="#a8d488" stroke-width="0.8"/>
<path d="M59.30,316.60C62.65,319.08 72.68,327.98 79.40,331.50C86.12,335.02 92.87,334.88 99.60,337.70C106.33,340.52 113.08,345.90 119.80,348.40C126.52,350.90 136.55,351.98 139.90,352.70" fill="none" stroke="#a8d488" stroke-width="0.8"/>
<rect x="58.45" y="306.80" width="1.7" height="3.6" rx="0.5" fill="#5e9a3c"/>
<rect x="58.45" y="310.70" width="1.7" height="3.6" rx="0.5" fill="#5e9a3c"/>
<rect x="58.45" y="314.80" width="1.7" height="3.6" rx="0.5" fill="#5e9a3c"/>
<rect x="78.55" y="311.10" width="1.7" height="3.6" rx="0.5" fill="#5e9a3c"/>
<rect x="78.55" y="325.70" width="1.7" height="3.6" rx="0.5" fill="#5e9a3c"/>
<rect x="78.55" y="329.70" width="1.7" height="3.6" rx="0.5" fill="#5e9a3c"/>
<rect x="98.75" y="323.50" width="1.7" height="3.6" rx="0.5" fill="#5e9a3c"/>
<rect x="98.75" y="329.20" width="1.7" height="3.6" rx="0.5" fill="#5e9a3c"/>
<rect x="98.75" y="335.90" width="1.7" height="3.6" rx="0.5" fill="#5e9a3c"/>
<rect x="118.95" y="335.90" width="1.7" height="3.6" rx="0.5" fill="#5e9a3c"/>
<rect x="118.95" y="338.70" width="1.7" height="3.6" rx="0.5" fill="#5e9a3c"/>
<rect x="118.95" y="346.60" width="1.7" height="3.6" rx="0.5" fill="#5e9a3c"/>
<rect x="139.05" y="344.50" width="1.7" height="3.6" rx="0.5" fill="#5e9a3c"/>
<rect x="139.05" y="348.70" width="1.7" height="3.6" rx="0.5" fill="#5e9a3c"/>
<rect x="139.05" y="350.90" width="1.7" height="3.6" rx="0.5" fill="#5e9a3c"/>
<path d="M33.40,352.70C38.72,353.75 54.65,355.88 65.30,359.00C75.95,362.12 86.67,367.73 97.30,371.40C107.93,375.07 118.42,378.93 129.10,381.00C139.78,383.07 156.02,383.33 161.40,383.80" fill="none" stroke="#909090" stroke-width="0.8"/>
<path d="M33.40,361.30C38.72,362.27 54.65,364.93 65.30,367.10C75.95,369.27 86.67,371.03 97.30,374.30C107.93,377.57 118.42,383.82 129.10,386.70C139.78,389.58 156.02,390.78 161.40,391.60" fill="none" stroke="#909090" stroke-width="0.8"/>
<path d="M33.40,367.10C38.72,367.48 54.65,367.87 65.30,369.40C75.95,370.93 86.67,373.32 97.30,376.30C107.93,379.28 118.42,384.52 129.10,387.30C139.78,390.08 156.02,392.05 161.40,393.00" fill="none" stroke="#909090" stroke-width="0.8"/>
<rect x="32.55" y="350.90" width="1.7" height="3.6" rx="0.5" fill="#111"/>
<rect x="32.55" y="359.50" width="1.7" height="3.6" rx="0.5" fill="#111"/>
<rect x="32.55" y="365.30" width="1.7" height="3.6" rx="0.5" fill="#111"/>
<rect x="64.45" y="357.20" width="1.7" height="3.6" rx="0.5" fill="#111"/>
<rect x="64.45" y="365.30" width="1.7" height="3.6" rx="0.5" fill="#111"/>
<rect x="64.45" y="367.60" width="1.7" height="3.6" rx="0.5" fill="#111"/>
<rect x="96.45" y="369.60" width="1.7" height="3.6" rx="0.5" fill="#111"/>
<rect x="96.45" y="372.50" width="1.7" height="3.6" rx="0.5" fill="#111"/>
<rect x="96.45" y="374.50" width="1.7" height="3.6" rx="0.5" fill="#111"/>
<rect x="128.25" y="379.20" width="1.7" height="3.6" rx="0.5" fill="#111"/>
<rect x="128.25" y="384.90" width="1.7" height="3.6" rx="0.5" fill="#111"/>
<rect x="128.25" y="385.50" width="1.7" height="3.6" rx="0.5" fill="#111"/>
<rect x="160.55" y="382.00" width="1.7" height="3.6" rx="0.5" fill="#111"/>
<rect x="160.55" y="389.80" width="1.7" height="3.6" rx="0.5" fill="#111"/>
<rect x="160.55" y="391.20" width="1.7" height="3.6" rx="0.5" fill="#111"/>
<path d="M29.4,391.2H35.8" stroke="#d83a3a" stroke-width="1.8"/>
<text x="40.0" y="393.75" text-anchor="start" fill="#111" stroke="#111" stroke-width="0.22" style="font-size:7.2px;font-weight:bold;" >AZD1775</text>
<path d="M29.4,403.6H35.8" stroke="#a8c860" stroke-width="1.8"/>
<text x="40.0" y="406.15000000000003" text-anchor="start" fill="#111" stroke="#111" stroke-width="0.22" style="font-size:7.2px;font-weight:bold;" >TP0903</text>
<path d="M29.4,415.6H35.8" stroke="#111" stroke-width="1.8"/>
<text x="40.0" y="418.15000000000003" text-anchor="start" fill="#111" stroke="#111" stroke-width="0.22" style="font-size:7.2px;font-weight:bold;" >AZD1775+TP0903</text>
<text x="190.3" y="274" text-anchor="start" fill="#111" stroke="#111" stroke-width="0.22" style="font-size:15.5px;font-weight:bold;" >D</text>
<rect x="198.6" y="282" width="148.79999999999998" height="141" fill="#fff" stroke="#a8a8a8" stroke-width="1"/>
<path d="M196.4,287.3H198.6" stroke="#555" stroke-width="0.7"/>
<text x="195.6" y="289.6" text-anchor="end" fill="#111" stroke="#111" stroke-width="0.22" style="font-size:6.9px;font-weight:bold;" >1.0</text>
<path d="M196.4,313.2H198.6" stroke="#555" stroke-width="0.7"/>
<text x="195.6" y="315.5" text-anchor="end" fill="#111" stroke="#111" stroke-width="0.22" style="font-size:6.9px;font-weight:bold;" >0.8</text>
<path d="M196.4,339.1H198.6" stroke="#555" stroke-width="0.7"/>
<text x="195.6" y="341.40000000000003" text-anchor="end" fill="#111" stroke="#111" stroke-width="0.22" style="font-size:6.9px;font-weight:bold;" >0.6</text>
<path d="M196.4,365H198.6" stroke="#555" stroke-width="0.7"/>
<text x="195.6" y="367.3" text-anchor="end" fill="#111" stroke="#111" stroke-width="0.22" style="font-size:6.9px;font-weight:bold;" >0.4</text>
<path d="M196.4,390.9H198.6" stroke="#555" stroke-width="0.7"/>
<text x="195.6" y="393.2" text-anchor="end" fill="#111" stroke="#111" stroke-width="0.22" style="font-size:6.9px;font-weight:bold;" >0.2</text>
<path d="M196.4,416.7H198.6" stroke="#555" stroke-width="0.7"/>
<text x="195.6" y="419.0" text-anchor="end" fill="#111" stroke="#111" stroke-width="0.22" style="font-size:6.9px;font-weight:bold;" >0</text>
<path d="M206.2,423V425.2" stroke="#555" stroke-width="0.7"/>
<text x="206.2" y="431.4" text-anchor="middle" fill="#111" stroke="#111" stroke-width="0.22" style="font-size:6.9px;font-weight:bold;" >0.01</text>
<path d="M231,423V425.2" stroke="#555" stroke-width="0.7"/>
<text x="231" y="431.4" text-anchor="middle" fill="#111" stroke="#111" stroke-width="0.22" style="font-size:6.9px;font-weight:bold;" >0.032</text>
<path d="M260.3,423V425.2" stroke="#555" stroke-width="0.7"/>
<text x="260.3" y="431.4" text-anchor="middle" fill="#111" stroke="#111" stroke-width="0.22" style="font-size:6.9px;font-weight:bold;" >0.1</text>
<path d="M287.8,423V425.2" stroke="#555" stroke-width="0.7"/>
<text x="287.8" y="431.4" text-anchor="middle" fill="#111" stroke="#111" stroke-width="0.22" style="font-size:6.9px;font-weight:bold;" >0.316</text>
<path d="M314.6,423V425.2" stroke="#555" stroke-width="0.7"/>
<text x="314.6" y="431.4" text-anchor="middle" fill="#111" stroke="#111" stroke-width="0.22" style="font-size:6.9px;font-weight:bold;" >1</text>
<path d="M337.8,423V425.2" stroke="#555" stroke-width="0.7"/>
<text x="337.8" y="431.4" text-anchor="middle" fill="#111" stroke="#111" stroke-width="0.22" style="font-size:6.9px;font-weight:bold;" >3.162</text>
<text x="270.6" y="443.3" text-anchor="middle" fill="#111" stroke="#111" stroke-width="0.22" style="font-size:7.5px;font-weight:bold;" >Drug dose (µmol/L)</text>
<path d="M211.30,288.25C215.68,288.33 228.78,286.25 237.60,288.75C246.42,291.25 255.38,299.29 264.20,303.25C273.02,307.21 281.75,310.50 290.50,312.50C299.25,314.50 312.33,314.79 316.70,315.25" fill="none" stroke="#e8707a" stroke-width="0.85"/>
<path d="M211.30,289.50C215.68,290.25 228.78,291.92 237.60,294.00C246.42,296.08 255.38,298.83 264.20,302.00C273.02,305.17 281.75,309.67 290.50,313.00C299.25,316.33 312.33,320.50 316.70,322.00" fill="none" stroke="#e8707a" stroke-width="0.85"/>
<path d="M211.30,290.75C215.68,292.33 228.78,297.21 237.60,300.25C246.42,303.29 255.38,306.21 264.20,309.00C273.02,311.79 281.75,314.21 290.50,317.00C299.25,319.79 312.33,324.29 316.70,325.75" fill="none" stroke="#e8707a" stroke-width="0.85"/>
<rect x="210.55" y="287.35" width="1.5" height="1.8" rx="0.5" fill="#c83038"/>
<rect x="210.55" y="288.60" width="1.5" height="1.8" rx="0.5" fill="#c83038"/>
<rect x="210.55" y="289.85" width="1.5" height="1.8" rx="0.5" fill="#c83038"/>
<rect x="236.85" y="287.85" width="1.5" height="1.8" rx="0.5" fill="#c83038"/>
<rect x="236.85" y="293.10" width="1.5" height="1.8" rx="0.5" fill="#c83038"/>
<rect x="236.85" y="299.35" width="1.5" height="1.8" rx="0.5" fill="#c83038"/>
<rect x="263.45" y="302.35" width="1.5" height="1.8" rx="0.5" fill="#c83038"/>
<rect x="263.45" y="301.10" width="1.5" height="1.8" rx="0.5" fill="#c83038"/>
<rect x="263.45" y="308.10" width="1.5" height="1.8" rx="0.5" fill="#c83038"/>
<rect x="289.75" y="311.60" width="1.5" height="1.8" rx="0.5" fill="#c83038"/>
<rect x="289.75" y="312.10" width="1.5" height="1.8" rx="0.5" fill="#c83038"/>
<rect x="289.75" y="316.10" width="1.5" height="1.8" rx="0.5" fill="#c83038"/>
<rect x="315.95" y="314.35" width="1.5" height="1.8" rx="0.5" fill="#c83038"/>
<rect x="315.95" y="321.10" width="1.5" height="1.8" rx="0.5" fill="#c83038"/>
<rect x="315.95" y="324.85" width="1.5" height="1.8" rx="0.5" fill="#c83038"/>
<path d="M211.30,292.00C215.68,294.00 228.78,300.33 237.60,304.00C246.42,307.67 255.38,311.42 264.20,314.00C273.02,316.58 281.75,318.17 290.50,319.50C299.25,320.83 312.33,321.58 316.70,322.00" fill="none" stroke="#6cc04a" stroke-width="0.85"/>
<path d="M211.30,297.00C215.68,298.67 228.78,303.67 237.60,307.00C246.42,310.33 255.38,313.54 264.20,317.00C273.02,320.46 281.75,325.25 290.50,327.75C299.25,330.25 312.33,331.29 316.70,332.00" fill="none" stroke="#6cc04a" stroke-width="0.85"/>
<rect x="210.55" y="291.10" width="1.5" height="1.8" rx="0.5" fill="#4a9a30"/>
<rect x="210.55" y="296.10" width="1.5" height="1.8" rx="0.5" fill="#4a9a30"/>
<rect x="236.85" y="303.10" width="1.5" height="1.8" rx="0.5" fill="#4a9a30"/>
<rect x="236.85" y="306.10" width="1.5" height="1.8" rx="0.5" fill="#4a9a30"/>
<rect x="263.45" y="313.10" width="1.5" height="1.8" rx="0.5" fill="#4a9a30"/>
<rect x="263.45" y="316.10" width="1.5" height="1.8" rx="0.5" fill="#4a9a30"/>
<rect x="289.75" y="318.60" width="1.5" height="1.8" rx="0.5" fill="#4a9a30"/>
<rect x="289.75" y="326.85" width="1.5" height="1.8" rx="0.5" fill="#4a9a30"/>
<rect x="315.95" y="321.10" width="1.5" height="1.8" rx="0.5" fill="#4a9a30"/>
<rect x="315.95" y="331.10" width="1.5" height="1.8" rx="0.5" fill="#4a9a30"/>
<path d="M211.30,326.20C215.68,326.95 228.78,328.47 237.60,330.70C246.42,332.93 255.38,336.52 264.20,339.60C273.02,342.68 281.75,342.50 290.50,349.20C299.25,355.90 312.33,374.70 316.70,379.80" fill="none" stroke="#5a5a5a" stroke-width="0.85"/>
<path d="M211.30,327.70C215.68,329.93 228.78,337.22 237.60,341.10C246.42,344.98 255.38,347.87 264.20,351.00C273.02,354.13 281.75,357.33 290.50,359.90C299.25,362.47 312.33,365.32 316.70,366.40" fill="none" stroke="#5a5a5a" stroke-width="0.85"/>
<path d="M211.30,336.00C215.68,336.10 228.78,335.77 237.60,336.60C246.42,337.43 255.38,338.77 264.20,341.00C273.02,343.23 281.75,346.25 290.50,350.00C299.25,353.75 312.33,361.25 316.70,363.50" fill="none" stroke="#5a5a5a" stroke-width="0.85"/>
<rect x="210.55" y="325.30" width="1.5" height="1.8" rx="0.5" fill="#222"/>
<rect x="210.55" y="326.80" width="1.5" height="1.8" rx="0.5" fill="#222"/>
<rect x="210.55" y="335.10" width="1.5" height="1.8" rx="0.5" fill="#222"/>
<rect x="236.85" y="329.80" width="1.5" height="1.8" rx="0.5" fill="#222"/>
<rect x="236.85" y="340.20" width="1.5" height="1.8" rx="0.5" fill="#222"/>
<rect x="236.85" y="335.70" width="1.5" height="1.8" rx="0.5" fill="#222"/>
<rect x="263.45" y="338.70" width="1.5" height="1.8" rx="0.5" fill="#222"/>
<rect x="263.45" y="350.10" width="1.5" height="1.8" rx="0.5" fill="#222"/>
<rect x="263.45" y="340.10" width="1.5" height="1.8" rx="0.5" fill="#222"/>
<rect x="289.75" y="348.30" width="1.5" height="1.8" rx="0.5" fill="#222"/>
<rect x="289.75" y="359.00" width="1.5" height="1.8" rx="0.5" fill="#222"/>
<rect x="289.75" y="349.10" width="1.5" height="1.8" rx="0.5" fill="#222"/>
<rect x="315.95" y="378.90" width="1.5" height="1.8" rx="0.5" fill="#222"/>
<rect x="315.95" y="365.50" width="1.5" height="1.8" rx="0.5" fill="#222"/>
<rect x="315.95" y="362.60" width="1.5" height="1.8" rx="0.5" fill="#222"/>
<path d="M201,391.7H207.4" stroke="#d83a3a" stroke-width="1.8"/>
<text x="211.6" y="394.25" text-anchor="start" fill="#111" stroke="#111" stroke-width="0.22" style="font-size:7.2px;font-weight:bold;" >AZD1775</text>
<path d="M201,403.8H207.4" stroke="#a8c860" stroke-width="1.8"/>
<text x="211.6" y="406.35" text-anchor="start" fill="#111" stroke="#111" stroke-width="0.22" style="font-size:7.2px;font-weight:bold;" >RAD001</text>
<path d="M201,416H207.4" stroke="#111" stroke-width="1.8"/>
<text x="211.6" y="418.55" text-anchor="start" fill="#111" stroke="#111" stroke-width="0.22" style="font-size:7.2px;font-weight:bold;" >AZD1775+RAD001</text>
<text x="366.8" y="275" text-anchor="start" fill="#111" stroke="#111" stroke-width="0.22" style="font-size:15.5px;font-weight:bold;" >E</text>
<rect x="374.6" y="282.6" width="143.69999999999993" height="138.0" fill="#fff" stroke="#a8a8a8" stroke-width="1"/>
<path d="M372.40000000000003,287.6H374.6" stroke="#555" stroke-width="0.7"/>
<text x="371.6" y="289.90000000000003" text-anchor="end" fill="#111" stroke="#111" stroke-width="0.22" style="font-size:6.9px;font-weight:bold;" >1.0</text>
<path d="M372.40000000000003,313H374.6" stroke="#555" stroke-width="0.7"/>
<text x="371.6" y="315.3" text-anchor="end" fill="#111" stroke="#111" stroke-width="0.22" style="font-size:6.9px;font-weight:bold;" >0.8</text>
<path d="M372.40000000000003,339.1H374.6" stroke="#555" stroke-width="0.7"/>
<text x="371.6" y="341.40000000000003" text-anchor="end" fill="#111" stroke="#111" stroke-width="0.22" style="font-size:6.9px;font-weight:bold;" >0.6</text>
<path d="M372.40000000000003,365H374.6" stroke="#555" stroke-width="0.7"/>
<text x="371.6" y="367.3" text-anchor="end" fill="#111" stroke="#111" stroke-width="0.22" style="font-size:6.9px;font-weight:bold;" >0.4</text>
<path d="M372.40000000000003,391.3H374.6" stroke="#555" stroke-width="0.7"/>
<text x="371.6" y="393.6" text-anchor="end" fill="#111" stroke="#111" stroke-width="0.22" style="font-size:6.9px;font-weight:bold;" >0.2</text>
<path d="M372.40000000000003,416.6H374.6" stroke="#555" stroke-width="0.7"/>
<text x="371.6" y="418.90000000000003" text-anchor="end" fill="#111" stroke="#111" stroke-width="0.22" style="font-size:6.9px;font-weight:bold;" >0</text>
<path d="M384.6,420.6V422.8" stroke="#555" stroke-width="0.7"/>
<text x="384.6" y="430.8" text-anchor="middle" fill="#111" stroke="#111" stroke-width="0.22" style="font-size:6.9px;font-weight:bold;" >0.01</text>
<path d="M409.2,420.6V422.8" stroke="#555" stroke-width="0.7"/>
<text x="409.2" y="430.8" text-anchor="middle" fill="#111" stroke="#111" stroke-width="0.22" style="font-size:6.9px;font-weight:bold;" >0.032</text>
<path d="M433.6,420.6V422.8" stroke="#555" stroke-width="0.7"/>
<text x="433.6" y="430.8" text-anchor="middle" fill="#111" stroke="#111" stroke-width="0.22" style="font-size:6.9px;font-weight:bold;" >0.1</text>
<path d="M458.8,420.6V422.8" stroke="#555" stroke-width="0.7"/>
<text x="458.8" y="430.8" text-anchor="middle" fill="#111" stroke="#111" stroke-width="0.22" style="font-size:6.9px;font-weight:bold;" >0.316</text>
<path d="M484.6,420.6V422.8" stroke="#555" stroke-width="0.7"/>
<text x="484.6" y="430.8" text-anchor="middle" fill="#111" stroke="#111" stroke-width="0.22" style="font-size:6.9px;font-weight:bold;" >1</text>
<path d="M509.2,420.6V422.8" stroke="#555" stroke-width="0.7"/>
<text x="509.2" y="430.8" text-anchor="middle" fill="#111" stroke="#111" stroke-width="0.22" style="font-size:6.9px;font-weight:bold;" >3.162</text>
<text x="446.5" y="443.3" text-anchor="middle" fill="#111" stroke="#111" stroke-width="0.22" style="font-size:7.5px;font-weight:bold;" >Drug dose (µmol/L)</text>
<path d="M384.70,288.70C388.85,288.70 401.18,286.35 409.60,288.70C418.02,291.05 426.62,298.77 435.20,302.80C443.78,306.83 452.57,310.88 461.10,312.90C469.63,314.92 482.18,314.57 486.40,314.90" fill="none" stroke="#e0485a" stroke-width="0.85"/>
<path d="M384.70,290.50C388.85,291.15 401.18,291.52 409.60,294.40C418.02,297.28 426.62,303.70 435.20,307.80C443.78,311.90 452.57,316.13 461.10,319.00C469.63,321.87 482.18,324.00 486.40,325.00" fill="none" stroke="#e0485a" stroke-width="0.85"/>
<path d="M384.70,292.00C388.85,293.30 401.18,296.43 409.60,299.80C418.02,303.17 426.62,309.00 435.20,312.20C443.78,315.40 452.57,315.80 461.10,319.00C469.63,322.20 482.18,329.33 486.40,331.40" fill="none" stroke="#e0485a" stroke-width="0.85"/>
<rect x="383.95" y="287.80" width="1.5" height="1.8" rx="0.5" fill="#c82838"/>
<rect x="383.95" y="289.60" width="1.5" height="1.8" rx="0.5" fill="#c82838"/>
<rect x="383.95" y="291.10" width="1.5" height="1.8" rx="0.5" fill="#c82838"/>
<rect x="408.85" y="287.80" width="1.5" height="1.8" rx="0.5" fill="#c82838"/>
<rect x="408.85" y="293.50" width="1.5" height="1.8" rx="0.5" fill="#c82838"/>
<rect x="408.85" y="298.90" width="1.5" height="1.8" rx="0.5" fill="#c82838"/>
<rect x="434.45" y="301.90" width="1.5" height="1.8" rx="0.5" fill="#c82838"/>
<rect x="434.45" y="306.90" width="1.5" height="1.8" rx="0.5" fill="#c82838"/>
<rect x="434.45" y="311.30" width="1.5" height="1.8" rx="0.5" fill="#c82838"/>
<rect x="460.35" y="312.00" width="1.5" height="1.8" rx="0.5" fill="#c82838"/>
<rect x="460.35" y="318.10" width="1.5" height="1.8" rx="0.5" fill="#c82838"/>
<rect x="460.35" y="318.10" width="1.5" height="1.8" rx="0.5" fill="#c82838"/>
<rect x="485.65" y="314.00" width="1.5" height="1.8" rx="0.5" fill="#c82838"/>
<rect x="485.65" y="324.10" width="1.5" height="1.8" rx="0.5" fill="#c82838"/>
<rect x="485.65" y="330.50" width="1.5" height="1.8" rx="0.5" fill="#c82838"/>
<path d="M384.70,298.00C388.85,300.08 401.18,306.17 409.60,310.50C418.02,314.83 426.62,319.50 435.20,324.00C443.78,328.50 452.57,333.12 461.10,337.50C469.63,341.88 482.18,348.17 486.40,350.30" fill="none" stroke="#68bc48" stroke-width="0.85"/>
<path d="M384.70,298.80C388.85,301.03 401.18,307.72 409.60,312.20C418.02,316.68 426.62,320.65 435.20,325.70C443.78,330.75 452.57,338.02 461.10,342.50C469.63,346.98 482.18,350.92 486.40,352.60" fill="none" stroke="#68bc48" stroke-width="0.85"/>
<path d="M384.70,311.50C388.85,314.42 401.18,323.55 409.60,329.00C418.02,334.45 426.62,341.00 435.20,344.20C443.78,347.40 452.57,346.80 461.10,348.20C469.63,349.60 482.18,351.87 486.40,352.60" fill="none" stroke="#68bc48" stroke-width="0.85"/>
<rect x="383.95" y="297.10" width="1.5" height="1.8" rx="0.5" fill="#4a9a30"/>
<rect x="383.95" y="297.90" width="1.5" height="1.8" rx="0.5" fill="#4a9a30"/>
<rect x="383.95" y="310.60" width="1.5" height="1.8" rx="0.5" fill="#4a9a30"/>
<rect x="408.85" y="309.60" width="1.5" height="1.8" rx="0.5" fill="#4a9a30"/>
<rect x="408.85" y="311.30" width="1.5" height="1.8" rx="0.5" fill="#4a9a30"/>
<rect x="408.85" y="328.10" width="1.5" height="1.8" rx="0.5" fill="#4a9a30"/>
<rect x="434.45" y="323.10" width="1.5" height="1.8" rx="0.5" fill="#4a9a30"/>
<rect x="434.45" y="324.80" width="1.5" height="1.8" rx="0.5" fill="#4a9a30"/>
<rect x="434.45" y="343.30" width="1.5" height="1.8" rx="0.5" fill="#4a9a30"/>
<rect x="460.35" y="336.60" width="1.5" height="1.8" rx="0.5" fill="#4a9a30"/>
<rect x="460.35" y="341.60" width="1.5" height="1.8" rx="0.5" fill="#4a9a30"/>
<rect x="460.35" y="347.30" width="1.5" height="1.8" rx="0.5" fill="#4a9a30"/>
<rect x="485.65" y="349.40" width="1.5" height="1.8" rx="0.5" fill="#4a9a30"/>
<rect x="485.65" y="351.70" width="1.5" height="1.8" rx="0.5" fill="#4a9a30"/>
<rect x="485.65" y="351.70" width="1.5" height="1.8" rx="0.5" fill="#4a9a30"/>
<path d="M384.70,361.00C388.85,361.83 401.18,363.75 409.60,366.00C418.02,368.25 426.62,371.52 435.20,374.50C443.78,377.48 452.57,380.93 461.10,383.90C469.63,386.87 482.18,390.90 486.40,392.30" fill="none" stroke="#2a2a2a" stroke-width="0.85"/>
<path d="M384.70,362.70C388.85,363.82 401.18,367.05 409.60,369.40C418.02,371.75 426.62,374.27 435.20,376.80C443.78,379.33 452.57,381.90 461.10,384.60C469.63,387.30 482.18,391.60 486.40,393.00" fill="none" stroke="#2a2a2a" stroke-width="0.85"/>
<path d="M384.70,366.70C388.85,367.15 401.18,367.43 409.60,369.40C418.02,371.37 426.62,375.80 435.20,378.50C443.78,381.20 452.57,383.07 461.10,385.60C469.63,388.13 482.18,392.35 486.40,393.70" fill="none" stroke="#2a2a2a" stroke-width="0.85"/>
<rect x="383.95" y="360.10" width="1.5" height="1.8" rx="0.5" fill="#111"/>
<rect x="383.95" y="361.80" width="1.5" height="1.8" rx="0.5" fill="#111"/>
<rect x="383.95" y="365.80" width="1.5" height="1.8" rx="0.5" fill="#111"/>
<rect x="408.85" y="365.10" width="1.5" height="1.8" rx="0.5" fill="#111"/>
<rect x="408.85" y="368.50" width="1.5" height="1.8" rx="0.5" fill="#111"/>
<rect x="408.85" y="368.50" width="1.5" height="1.8" rx="0.5" fill="#111"/>
<rect x="434.45" y="373.60" width="1.5" height="1.8" rx="0.5" fill="#111"/>
<rect x="434.45" y="375.90" width="1.5" height="1.8" rx="0.5" fill="#111"/>
<rect x="434.45" y="377.60" width="1.5" height="1.8" rx="0.5" fill="#111"/>
<rect x="460.35" y="383.00" width="1.5" height="1.8" rx="0.5" fill="#111"/>
<rect x="460.35" y="383.70" width="1.5" height="1.8" rx="0.5" fill="#111"/>
<rect x="460.35" y="384.70" width="1.5" height="1.8" rx="0.5" fill="#111"/>
<rect x="485.65" y="391.40" width="1.5" height="1.8" rx="0.5" fill="#111"/>
<rect x="485.65" y="392.10" width="1.5" height="1.8" rx="0.5" fill="#111"/>
<rect x="485.65" y="392.80" width="1.5" height="1.8" rx="0.5" fill="#111"/>
<path d="M377,391.3H383.4" stroke="#d83a3a" stroke-width="1.8"/>
<text x="387.6" y="393.85" text-anchor="start" fill="#111" stroke="#111" stroke-width="0.22" style="font-size:7.2px;font-weight:bold;" >AZD1775</text>
<path d="M377,403H383.4" stroke="#a8c860" stroke-width="1.8"/>
<text x="387.6" y="405.55" text-anchor="start" fill="#111" stroke="#111" stroke-width="0.22" style="font-size:7.2px;font-weight:bold;" >Cabozantinib</text>
<path d="M377,415.9H383.4" stroke="#111" stroke-width="1.8"/>
<text x="387.6" y="418.45" text-anchor="start" fill="#111" stroke="#111" stroke-width="0.22" style="font-size:7.2px;font-weight:bold;" >AZD1775+cabozantinib</text>
<pattern id="mem" x="0" y="0" width="6.8" height="6.9" patternUnits="userSpaceOnUse"><rect width="6.8" height="6.9" fill="#bcbcbc"/><rect width="6.8" height="0.9" fill="#444"/><path d="M-1.6,0.8L3.4,4.3M5.2,0.8L10.2,4.3" stroke="#1e1e1e" stroke-width="1.5"/><path d="M1.6,1.2L5.6,3.9M-5.2,1.2L-1.2,3.9" stroke="#fbfbfb" stroke-width="1.1" stroke-linecap="round"/><path d="M0,4.7H6.8" stroke="#ececec" stroke-width="0.8"/><rect y="5.2" width="6.8" height="1.7" fill="#484848"/><ellipse cx="3.6" cy="6.0" rx="2.1" ry="0.45" fill="#e6e6e6"/></pattern>
<text x="0.8" y="467.4" text-anchor="start" fill="#111" stroke="#111" stroke-width="0.22" style="font-size:17.5px;font-weight:bold;" >F</text>
<text x="121.4" y="463.8" text-anchor="middle" fill="#111" stroke="#111" stroke-width="0.22" style="font-size:7.4px;font-weight:bold;" >Sensitive to AZD1775</text>
<rect x="66" y="467.7" width="110.3" height="145.3" fill="#d9e7ba"/>
<rect transform="translate(67,480.1)" width="108.5" height="6.9" fill="url(#mem)"/>
<path d="M100,539L70.50,539.00A29.5,29.5 0 0 1 100.00,509.50z" fill="#b2a6d4"/>
<path d="M100,539L100.00,509.50A29.5,29.5 0 0 1 129.50,539.00z" fill="#f7c7a2"/>
<path d="M100,539L129.50,539.00A29.5,29.5 0 0 1 100.00,568.50z" fill="#c6dcee"/>
<path d="M100,539L100.00,568.50A29.5,29.5 0 0 1 70.50,539.00z" fill="#d9d8d0"/>
<path d="M100,509.5V568.5M70.5,539H129.5" stroke="#f2f2ee" stroke-width="2"/>
<text x="83.5" y="529" text-anchor="middle" fill="#e6e0f2" stroke="#e6e0f2" stroke-width="0.22" style="font-size:7px;font-weight:bold;" >G1</text>
<text x="114" y="527" text-anchor="middle" fill="#fbe4d0" stroke="#fbe4d0" stroke-width="0.22" style="font-size:7px;font-weight:bold;" >S</text>
<text x="84" y="553.5" text-anchor="middle" fill="#eeeeea" stroke="#eeeeea" stroke-width="0.22" style="font-size:7px;font-weight:bold;" >M</text>
<path d="M79,517L97,534.5M97,517L79,534.5" stroke="#e32626" stroke-width="2.6"/>
<ellipse cx="100.2" cy="538.5" rx="9.4" ry="13" fill="#ffffff" fill-opacity="0.45" stroke="#f4f4f0" stroke-width="3.2"/>
<path d="M91.0,536.0A9.4,13 0 0 1 109.60000000000001,539.0" stroke="#6e6e6e" stroke-width="1.3" fill="none"/>
<path d="M109.00000000000001,543.0A9.4,13 0 0 1 90.8,540.0" stroke="#6e6e6e" stroke-width="1.3" fill="none"/>
<rect x="108.5" y="543.1" width="49.6" height="24.6" fill="#bad6ee" stroke="#151515" stroke-width="1.5"/>
<text x="133.3" y="550.6" text-anchor="middle" fill="#222" stroke="#222" stroke-width="0.22" style="font-size:6.3px;font-weight:bold;" >G2</text>
<text x="133.3" y="559.3" text-anchor="middle" fill="#222" stroke="#222" stroke-width="0.22" style="font-size:6.4px;font-weight:bold;" >checkpoint</text>
<text x="133.3" y="567.4" text-anchor="middle" fill="#222" stroke="#222" stroke-width="0.22" style="font-size:6.4px;font-weight:bold;" >(WEE1)</text>
<path d="M124.2,545.2L143,567M140.6,544.6L126.2,567" stroke="#e32626" stroke-width="3"/>
<text x="85" y="505.3" text-anchor="start" fill="#111" stroke="#111" stroke-width="0.22" style="font-size:7.1px;font-weight:bold;" >Cell Cycle</text>
<text x="125.2" y="516.9" text-anchor="start" fill="#d82626" stroke="#d82626" stroke-width="0.22" style="font-size:8.5px;font-weight:bold;" >AZD1775</text>
<path d="M143,522V536.8M136,536.8H150" stroke="#d82626" stroke-width="2.2"/>
<path d="M143.30,568.50L143.30,588.44" stroke="#111" stroke-width="1.5"/>
<path d="M143.30,592.40L140.57,588.00L146.03,588.00z" fill="#111"/>
<text x="142.9" y="600.2" text-anchor="middle" fill="#111" stroke="#111" stroke-width="0.22" style="font-size:7.4px;font-weight:bold;" >Cell Death</text>
<text x="243.2" y="464.3" text-anchor="middle" fill="#111" stroke="#111" stroke-width="0.22" style="font-size:7.4px;font-weight:bold;" >Primary Resistance to AZD1775</text>
<rect x="188" y="468" width="109.5" height="145.5" fill="#f9d6d6"/>
<rect transform="translate(188.8,480.2)" width="107.5" height="6.9" fill="url(#mem)"/>
<path d="M237.70000000000002,476.5Q241.3,480.3 241.4,483.8V491.90000000000003" stroke="#2a7dc0" stroke-width="2.7" fill="none"/>
<path d="M248.9,476.5Q245.3,480.3 245.20000000000002,483.8V491.90000000000003" stroke="#2a7dc0" stroke-width="2.7" fill="none"/>
<path d="M241.5,484.3H245.10000000000002" stroke="#2a7dc0" stroke-width="1.2"/>
<text x="242.6" y="475.8" text-anchor="middle" fill="#1a1a2a" stroke="#1a1a2a" stroke-width="0.22" style="font-size:7.1px;font-weight:bold;" >AXL</text>
<ellipse cx="217.2" cy="507.5" rx="14.8" ry="4.6" fill="#95bde3" stroke="#86b0da" stroke-width="0.6"/>
<text x="217.2" y="509.7" text-anchor="middle" fill="#1d2d52" stroke="#1d2d52" stroke-width="0.22" style="font-size:6.3px;font-weight:bold;" >MEK</text>
<ellipse cx="264.7" cy="507.4" rx="14.8" ry="4.6" fill="#95bde3" stroke="#86b0da" stroke-width="0.6"/>
<text x="264.7" y="509.59999999999997" text-anchor="middle" fill="#1d2d52" stroke="#1d2d52" stroke-width="0.22" style="font-size:6.3px;font-weight:bold;" >AKT</text>
<ellipse cx="218.8" cy="528.8" rx="14.5" ry="4.6" fill="#95bde3" stroke="#86b0da" stroke-width="0.6"/>
<text x="218.8" y="531.0" text-anchor="middle" fill="#1d2d52" stroke="#1d2d52" stroke-width="0.22" style="font-size:6.3px;font-weight:bold;" >ERK</text>
<ellipse cx="265.8" cy="528.6" rx="15.2" ry="4.6" fill="#95bde3" stroke="#86b0da" stroke-width="0.6"/>
<text x="265.8" y="530.8000000000001" text-anchor="middle" fill="#1d2d52" stroke="#1d2d52" stroke-width="0.22" style="font-size:6.3px;font-weight:bold;" >mTOR</text>
<ellipse cx="219.6" cy="550.5" rx="14.9" ry="4.6" fill="#95bde3" stroke="#86b0da" stroke-width="0.6"/>
<text x="219.6" y="552.7" text-anchor="middle" fill="#1d2d52" stroke="#1d2d52" stroke-width="0.22" style="font-size:6.3px;font-weight:bold;" >p90RSK</text>
<path d="M240.30,494.50L229.64,500.45" stroke="#111" stroke-width="1.7"/>
<path d="M226.50,502.20L228.78,498.09L231.20,502.42z" fill="#111"/>
<path d="M246.30,494.50L252.74,499.89" stroke="#111" stroke-width="1.7"/>
<path d="M255.50,502.20L250.84,501.53L254.02,497.73z" fill="#111"/>
<path d="M218.20,512.20L218.20,520.82" stroke="#111" stroke-width="1.9" stroke-dasharray="1.6,1.2"/>
<path d="M218.20,524.60L215.60,520.40L220.80,520.40z" fill="#111"/>
<path d="M265.70,512.20L265.70,520.82" stroke="#111" stroke-width="1.9" stroke-dasharray="1.6,1.2"/>
<path d="M265.70,524.60L263.10,520.40L268.30,520.40z" fill="#111"/>
<path d="M218.20,534.20L218.20,542.02" stroke="#111" stroke-width="1.9" stroke-dasharray="1.6,1.2"/>
<path d="M218.20,545.80L215.60,541.60L220.80,541.60z" fill="#111"/>
<path d="M266.80,534.40L238.37,548.08" stroke="#111" stroke-width="2.0" stroke-dasharray="1.6,1.2"/>
<path d="M234.80,549.80L237.58,545.43L239.95,550.35z" fill="#111"/>
<path d="M218.20,555.20L218.20,561.80" stroke="#111" stroke-width="1.8" stroke-dasharray="1.6,1.2"/>
<path d="M218.20,565.40L215.72,561.40L220.68,561.40z" fill="#111"/>
<text x="191.8" y="570.6" text-anchor="start" fill="#111" stroke="#111" stroke-width="0.22" style="font-size:6.0px;font-weight:bold;" >CHK1</text>
<path d="M209.00,568.10L223.96,568.10" stroke="#111" stroke-width="0.8" stroke-dasharray="1.6,1.2"/>
<path d="M226.30,568.10L223.70,569.71L223.70,566.49z" fill="#111"/>
<text x="233.9" y="567.4" text-anchor="middle" fill="#111" stroke="#111" stroke-width="0.22" style="font-size:6.0px;font-weight:bold;" >CHK1</text>
<text x="233.9" y="574.9" text-anchor="middle" fill="#111" stroke="#111" stroke-width="0.22" style="font-size:6.0px;font-weight:bold;" >S280</text>
<path d="M233.20,576.60L233.20,582.90" stroke="#111" stroke-width="1.8" stroke-dasharray="1.6,1.2"/>
<path d="M233.20,586.50L230.72,582.50L235.68,582.50z" fill="#111"/>
<text x="209" y="592.5" text-anchor="start" fill="#111" stroke="#111" stroke-width="0.22" style="font-size:6.1px;font-weight:bold;" >CHK1_S296</text>
<path d="M249.10,593.60L249.10,586.14" stroke="#111" stroke-width="2.4"/>
<path d="M249.10,582.00L251.95,586.60L246.25,586.60z" fill="#111"/>
<text x="274.6" y="571.2" text-anchor="middle" fill="#111" stroke="#111" stroke-width="0.22" style="font-size:6.1px;font-weight:bold;" >AZD1775</text>
<path d="M274.6,573V583M269.8,583H279.40000000000003" stroke="#dd2a2a" stroke-width="2.0" fill="none"/>
<text x="275" y="592.5" text-anchor="middle" fill="#111" stroke="#111" stroke-width="0.22" style="font-size:6.1px;font-weight:bold;" >WEE1</text>
<path d="M232.5,593.6V597.2H273.6V593.6" stroke="#111" stroke-width="1.4" fill="none"/>
<path d="M254.60,597.20L254.60,602.42" stroke="#111" stroke-width="1.5"/>
<path d="M254.60,606.20L252.00,602.00L257.20,602.00z" fill="#111"/>
<text x="253.6" y="612.4" text-anchor="middle" fill="#111" stroke="#111" stroke-width="0.22" style="font-size:6.1px;font-weight:bold;" >Proliferation</text>
<text x="365.8" y="464.3" text-anchor="middle" fill="#111" stroke="#111" stroke-width="0.22" style="font-size:7.4px;font-weight:bold;" >Acquired Resistance to AZD1775</text>
<rect x="310.6" y="468" width="110.2" height="145.7" fill="#f9d6d6" stroke="#d8383c" stroke-width="1.3" stroke-dasharray="5,3"/>
<rect transform="translate(311.3,480.3)" width="108.0" height="6.9" fill="url(#mem)"/>
<path d="M335.7,476.5Q339.3,480.3 339.40000000000003,483.8V491.90000000000003" stroke="#2a7dc0" stroke-width="2.7" fill="none"/>
<path d="M346.90000000000003,476.5Q343.3,480.3 343.2,483.8V491.90000000000003" stroke="#2a7dc0" stroke-width="2.7" fill="none"/>
<path d="M339.5,484.3H343.1" stroke="#2a7dc0" stroke-width="1.2"/>
<path d="M377.0,476.5Q380.6,480.3 380.70000000000005,483.8V491.90000000000003" stroke="#2a7dc0" stroke-width="2.7" fill="none"/>
<path d="M388.20000000000005,476.5Q384.6,480.3 384.5,483.8V491.90000000000003" stroke="#2a7dc0" stroke-width="2.7" fill="none"/>
<path d="M380.8,484.3H384.40000000000003" stroke="#2a7dc0" stroke-width="1.2"/>
<text x="341.2" y="476.2" text-anchor="middle" fill="#1a1a2a" stroke="#1a1a2a" stroke-width="0.22" style="font-size:7.1px;font-weight:bold;" >AXL</text>
<text x="382.5" y="476.2" text-anchor="middle" fill="#1a1a2a" stroke="#1a1a2a" stroke-width="0.22" style="font-size:7.1px;font-weight:bold;" >MET</text>
<ellipse cx="340.7" cy="507.5" rx="14.8" ry="4.6" fill="#95bde3" stroke="#86b0da" stroke-width="0.6"/>
<text x="340.7" y="509.7" text-anchor="middle" fill="#1d2d52" stroke="#1d2d52" stroke-width="0.22" style="font-size:6.3px;font-weight:bold;" >MEK</text>
<ellipse cx="388.2" cy="507.4" rx="14.8" ry="4.6" fill="#95bde3" stroke="#86b0da" stroke-width="0.6"/>
<text x="388.2" y="509.59999999999997" text-anchor="middle" fill="#1d2d52" stroke="#1d2d52" stroke-width="0.22" style="font-size:6.3px;font-weight:bold;" >AKT</text>
<ellipse cx="342.3" cy="528.8" rx="14.5" ry="4.6" fill="#95bde3" stroke="#86b0da" stroke-width="0.6"/>
<text x="342.3" y="531.0" text-anchor="middle" fill="#1d2d52" stroke="#1d2d52" stroke-width="0.22" style="font-size:6.3px;font-weight:bold;" >ERK</text>
<ellipse cx="389.3" cy="528.6" rx="15.2" ry="4.6" fill="#95bde3" stroke="#86b0da" stroke-width="0.6"/>
<text x="389.3" y="530.8000000000001" text-anchor="middle" fill="#1d2d52" stroke="#1d2d52" stroke-width="0.22" style="font-size:6.3px;font-weight:bold;" >mTOR</text>
<ellipse cx="343.1" cy="550.5" rx="14.9" ry="4.6" fill="#95bde3" stroke="#86b0da" stroke-width="0.6"/>
<text x="343.1" y="552.7" text-anchor="middle" fill="#1d2d52" stroke="#1d2d52" stroke-width="0.22" style="font-size:6.3px;font-weight:bold;" >p90RSK</text>
<path d="M340.80,493.50L337.37,499.13" stroke="#111" stroke-width="1.7"/>
<path d="M335.50,502.20L335.46,497.49L339.70,500.07z" fill="#111"/>
<path d="M342.50,492.80L368.73,504.98" stroke="#111" stroke-width="1.7"/>
<path d="M372.00,506.50L367.33,507.06L369.42,502.57z" fill="#111"/>
<path d="M381.40,492.80L359.13,505.42" stroke="#111" stroke-width="1.7"/>
<path d="M356.00,507.20L358.26,503.07L360.70,507.38z" fill="#111"/>
<path d="M383.40,493.50L385.28,497.89" stroke="#111" stroke-width="1.7"/>
<path d="M386.70,501.20L382.84,498.50L387.40,496.55z" fill="#111"/>
<path d="M341.70,512.20L341.70,520.82" stroke="#111" stroke-width="1.9" stroke-dasharray="1.6,1.2"/>
<path d="M341.70,524.60L339.10,520.40L344.30,520.40z" fill="#111"/>
<path d="M389.20,512.20L389.20,520.82" stroke="#111" stroke-width="1.9" stroke-dasharray="1.6,1.2"/>
<path d="M389.20,524.60L386.60,520.40L391.80,520.40z" fill="#111"/>
<path d="M341.70,534.20L341.70,542.02" stroke="#111" stroke-width="1.9" stroke-dasharray="1.6,1.2"/>
<path d="M341.70,545.80L339.10,541.60L344.30,541.60z" fill="#111"/>
<path d="M390.30,534.40L361.87,548.08" stroke="#111" stroke-width="2.0" stroke-dasharray="1.6,1.2"/>
<path d="M358.30,549.80L361.08,545.43L363.45,550.35z" fill="#111"/>
<path d="M341.70,555.20L341.70,561.80" stroke="#111" stroke-width="1.8" stroke-dasharray="1.6,1.2"/>
<path d="M341.70,565.40L339.22,561.40L344.18,561.40z" fill="#111"/>
<text x="315.3" y="570.6" text-anchor="start" fill="#111" stroke="#111" stroke-width="0.22" style="font-size:6.0px;font-weight:bold;" >CHK1</text>
<path d="M332.50,568.10L347.46,568.10" stroke="#111" stroke-width="0.8" stroke-dasharray="1.6,1.2"/>
<path d="M349.80,568.10L347.20,569.71L347.20,566.49z" fill="#111"/>
<text x="357.4" y="567.4" text-anchor="middle" fill="#111" stroke="#111" stroke-width="0.22" style="font-size:6.0px;font-weight:bold;" >CHK1</text>
<text x="357.4" y="574.9" text-anchor="middle" fill="#111" stroke="#111" stroke-width="0.22" style="font-size:6.0px;font-weight:bold;" >S280</text>
<path d="M356.70,576.60L356.70,582.90" stroke="#111" stroke-width="1.8" stroke-dasharray="1.6,1.2"/>
<path d="M356.70,586.50L354.22,582.50L359.18,582.50z" fill="#111"/>
<text x="332.5" y="592.5" text-anchor="start" fill="#111" stroke="#111" stroke-width="0.22" style="font-size:6.1px;font-weight:bold;" >CHK1_S296</text>
<path d="M372.60,593.60L372.60,586.14" stroke="#111" stroke-width="2.4"/>
<path d="M372.60,582.00L375.45,586.60L369.75,586.60z" fill="#111"/>
<text x="398.1" y="571.2" text-anchor="middle" fill="#111" stroke="#111" stroke-width="0.22" style="font-size:6.1px;font-weight:bold;" >AZD1775</text>
<path d="M398.1,573V583M393.3,583H402.90000000000003" stroke="#dd2a2a" stroke-width="2.0" fill="none"/>
<text x="398.5" y="592.5" text-anchor="middle" fill="#111" stroke="#111" stroke-width="0.22" style="font-size:6.1px;font-weight:bold;" >WEE1</text>
<path d="M356.0,593.6V597.2H397.1V593.6" stroke="#111" stroke-width="1.4" fill="none"/>
<path d="M378.10,597.20L378.10,602.42" stroke="#111" stroke-width="1.5"/>
<path d="M378.10,606.20L375.50,602.00L380.70,602.00z" fill="#111"/>
<text x="377.1" y="612.4" text-anchor="middle" fill="#111" stroke="#111" stroke-width="0.22" style="font-size:6.1px;font-weight:bold;" >Proliferation</text>
<text x="248" y="629.3" text-anchor="middle" fill="#111" stroke="#111" stroke-width="0.22" style="font-size:7.1px;font-weight:bold;" >AZD1775+AXLi</text>
<rect x="191.5" y="635" width="112" height="150" fill="#e5f5fa"/>
<rect transform="translate(193.3,648.4)" width="106.2" height="6.9" fill="url(#mem)"/>
<path d="M242.3,644.4000000000001Q245.9,648.2 246.0,651.7V659.8000000000001" stroke="#2a7dc0" stroke-width="2.7" fill="none"/>
<path d="M253.5,644.4000000000001Q249.9,648.2 249.8,651.7V659.8000000000001" stroke="#2a7dc0" stroke-width="2.7" fill="none"/>
<path d="M246.1,652.2H249.70000000000002" stroke="#2a7dc0" stroke-width="1.2"/>
<text x="247.5" y="642.7" text-anchor="middle" fill="#1a1a2a" stroke="#1a1a2a" stroke-width="0.22" style="font-size:7.1px;font-weight:bold;" >AXL</text>
<path d="M259,636.8V642.9M259,639.6H269.8" stroke="#d82626" stroke-width="1.8"/>
<text x="272.6" y="642.1" text-anchor="start" fill="#111" stroke="#111" stroke-width="0.22" style="font-size:6.0px;font-weight:bold;" >TP0903</text>
<ellipse cx="223.5" cy="675.5" rx="14.8" ry="4.6" fill="#95bde3" stroke="#86b0da" stroke-width="0.6"/>
<text x="223.5" y="677.7" text-anchor="middle" fill="#1d2d52" stroke="#1d2d52" stroke-width="0.22" style="font-size:6.3px;font-weight:bold;" >MEK</text>
<ellipse cx="271.0" cy="675.4" rx="14.8" ry="4.6" fill="#95bde3" stroke="#86b0da" stroke-width="0.6"/>
<text x="271.0" y="677.6" text-anchor="middle" fill="#1d2d52" stroke="#1d2d52" stroke-width="0.22" style="font-size:6.3px;font-weight:bold;" >AKT</text>
<ellipse cx="225.10000000000002" cy="696.8" rx="14.5" ry="4.6" fill="#95bde3" stroke="#86b0da" stroke-width="0.6"/>
<text x="225.10000000000002" y="699.0" text-anchor="middle" fill="#1d2d52" stroke="#1d2d52" stroke-width="0.22" style="font-size:6.3px;font-weight:bold;" >ERK</text>
<ellipse cx="272.1" cy="696.6" rx="15.2" ry="4.6" fill="#95bde3" stroke="#86b0da" stroke-width="0.6"/>
<text x="272.1" y="698.8000000000001" text-anchor="middle" fill="#1d2d52" stroke="#1d2d52" stroke-width="0.22" style="font-size:6.3px;font-weight:bold;" >mTOR</text>
<ellipse cx="225.9" cy="718.5" rx="14.9" ry="4.6" fill="#95bde3" stroke="#86b0da" stroke-width="0.6"/>
<text x="225.9" y="720.7" text-anchor="middle" fill="#1d2d52" stroke="#1d2d52" stroke-width="0.22" style="font-size:6.3px;font-weight:bold;" >p90RSK</text>
<path d="M244.90,662.50L235.84,668.27" stroke="#111" stroke-width="1.7"/>
<path d="M232.80,670.20L234.84,665.96L237.51,670.14z" fill="#111"/>
<path d="M250.90,662.50L258.86,668.12" stroke="#111" stroke-width="1.7"/>
<path d="M261.80,670.20L257.10,669.92L259.96,665.87z" fill="#111"/>
<path d="M224.50,680.20L224.50,688.82" stroke="#111" stroke-width="1.9" stroke-dasharray="1.6,1.2"/>
<path d="M224.50,692.60L221.90,688.40L227.10,688.40z" fill="#111"/>
<path d="M272.00,680.20L272.00,688.82" stroke="#111" stroke-width="1.9" stroke-dasharray="1.6,1.2"/>
<path d="M272.00,692.60L269.40,688.40L274.60,688.40z" fill="#111"/>
<path d="M224.50,702.20L224.50,710.02" stroke="#111" stroke-width="1.9" stroke-dasharray="1.6,1.2"/>
<path d="M224.50,713.80L221.90,709.60L227.10,709.60z" fill="#111"/>
<path d="M273.10,702.40L244.67,716.08" stroke="#111" stroke-width="2.0" stroke-dasharray="1.6,1.2"/>
<path d="M241.10,717.80L243.88,713.43L246.25,718.35z" fill="#111"/>
<path d="M224.50,722.00L224.50,728.60" stroke="#111" stroke-width="1.8" stroke-dasharray="1.6,1.2"/>
<path d="M224.50,732.20L222.02,728.20L226.98,728.20z" fill="#111"/>
<text x="198.10000000000002" y="737.4000000000001" text-anchor="start" fill="#111" stroke="#111" stroke-width="0.22" style="font-size:6.0px;font-weight:bold;" >CHK1</text>
<path d="M215.30,734.90L230.26,734.90" stroke="#111" stroke-width="0.8" stroke-dasharray="1.6,1.2"/>
<path d="M232.60,734.90L230.00,736.51L230.00,733.29z" fill="#111"/>
<text x="240.20000000000002" y="734.2" text-anchor="middle" fill="#111" stroke="#111" stroke-width="0.22" style="font-size:6.0px;font-weight:bold;" >CHK1</text>
<text x="240.20000000000002" y="741.7" text-anchor="middle" fill="#111" stroke="#111" stroke-width="0.22" style="font-size:6.0px;font-weight:bold;" >S280</text>
<path d="M239.50,743.40L239.50,749.70" stroke="#111" stroke-width="1.8" stroke-dasharray="1.6,1.2"/>
<path d="M239.50,753.30L237.02,749.30L241.98,749.30z" fill="#111"/>
<text x="215.3" y="759.3" text-anchor="start" fill="#111" stroke="#111" stroke-width="0.22" style="font-size:6.1px;font-weight:bold;" >CHK1_S296</text>
<path d="M255.40,760.40L255.40,752.94" stroke="#111" stroke-width="2.4"/>
<path d="M255.40,748.80L258.25,753.40L252.55,753.40z" fill="#111"/>
<text x="280.90000000000003" y="738.0" text-anchor="middle" fill="#111" stroke="#111" stroke-width="0.22" style="font-size:6.1px;font-weight:bold;" >AZD1775</text>
<path d="M280.90000000000003,739.8V749.8M276.1,749.8H285.70000000000005" stroke="#dd2a2a" stroke-width="2.0" fill="none"/>
<text x="281.3" y="759.3" text-anchor="middle" fill="#111" stroke="#111" stroke-width="0.22" style="font-size:6.1px;font-weight:bold;" >WEE1</text>
<path d="M238.8,760.4000000000001V764.0H279.90000000000003V760.4000000000001" stroke="#111" stroke-width="1.4" fill="none"/>
<path d="M260.90,764.00L260.90,769.22" stroke="#111" stroke-width="1.5"/>
<path d="M260.90,773.00L258.30,768.80L263.50,768.80z" fill="#111"/>
<text x="259.9" y="779.2" text-anchor="middle" fill="#111" stroke="#111" stroke-width="0.22" style="font-size:6.1px;font-weight:bold;" >Cell death</text>
<text x="361.6" y="629.3" text-anchor="middle" fill="#111" stroke="#111" stroke-width="0.22" style="font-size:7.2px;font-weight:bold;" >AZD1775+mTORi</text>
<rect x="307.4" y="634.6" width="108.4" height="150.4" fill="#e5f5fa"/>
<rect transform="translate(307.4,648.4)" width="107.8" height="6.9" fill="url(#mem)"/>
<path d="M353.79999999999995,644.4000000000001Q357.4,648.2 357.5,651.7V659.8000000000001" stroke="#2a7dc0" stroke-width="2.7" fill="none"/>
<path d="M365.0,644.4000000000001Q361.4,648.2 361.29999999999995,651.7V659.8000000000001" stroke="#2a7dc0" stroke-width="2.7" fill="none"/>
<path d="M357.59999999999997,652.2H361.2" stroke="#2a7dc0" stroke-width="1.2"/>
<text x="360.5" y="642.7" text-anchor="middle" fill="#1a1a2a" stroke="#1a1a2a" stroke-width="0.22" style="font-size:7.1px;font-weight:bold;" >AXL</text>
<ellipse cx="335.0" cy="675.5" rx="14.8" ry="4.6" fill="#95bde3" stroke="#86b0da" stroke-width="0.6"/>
<text x="335.0" y="677.7" text-anchor="middle" fill="#1d2d52" stroke="#1d2d52" stroke-width="0.22" style="font-size:6.3px;font-weight:bold;" >MEK</text>
<ellipse cx="382.5" cy="675.4" rx="14.8" ry="4.6" fill="#95bde3" stroke="#86b0da" stroke-width="0.6"/>
<text x="382.5" y="677.6" text-anchor="middle" fill="#1d2d52" stroke="#1d2d52" stroke-width="0.22" style="font-size:6.3px;font-weight:bold;" >AKT</text>
<ellipse cx="336.6" cy="696.8" rx="14.5" ry="4.6" fill="#95bde3" stroke="#86b0da" stroke-width="0.6"/>
<text x="336.6" y="699.0" text-anchor="middle" fill="#1d2d52" stroke="#1d2d52" stroke-width="0.22" style="font-size:6.3px;font-weight:bold;" >ERK</text>
<ellipse cx="383.6" cy="696.6" rx="15.2" ry="4.6" fill="#95bde3" stroke="#86b0da" stroke-width="0.6"/>
<text x="383.6" y="698.8000000000001" text-anchor="middle" fill="#1d2d52" stroke="#1d2d52" stroke-width="0.22" style="font-size:6.3px;font-weight:bold;" >mTOR</text>
<ellipse cx="337.4" cy="718.5" rx="14.9" ry="4.6" fill="#95bde3" stroke="#86b0da" stroke-width="0.6"/>
<text x="337.4" y="720.7" text-anchor="middle" fill="#1d2d52" stroke="#1d2d52" stroke-width="0.22" style="font-size:6.3px;font-weight:bold;" >p90RSK</text>
<path d="M356.40,662.50L347.34,668.27" stroke="#111" stroke-width="1.7"/>
<path d="M344.30,670.20L346.34,665.96L349.01,670.14z" fill="#111"/>
<path d="M362.40,662.50L370.36,668.12" stroke="#111" stroke-width="1.7"/>
<path d="M373.30,670.20L368.60,669.92L371.46,665.87z" fill="#111"/>
<path d="M336.00,680.20L336.00,688.82" stroke="#111" stroke-width="1.9" stroke-dasharray="1.6,1.2"/>
<path d="M336.00,692.60L333.40,688.40L338.60,688.40z" fill="#111"/>
<path d="M383.50,680.20L383.50,688.82" stroke="#111" stroke-width="1.9" stroke-dasharray="1.6,1.2"/>
<path d="M383.50,692.60L380.90,688.40L386.10,688.40z" fill="#111"/>
<path d="M336.00,702.20L336.00,710.02" stroke="#111" stroke-width="1.9" stroke-dasharray="1.6,1.2"/>
<path d="M336.00,713.80L333.40,709.60L338.60,709.60z" fill="#111"/>
<path d="M384.60,702.40L356.17,716.08" stroke="#111" stroke-width="2.0" stroke-dasharray="1.6,1.2"/>
<path d="M352.60,717.80L355.38,713.43L357.75,718.35z" fill="#111"/>
<path d="M336.00,722.00L336.00,728.60" stroke="#111" stroke-width="1.8" stroke-dasharray="1.6,1.2"/>
<path d="M336.00,732.20L333.52,728.20L338.48,728.20z" fill="#111"/>
<text x="309.6" y="737.4000000000001" text-anchor="start" fill="#111" stroke="#111" stroke-width="0.22" style="font-size:6.0px;font-weight:bold;" >CHK1</text>
<path d="M326.80,734.90L341.76,734.90" stroke="#111" stroke-width="0.8" stroke-dasharray="1.6,1.2"/>
<path d="M344.10,734.90L341.50,736.51L341.50,733.29z" fill="#111"/>
<text x="351.7" y="734.2" text-anchor="middle" fill="#111" stroke="#111" stroke-width="0.22" style="font-size:6.0px;font-weight:bold;" >CHK1</text>
<text x="351.7" y="741.7" text-anchor="middle" fill="#111" stroke="#111" stroke-width="0.22" style="font-size:6.0px;font-weight:bold;" >S280</text>
<path d="M351.00,743.40L351.00,749.70" stroke="#111" stroke-width="1.8" stroke-dasharray="1.6,1.2"/>
<path d="M351.00,753.30L348.52,749.30L353.48,749.30z" fill="#111"/>
<text x="326.8" y="759.3" text-anchor="start" fill="#111" stroke="#111" stroke-width="0.22" style="font-size:6.1px;font-weight:bold;" >CHK1_S296</text>
<path d="M366.90,760.40L366.90,752.94" stroke="#111" stroke-width="2.4"/>
<path d="M366.90,748.80L369.75,753.40L364.05,753.40z" fill="#111"/>
<text x="392.40000000000003" y="738.0" text-anchor="middle" fill="#111" stroke="#111" stroke-width="0.22" style="font-size:6.1px;font-weight:bold;" >AZD1775</text>
<path d="M392.40000000000003,739.8V749.8M387.6,749.8H397.20000000000005" stroke="#dd2a2a" stroke-width="2.0" fill="none"/>
<text x="392.8" y="759.3" text-anchor="middle" fill="#111" stroke="#111" stroke-width="0.22" style="font-size:6.1px;font-weight:bold;" >WEE1</text>
<path d="M350.3,760.4000000000001V764.0H391.40000000000003V760.4000000000001" stroke="#111" stroke-width="1.4" fill="none"/>
<path d="M372.40,764.00L372.40,769.22" stroke="#111" stroke-width="1.5"/>
<path d="M372.40,773.00L369.80,768.80L375.00,768.80z" fill="#111"/>
<text x="371.4" y="779.2" text-anchor="middle" fill="#111" stroke="#111" stroke-width="0.22" style="font-size:6.1px;font-weight:bold;" >Cell death</text>
<path d="M391.40000000000003,702.5V712.2M387.0,703.5H395.8" stroke="#dd2a2a" stroke-width="2"/>
<text x="393.40000000000003" y="717.8" text-anchor="middle" fill="#111" stroke="#111" stroke-width="0.22" style="font-size:6.1px;font-weight:bold;" >RAD001</text>
</svg></body></html>
